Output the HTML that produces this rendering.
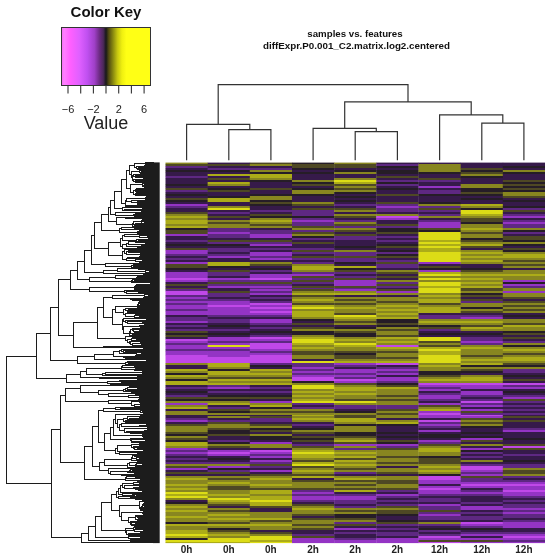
<!DOCTYPE html>
<html><head><meta charset="utf-8"><title>heatmap</title>
<style>html,body{margin:0;padding:0;background:#fff;width:550px;height:558px;overflow:hidden}svg{display:block}</style>
</head><body><svg width="550" height="558" viewBox="0 0 550 558" font-family="Liberation Sans, Arial, sans-serif"><defs><linearGradient id="kg" x1="0" x2="1" y1="0" y2="0"><stop offset="0.0" stop-color="#F070F0"/><stop offset="0.03" stop-color="#FF80FF"/><stop offset="0.1" stop-color="#FF60FF"/><stop offset="0.2" stop-color="#E060FF"/><stop offset="0.29" stop-color="#C050F0"/><stop offset="0.37" stop-color="#A040C8"/><stop offset="0.43" stop-color="#6A2A80"/><stop offset="0.47" stop-color="#4a2858"/><stop offset="0.5" stop-color="#181818"/><stop offset="0.53" stop-color="#504a10"/><stop offset="0.58" stop-color="#8a8a10"/><stop offset="0.63" stop-color="#C8C810"/><stop offset="0.68" stop-color="#F0F010"/><stop offset="0.73" stop-color="#FFFF15"/><stop offset="1.0" stop-color="#FFFF15"/></linearGradient></defs><rect x="61.5" y="27.5" width="89.0" height="58.0" fill="url(#kg)" stroke="#333" stroke-width="1"/><line x1="68.0" y1="85.5" x2="68.0" y2="93.5" stroke="#333" stroke-width="1.1"/><line x1="80.7" y1="85.5" x2="80.7" y2="93.5" stroke="#333" stroke-width="1.1"/><line x1="93.4" y1="85.5" x2="93.4" y2="93.5" stroke="#333" stroke-width="1.1"/><line x1="106.0" y1="85.5" x2="106.0" y2="93.5" stroke="#333" stroke-width="1.1"/><line x1="118.7" y1="85.5" x2="118.7" y2="93.5" stroke="#333" stroke-width="1.1"/><line x1="131.4" y1="85.5" x2="131.4" y2="93.5" stroke="#333" stroke-width="1.1"/><line x1="144.1" y1="85.5" x2="144.1" y2="93.5" stroke="#333" stroke-width="1.1"/><text x="68.0" y="113" text-anchor="middle" font-size="11" fill="#222">−6</text><text x="93.4" y="113" text-anchor="middle" font-size="11" fill="#222">−2</text><text x="118.7" y="113" text-anchor="middle" font-size="11" fill="#222">2</text><text x="144.1" y="113" text-anchor="middle" font-size="11" fill="#222">6</text><text x="106" y="128.5" text-anchor="middle" font-size="18" fill="#222">Value</text><text x="106" y="17.2" text-anchor="middle" font-size="15" font-weight="bold" fill="#111">Color Key</text><text x="355" y="37" text-anchor="middle" font-size="9.7" font-weight="bold" fill="#111">samples vs. features</text><text x="356.5" y="49.3" text-anchor="middle" font-size="9.8" font-weight="bold" fill="#111">diffExpr.P0.001_C2.matrix.log2.centered</text><path d="M186.6 124.3L186.6 159.6M228.8 129.7L228.8 159.6M270.9 129.7L270.9 159.6M228.8 129.7L270.9 129.7M249.8 124.3L249.8 129.7M186.6 124.3L249.8 124.3M218.2 84.6L218.2 124.3M313.1 128.4L313.1 159.6M355.2 131.7L355.2 159.6M397.4 131.7L397.4 159.6M355.2 131.7L397.4 131.7M376.3 128.4L376.3 131.7M313.1 128.4L376.3 128.4M344.7 101.8L344.7 128.4M439.6 114.9L439.6 159.6M481.8 123.1L481.8 159.6M523.9 123.1L523.9 159.6M481.8 123.1L523.9 123.1M502.8 114.9L502.8 123.1M439.6 114.9L502.8 114.9M471.2 101.8L471.2 114.9M344.7 101.8L471.2 101.8M408.0 84.6L408.0 101.8M218.2 84.6L408.0 84.6" stroke="#333" stroke-width="1.2" fill="none" stroke-linecap="square"/><text x="186.6" y="553" text-anchor="middle" font-size="10" font-weight="bold" fill="#222">0h</text><text x="228.8" y="553" text-anchor="middle" font-size="10" font-weight="bold" fill="#222">0h</text><text x="270.9" y="553" text-anchor="middle" font-size="10" font-weight="bold" fill="#222">0h</text><text x="313.1" y="553" text-anchor="middle" font-size="10" font-weight="bold" fill="#222">2h</text><text x="355.2" y="553" text-anchor="middle" font-size="10" font-weight="bold" fill="#222">2h</text><text x="397.4" y="553" text-anchor="middle" font-size="10" font-weight="bold" fill="#222">2h</text><text x="439.6" y="553" text-anchor="middle" font-size="10" font-weight="bold" fill="#222">12h</text><text x="481.8" y="553" text-anchor="middle" font-size="10" font-weight="bold" fill="#222">12h</text><text x="523.9" y="553" text-anchor="middle" font-size="10" font-weight="bold" fill="#222">12h</text><g><rect x="165.50" y="162.60" width="42.47" height="1.70" fill="#888620"/><rect x="165.50" y="164.00" width="42.47" height="2.30" fill="#4E4824"/><rect x="165.50" y="166.00" width="42.47" height="2.30" fill="#5E2882"/><rect x="165.50" y="168.00" width="42.47" height="2.30" fill="#361A4A"/><rect x="165.50" y="170.00" width="42.47" height="2.30" fill="#261D27"/><rect x="165.50" y="172.00" width="42.47" height="4.30" fill="#361A4A"/><rect x="165.50" y="176.00" width="42.47" height="2.30" fill="#5E2882"/><rect x="165.50" y="178.00" width="42.47" height="6.30" fill="#361A4A"/><rect x="165.50" y="184.00" width="42.47" height="2.30" fill="#261D27"/><rect x="165.50" y="186.00" width="42.47" height="2.30" fill="#361A4A"/><rect x="165.50" y="188.00" width="42.47" height="2.30" fill="#4E4824"/><rect x="165.50" y="190.00" width="42.47" height="2.30" fill="#5E2882"/><rect x="165.50" y="192.00" width="42.47" height="2.30" fill="#361A4A"/><rect x="165.50" y="194.00" width="42.47" height="2.30" fill="#261D27"/><rect x="165.50" y="196.00" width="42.47" height="2.30" fill="#361A4A"/><rect x="165.50" y="198.00" width="42.47" height="2.30" fill="#4E4824"/><rect x="165.50" y="200.00" width="42.47" height="2.30" fill="#261D27"/><rect x="165.50" y="202.00" width="42.47" height="2.30" fill="#361A4A"/><rect x="165.50" y="204.00" width="42.47" height="2.30" fill="#9434C4"/><rect x="165.50" y="206.00" width="42.47" height="2.30" fill="#5E2882"/><rect x="165.50" y="208.00" width="42.47" height="4.30" fill="#361A4A"/><rect x="165.50" y="212.00" width="42.47" height="2.30" fill="#4E4824"/><rect x="165.50" y="214.00" width="42.47" height="2.30" fill="#888620"/><rect x="165.50" y="216.00" width="42.47" height="2.30" fill="#ACAC18"/><rect x="165.50" y="218.00" width="42.47" height="2.30" fill="#888620"/><rect x="165.50" y="220.00" width="42.47" height="4.30" fill="#ACAC18"/><rect x="165.50" y="224.00" width="42.47" height="2.30" fill="#888620"/><rect x="165.50" y="226.00" width="42.47" height="2.30" fill="#ACAC18"/><rect x="165.50" y="228.00" width="42.47" height="2.30" fill="#261D27"/><rect x="165.50" y="230.00" width="42.47" height="4.30" fill="#4E4824"/><rect x="165.50" y="234.00" width="42.47" height="2.30" fill="#9434C4"/><rect x="165.50" y="236.00" width="42.47" height="4.30" fill="#361A4A"/><rect x="165.50" y="240.00" width="42.47" height="2.30" fill="#5E2882"/><rect x="165.50" y="242.00" width="42.47" height="2.30" fill="#361A4A"/><rect x="165.50" y="244.00" width="42.47" height="2.30" fill="#261D27"/><rect x="165.50" y="246.00" width="42.47" height="2.30" fill="#361A4A"/><rect x="165.50" y="248.00" width="42.47" height="2.30" fill="#4E4824"/><rect x="165.50" y="250.00" width="42.47" height="4.30" fill="#9434C4"/><rect x="165.50" y="254.00" width="42.47" height="2.30" fill="#5E2882"/><rect x="165.50" y="256.00" width="42.47" height="2.30" fill="#361A4A"/><rect x="165.50" y="258.00" width="42.47" height="2.30" fill="#5E2882"/><rect x="165.50" y="260.00" width="42.47" height="2.30" fill="#361A4A"/><rect x="165.50" y="262.00" width="42.47" height="2.30" fill="#9434C4"/><rect x="165.50" y="264.00" width="42.47" height="4.30" fill="#4E4824"/><rect x="165.50" y="268.00" width="42.47" height="2.30" fill="#261D27"/><rect x="165.50" y="270.00" width="42.47" height="2.30" fill="#361A4A"/><rect x="165.50" y="272.00" width="42.47" height="6.30" fill="#9434C4"/><rect x="165.50" y="278.00" width="42.47" height="2.30" fill="#C048E8"/><rect x="165.50" y="280.00" width="42.47" height="2.30" fill="#9434C4"/><rect x="165.50" y="282.00" width="42.47" height="2.30" fill="#361A4A"/><rect x="165.50" y="284.00" width="42.47" height="2.30" fill="#4E4824"/><rect x="165.50" y="286.00" width="42.47" height="2.30" fill="#361A4A"/><rect x="165.50" y="288.00" width="42.47" height="1.30" fill="#4E4824"/><rect x="165.50" y="289.00" width="42.47" height="2.30" fill="#5E2882"/><rect x="165.50" y="291.00" width="42.47" height="4.30" fill="#C048E8"/><rect x="165.50" y="295.00" width="42.47" height="2.30" fill="#5E2882"/><rect x="165.50" y="297.00" width="42.47" height="2.30" fill="#9434C4"/><rect x="165.50" y="299.00" width="42.47" height="2.30" fill="#5E2882"/><rect x="165.50" y="301.00" width="42.47" height="2.30" fill="#9434C4"/><rect x="165.50" y="303.00" width="42.47" height="2.30" fill="#5E2882"/><rect x="165.50" y="305.00" width="42.47" height="4.30" fill="#9434C4"/><rect x="165.50" y="309.00" width="42.47" height="2.30" fill="#5E2882"/><rect x="165.50" y="311.00" width="42.47" height="4.30" fill="#9434C4"/><rect x="165.50" y="315.00" width="42.47" height="2.30" fill="#361A4A"/><rect x="165.50" y="317.00" width="42.47" height="4.30" fill="#5E2882"/><rect x="165.50" y="321.00" width="42.47" height="2.30" fill="#9434C4"/><rect x="165.50" y="323.00" width="42.47" height="2.30" fill="#361A4A"/><rect x="165.50" y="325.00" width="42.47" height="2.30" fill="#5E2882"/><rect x="165.50" y="327.00" width="42.47" height="2.30" fill="#361A4A"/><rect x="165.50" y="329.00" width="42.47" height="2.30" fill="#5E2882"/><rect x="165.50" y="331.00" width="42.47" height="2.30" fill="#4E4824"/><rect x="165.50" y="333.00" width="42.47" height="2.30" fill="#261D27"/><rect x="165.50" y="335.00" width="42.47" height="2.30" fill="#4E4824"/><rect x="165.50" y="337.00" width="42.47" height="2.30" fill="#361A4A"/><rect x="165.50" y="339.00" width="42.47" height="2.30" fill="#C048E8"/><rect x="165.50" y="341.00" width="42.47" height="2.30" fill="#9434C4"/><rect x="165.50" y="343.00" width="42.47" height="2.30" fill="#5E2882"/><rect x="165.50" y="345.00" width="42.47" height="4.30" fill="#9434C4"/><rect x="165.50" y="349.00" width="42.47" height="2.30" fill="#5E2882"/><rect x="165.50" y="351.00" width="42.47" height="4.30" fill="#9434C4"/><rect x="165.50" y="355.00" width="42.47" height="8.30" fill="#C048E8"/><rect x="165.50" y="363.00" width="42.47" height="2.30" fill="#888620"/><rect x="165.50" y="365.00" width="42.47" height="4.30" fill="#361A4A"/><rect x="165.50" y="369.00" width="42.47" height="2.30" fill="#ACAC18"/><rect x="165.50" y="371.00" width="42.47" height="2.30" fill="#888620"/><rect x="165.50" y="373.00" width="42.47" height="2.30" fill="#261D27"/><rect x="165.50" y="375.00" width="42.47" height="2.30" fill="#ACAC18"/><rect x="165.50" y="377.00" width="42.47" height="2.30" fill="#888620"/><rect x="165.50" y="379.00" width="42.47" height="2.30" fill="#261D27"/><rect x="165.50" y="381.00" width="42.47" height="4.30" fill="#ACAC18"/><rect x="165.50" y="385.00" width="42.47" height="2.30" fill="#361A4A"/><rect x="165.50" y="387.00" width="42.47" height="2.30" fill="#5E2882"/><rect x="165.50" y="389.00" width="42.47" height="2.30" fill="#361A4A"/><rect x="165.50" y="391.00" width="42.47" height="2.30" fill="#261D27"/><rect x="165.50" y="393.00" width="42.47" height="2.30" fill="#361A4A"/><rect x="165.50" y="395.00" width="42.47" height="2.30" fill="#5E2882"/><rect x="165.50" y="397.00" width="42.47" height="2.30" fill="#4E4824"/><rect x="165.50" y="399.00" width="42.47" height="2.30" fill="#261D27"/><rect x="165.50" y="401.00" width="42.47" height="2.30" fill="#888620"/><rect x="165.50" y="403.00" width="42.47" height="2.30" fill="#9434C4"/><rect x="165.50" y="405.00" width="42.47" height="2.30" fill="#888620"/><rect x="165.50" y="407.00" width="42.47" height="2.30" fill="#ACAC18"/><rect x="165.50" y="409.00" width="42.47" height="2.30" fill="#361A4A"/><rect x="165.50" y="411.00" width="42.47" height="4.30" fill="#888620"/><rect x="165.50" y="415.00" width="42.47" height="3.30" fill="#361A4A"/><rect x="165.50" y="418.00" width="42.47" height="2.30" fill="#5E2882"/><rect x="165.50" y="420.00" width="42.47" height="2.30" fill="#9434C4"/><rect x="165.50" y="422.00" width="42.47" height="2.30" fill="#361A4A"/><rect x="165.50" y="424.00" width="42.47" height="2.30" fill="#4E4824"/><rect x="165.50" y="426.00" width="42.47" height="6.30" fill="#888620"/><rect x="165.50" y="432.00" width="42.47" height="2.30" fill="#4E4824"/><rect x="165.50" y="434.00" width="42.47" height="2.30" fill="#261D27"/><rect x="165.50" y="436.00" width="42.47" height="2.30" fill="#888620"/><rect x="165.50" y="438.00" width="42.47" height="2.30" fill="#4E4824"/><rect x="165.50" y="440.00" width="42.47" height="2.30" fill="#261D27"/><rect x="165.50" y="442.00" width="42.47" height="4.30" fill="#ACAC18"/><rect x="165.50" y="446.00" width="42.47" height="2.30" fill="#888620"/><rect x="165.50" y="448.00" width="42.47" height="2.30" fill="#9434C4"/><rect x="165.50" y="450.00" width="42.47" height="2.30" fill="#5E2882"/><rect x="165.50" y="452.00" width="42.47" height="2.30" fill="#9434C4"/><rect x="165.50" y="454.00" width="42.47" height="2.30" fill="#5E2882"/><rect x="165.50" y="456.00" width="42.47" height="2.30" fill="#361A4A"/><rect x="165.50" y="458.00" width="42.47" height="2.30" fill="#5E2882"/><rect x="165.50" y="460.00" width="42.47" height="2.30" fill="#361A4A"/><rect x="165.50" y="462.00" width="42.47" height="2.30" fill="#5E2882"/><rect x="165.50" y="464.00" width="42.47" height="2.30" fill="#888620"/><rect x="165.50" y="466.00" width="42.47" height="2.30" fill="#4E4824"/><rect x="165.50" y="468.00" width="42.47" height="2.30" fill="#9434C4"/><rect x="165.50" y="470.00" width="42.47" height="2.30" fill="#361A4A"/><rect x="165.50" y="472.00" width="42.47" height="2.30" fill="#4E4824"/><rect x="165.50" y="474.00" width="42.47" height="2.30" fill="#361A4A"/><rect x="165.50" y="476.00" width="42.47" height="2.30" fill="#888620"/><rect x="165.50" y="478.00" width="42.47" height="2.30" fill="#ACAC18"/><rect x="165.50" y="480.00" width="42.47" height="4.30" fill="#888620"/><rect x="165.50" y="484.00" width="42.47" height="2.30" fill="#ACAC18"/><rect x="165.50" y="486.00" width="42.47" height="2.30" fill="#888620"/><rect x="165.50" y="488.00" width="42.47" height="2.30" fill="#ACAC18"/><rect x="165.50" y="490.00" width="42.47" height="2.30" fill="#888620"/><rect x="165.50" y="492.00" width="42.47" height="2.30" fill="#DCDC16"/><rect x="165.50" y="494.00" width="42.47" height="2.30" fill="#ACAC18"/><rect x="165.50" y="496.00" width="42.47" height="2.30" fill="#DCDC16"/><rect x="165.50" y="498.00" width="42.47" height="2.30" fill="#888620"/><rect x="165.50" y="500.00" width="42.47" height="2.30" fill="#361A4A"/><rect x="165.50" y="502.00" width="42.47" height="2.30" fill="#261D27"/><rect x="165.50" y="504.00" width="42.47" height="2.30" fill="#888620"/><rect x="165.50" y="506.00" width="42.47" height="2.30" fill="#ACAC18"/><rect x="165.50" y="508.00" width="42.47" height="2.30" fill="#888620"/><rect x="165.50" y="510.00" width="42.47" height="2.30" fill="#ACAC18"/><rect x="165.50" y="512.00" width="42.47" height="4.30" fill="#888620"/><rect x="165.50" y="516.00" width="42.47" height="2.30" fill="#ACAC18"/><rect x="165.50" y="518.00" width="42.47" height="4.30" fill="#888620"/><rect x="165.50" y="522.00" width="42.47" height="2.30" fill="#261D27"/><rect x="165.50" y="524.00" width="42.47" height="2.30" fill="#ACAC18"/><rect x="165.50" y="526.00" width="42.47" height="4.30" fill="#888620"/><rect x="165.50" y="530.00" width="42.47" height="4.30" fill="#ACAC18"/><rect x="165.50" y="534.00" width="42.47" height="2.30" fill="#DCDC16"/><rect x="165.50" y="536.00" width="42.47" height="2.30" fill="#ACAC18"/><rect x="165.50" y="538.00" width="42.47" height="2.30" fill="#261D27"/><rect x="165.50" y="540.00" width="42.47" height="2.30" fill="#DCDC16"/><rect x="165.50" y="542.00" width="42.47" height="1.10" fill="#ACAC18"/><rect x="207.67" y="162.60" width="42.47" height="1.70" fill="#361A4A"/><rect x="207.67" y="164.00" width="42.47" height="2.30" fill="#4E4824"/><rect x="207.67" y="166.00" width="42.47" height="2.30" fill="#361A4A"/><rect x="207.67" y="168.00" width="42.47" height="2.30" fill="#5E2882"/><rect x="207.67" y="170.00" width="42.47" height="2.30" fill="#261D27"/><rect x="207.67" y="172.00" width="42.47" height="2.30" fill="#361A4A"/><rect x="207.67" y="174.00" width="42.47" height="2.30" fill="#ACAC18"/><rect x="207.67" y="176.00" width="42.47" height="2.30" fill="#361A4A"/><rect x="207.67" y="178.00" width="42.47" height="2.30" fill="#4E4824"/><rect x="207.67" y="180.00" width="42.47" height="2.30" fill="#361A4A"/><rect x="207.67" y="182.00" width="42.47" height="2.30" fill="#ACAC18"/><rect x="207.67" y="184.00" width="42.47" height="2.30" fill="#888620"/><rect x="207.67" y="186.00" width="42.47" height="2.30" fill="#361A4A"/><rect x="207.67" y="188.00" width="42.47" height="2.30" fill="#261D27"/><rect x="207.67" y="190.00" width="42.47" height="2.30" fill="#4E4824"/><rect x="207.67" y="192.00" width="42.47" height="4.30" fill="#361A4A"/><rect x="207.67" y="196.00" width="42.47" height="2.30" fill="#261D27"/><rect x="207.67" y="198.00" width="42.47" height="4.30" fill="#ACAC18"/><rect x="207.67" y="202.00" width="42.47" height="4.30" fill="#361A4A"/><rect x="207.67" y="206.00" width="42.47" height="2.30" fill="#888620"/><rect x="207.67" y="208.00" width="42.47" height="2.30" fill="#DCDC16"/><rect x="207.67" y="210.00" width="42.47" height="2.30" fill="#361A4A"/><rect x="207.67" y="212.00" width="42.47" height="2.30" fill="#5E2882"/><rect x="207.67" y="214.00" width="42.47" height="2.30" fill="#361A4A"/><rect x="207.67" y="216.00" width="42.47" height="2.30" fill="#4E4824"/><rect x="207.67" y="218.00" width="42.47" height="2.30" fill="#361A4A"/><rect x="207.67" y="220.00" width="42.47" height="2.30" fill="#888620"/><rect x="207.67" y="222.00" width="42.47" height="2.30" fill="#4E4824"/><rect x="207.67" y="224.00" width="42.47" height="4.30" fill="#888620"/><rect x="207.67" y="228.00" width="42.47" height="4.30" fill="#5E2882"/><rect x="207.67" y="232.00" width="42.47" height="2.30" fill="#9434C4"/><rect x="207.67" y="234.00" width="42.47" height="4.30" fill="#5E2882"/><rect x="207.67" y="238.00" width="42.47" height="2.30" fill="#361A4A"/><rect x="207.67" y="240.00" width="42.47" height="2.30" fill="#4E4824"/><rect x="207.67" y="242.00" width="42.47" height="2.30" fill="#5E2882"/><rect x="207.67" y="244.00" width="42.47" height="2.30" fill="#261D27"/><rect x="207.67" y="246.00" width="42.47" height="2.30" fill="#361A4A"/><rect x="207.67" y="248.00" width="42.47" height="4.30" fill="#5E2882"/><rect x="207.67" y="252.00" width="42.47" height="2.30" fill="#361A4A"/><rect x="207.67" y="254.00" width="42.47" height="2.30" fill="#5E2882"/><rect x="207.67" y="256.00" width="42.47" height="2.30" fill="#9434C4"/><rect x="207.67" y="258.00" width="42.47" height="4.30" fill="#361A4A"/><rect x="207.67" y="262.00" width="42.47" height="4.30" fill="#ACAC18"/><rect x="207.67" y="266.00" width="42.47" height="2.30" fill="#261D27"/><rect x="207.67" y="268.00" width="42.47" height="2.30" fill="#361A4A"/><rect x="207.67" y="270.00" width="42.47" height="2.30" fill="#4E4824"/><rect x="207.67" y="272.00" width="42.47" height="4.30" fill="#5E2882"/><rect x="207.67" y="276.00" width="42.47" height="2.30" fill="#361A4A"/><rect x="207.67" y="278.00" width="42.47" height="2.30" fill="#9434C4"/><rect x="207.67" y="280.00" width="42.47" height="2.30" fill="#5E2882"/><rect x="207.67" y="282.00" width="42.47" height="2.30" fill="#4E4824"/><rect x="207.67" y="284.00" width="42.47" height="2.30" fill="#5E2882"/><rect x="207.67" y="286.00" width="42.47" height="2.30" fill="#9434C4"/><rect x="207.67" y="288.00" width="42.47" height="3.30" fill="#361A4A"/><rect x="207.67" y="291.00" width="42.47" height="2.30" fill="#4E4824"/><rect x="207.67" y="293.00" width="42.47" height="4.30" fill="#5E2882"/><rect x="207.67" y="297.00" width="42.47" height="2.30" fill="#361A4A"/><rect x="207.67" y="299.00" width="42.47" height="2.30" fill="#5E2882"/><rect x="207.67" y="301.00" width="42.47" height="4.30" fill="#9434C4"/><rect x="207.67" y="305.00" width="42.47" height="2.30" fill="#C048E8"/><rect x="207.67" y="307.00" width="42.47" height="8.30" fill="#9434C4"/><rect x="207.67" y="315.00" width="42.47" height="2.30" fill="#5E2882"/><rect x="207.67" y="317.00" width="42.47" height="2.30" fill="#361A4A"/><rect x="207.67" y="319.00" width="42.47" height="4.30" fill="#5E2882"/><rect x="207.67" y="323.00" width="42.47" height="2.30" fill="#361A4A"/><rect x="207.67" y="325.00" width="42.47" height="2.30" fill="#261D27"/><rect x="207.67" y="327.00" width="42.47" height="2.30" fill="#361A4A"/><rect x="207.67" y="329.00" width="42.47" height="2.30" fill="#5E2882"/><rect x="207.67" y="331.00" width="42.47" height="2.30" fill="#361A4A"/><rect x="207.67" y="333.00" width="42.47" height="2.30" fill="#261D27"/><rect x="207.67" y="335.00" width="42.47" height="2.30" fill="#361A4A"/><rect x="207.67" y="337.00" width="42.47" height="4.30" fill="#9434C4"/><rect x="207.67" y="341.00" width="42.47" height="2.30" fill="#5E2882"/><rect x="207.67" y="343.00" width="42.47" height="2.30" fill="#9434C4"/><rect x="207.67" y="345.00" width="42.47" height="2.30" fill="#DCDC16"/><rect x="207.67" y="347.00" width="42.47" height="2.30" fill="#9434C4"/><rect x="207.67" y="349.00" width="42.47" height="2.30" fill="#5E2882"/><rect x="207.67" y="351.00" width="42.47" height="6.30" fill="#9434C4"/><rect x="207.67" y="357.00" width="42.47" height="6.30" fill="#C048E8"/><rect x="207.67" y="363.00" width="42.47" height="4.30" fill="#ACAC18"/><rect x="207.67" y="367.00" width="42.47" height="2.30" fill="#888620"/><rect x="207.67" y="369.00" width="42.47" height="2.30" fill="#261D27"/><rect x="207.67" y="371.00" width="42.47" height="4.30" fill="#ACAC18"/><rect x="207.67" y="375.00" width="42.47" height="2.30" fill="#888620"/><rect x="207.67" y="377.00" width="42.47" height="2.30" fill="#4E4824"/><rect x="207.67" y="379.00" width="42.47" height="2.30" fill="#ACAC18"/><rect x="207.67" y="381.00" width="42.47" height="2.30" fill="#888620"/><rect x="207.67" y="383.00" width="42.47" height="2.30" fill="#ACAC18"/><rect x="207.67" y="385.00" width="42.47" height="2.30" fill="#5E2882"/><rect x="207.67" y="387.00" width="42.47" height="2.30" fill="#9434C4"/><rect x="207.67" y="389.00" width="42.47" height="2.30" fill="#361A4A"/><rect x="207.67" y="391.00" width="42.47" height="2.30" fill="#5E2882"/><rect x="207.67" y="393.00" width="42.47" height="2.30" fill="#361A4A"/><rect x="207.67" y="395.00" width="42.47" height="2.30" fill="#261D27"/><rect x="207.67" y="397.00" width="42.47" height="2.30" fill="#4E4824"/><rect x="207.67" y="399.00" width="42.47" height="2.30" fill="#261D27"/><rect x="207.67" y="401.00" width="42.47" height="2.30" fill="#888620"/><rect x="207.67" y="403.00" width="42.47" height="2.30" fill="#ACAC18"/><rect x="207.67" y="405.00" width="42.47" height="2.30" fill="#361A4A"/><rect x="207.67" y="407.00" width="42.47" height="2.30" fill="#5E2882"/><rect x="207.67" y="409.00" width="42.47" height="2.30" fill="#4E4824"/><rect x="207.67" y="411.00" width="42.47" height="2.30" fill="#261D27"/><rect x="207.67" y="413.00" width="42.47" height="2.30" fill="#888620"/><rect x="207.67" y="415.00" width="42.47" height="1.30" fill="#361A4A"/><rect x="207.67" y="416.00" width="42.47" height="2.30" fill="#888620"/><rect x="207.67" y="418.00" width="42.47" height="2.30" fill="#361A4A"/><rect x="207.67" y="420.00" width="42.47" height="2.30" fill="#5E2882"/><rect x="207.67" y="422.00" width="42.47" height="2.30" fill="#4E4824"/><rect x="207.67" y="424.00" width="42.47" height="4.30" fill="#888620"/><rect x="207.67" y="428.00" width="42.47" height="2.30" fill="#4E4824"/><rect x="207.67" y="430.00" width="42.47" height="4.30" fill="#261D27"/><rect x="207.67" y="434.00" width="42.47" height="2.30" fill="#4E4824"/><rect x="207.67" y="436.00" width="42.47" height="4.30" fill="#361A4A"/><rect x="207.67" y="440.00" width="42.47" height="2.30" fill="#5E2882"/><rect x="207.67" y="442.00" width="42.47" height="2.30" fill="#261D27"/><rect x="207.67" y="444.00" width="42.47" height="2.30" fill="#888620"/><rect x="207.67" y="446.00" width="42.47" height="2.30" fill="#4E4824"/><rect x="207.67" y="448.00" width="42.47" height="2.30" fill="#361A4A"/><rect x="207.67" y="450.00" width="42.47" height="2.30" fill="#9434C4"/><rect x="207.67" y="452.00" width="42.47" height="2.30" fill="#C048E8"/><rect x="207.67" y="454.00" width="42.47" height="2.30" fill="#9434C4"/><rect x="207.67" y="456.00" width="42.47" height="2.30" fill="#361A4A"/><rect x="207.67" y="458.00" width="42.47" height="2.30" fill="#261D27"/><rect x="207.67" y="460.00" width="42.47" height="2.30" fill="#361A4A"/><rect x="207.67" y="462.00" width="42.47" height="2.30" fill="#5E2882"/><rect x="207.67" y="464.00" width="42.47" height="2.30" fill="#888620"/><rect x="207.67" y="466.00" width="42.47" height="2.30" fill="#9434C4"/><rect x="207.67" y="468.00" width="42.47" height="2.30" fill="#261D27"/><rect x="207.67" y="470.00" width="42.47" height="2.30" fill="#5E2882"/><rect x="207.67" y="472.00" width="42.47" height="2.30" fill="#4E4824"/><rect x="207.67" y="474.00" width="42.47" height="2.30" fill="#361A4A"/><rect x="207.67" y="476.00" width="42.47" height="2.30" fill="#888620"/><rect x="207.67" y="478.00" width="42.47" height="2.30" fill="#4E4824"/><rect x="207.67" y="480.00" width="42.47" height="2.30" fill="#888620"/><rect x="207.67" y="482.00" width="42.47" height="2.30" fill="#ACAC18"/><rect x="207.67" y="484.00" width="42.47" height="2.30" fill="#888620"/><rect x="207.67" y="486.00" width="42.47" height="4.30" fill="#4E4824"/><rect x="207.67" y="490.00" width="42.47" height="4.30" fill="#888620"/><rect x="207.67" y="494.00" width="42.47" height="2.30" fill="#ACAC18"/><rect x="207.67" y="496.00" width="42.47" height="2.30" fill="#888620"/><rect x="207.67" y="498.00" width="42.47" height="2.30" fill="#DCDC16"/><rect x="207.67" y="500.00" width="42.47" height="2.30" fill="#ACAC18"/><rect x="207.67" y="502.00" width="42.47" height="2.30" fill="#888620"/><rect x="207.67" y="504.00" width="42.47" height="2.30" fill="#4E4824"/><rect x="207.67" y="506.00" width="42.47" height="2.30" fill="#361A4A"/><rect x="207.67" y="508.00" width="42.47" height="2.30" fill="#888620"/><rect x="207.67" y="510.00" width="42.47" height="2.30" fill="#4E4824"/><rect x="207.67" y="512.00" width="42.47" height="2.30" fill="#888620"/><rect x="207.67" y="514.00" width="42.47" height="2.30" fill="#ACAC18"/><rect x="207.67" y="516.00" width="42.47" height="2.30" fill="#888620"/><rect x="207.67" y="518.00" width="42.47" height="2.30" fill="#ACAC18"/><rect x="207.67" y="520.00" width="42.47" height="2.30" fill="#888620"/><rect x="207.67" y="522.00" width="42.47" height="2.30" fill="#4E4824"/><rect x="207.67" y="524.00" width="42.47" height="2.30" fill="#ACAC18"/><rect x="207.67" y="526.00" width="42.47" height="2.30" fill="#888620"/><rect x="207.67" y="528.00" width="42.47" height="2.30" fill="#261D27"/><rect x="207.67" y="530.00" width="42.47" height="2.30" fill="#4E4824"/><rect x="207.67" y="532.00" width="42.47" height="2.30" fill="#888620"/><rect x="207.67" y="534.00" width="42.47" height="2.30" fill="#ACAC18"/><rect x="207.67" y="536.00" width="42.47" height="2.30" fill="#888620"/><rect x="207.67" y="538.00" width="42.47" height="4.30" fill="#DCDC16"/><rect x="207.67" y="542.00" width="42.47" height="1.10" fill="#ACAC18"/><rect x="249.83" y="162.60" width="42.47" height="1.70" fill="#4E4824"/><rect x="249.83" y="164.00" width="42.47" height="2.30" fill="#888620"/><rect x="249.83" y="166.00" width="42.47" height="2.30" fill="#361A4A"/><rect x="249.83" y="168.00" width="42.47" height="2.30" fill="#5E2882"/><rect x="249.83" y="170.00" width="42.47" height="2.30" fill="#888620"/><rect x="249.83" y="172.00" width="42.47" height="2.30" fill="#261D27"/><rect x="249.83" y="174.00" width="42.47" height="4.30" fill="#ACAC18"/><rect x="249.83" y="178.00" width="42.47" height="2.30" fill="#888620"/><rect x="249.83" y="180.00" width="42.47" height="2.30" fill="#261D27"/><rect x="249.83" y="182.00" width="42.47" height="6.30" fill="#361A4A"/><rect x="249.83" y="188.00" width="42.47" height="2.30" fill="#4E4824"/><rect x="249.83" y="190.00" width="42.47" height="4.30" fill="#361A4A"/><rect x="249.83" y="194.00" width="42.47" height="2.30" fill="#261D27"/><rect x="249.83" y="196.00" width="42.47" height="4.30" fill="#888620"/><rect x="249.83" y="200.00" width="42.47" height="2.30" fill="#261D27"/><rect x="249.83" y="202.00" width="42.47" height="2.30" fill="#4E4824"/><rect x="249.83" y="204.00" width="42.47" height="2.30" fill="#261D27"/><rect x="249.83" y="206.00" width="42.47" height="4.30" fill="#361A4A"/><rect x="249.83" y="210.00" width="42.47" height="2.30" fill="#5E2882"/><rect x="249.83" y="212.00" width="42.47" height="2.30" fill="#361A4A"/><rect x="249.83" y="214.00" width="42.47" height="2.30" fill="#4E4824"/><rect x="249.83" y="216.00" width="42.47" height="2.30" fill="#261D27"/><rect x="249.83" y="218.00" width="42.47" height="2.30" fill="#888620"/><rect x="249.83" y="220.00" width="42.47" height="2.30" fill="#ACAC18"/><rect x="249.83" y="222.00" width="42.47" height="2.30" fill="#888620"/><rect x="249.83" y="224.00" width="42.47" height="2.30" fill="#4E4824"/><rect x="249.83" y="226.00" width="42.47" height="2.30" fill="#888620"/><rect x="249.83" y="228.00" width="42.47" height="2.30" fill="#361A4A"/><rect x="249.83" y="230.00" width="42.47" height="4.30" fill="#5E2882"/><rect x="249.83" y="234.00" width="42.47" height="4.30" fill="#9434C4"/><rect x="249.83" y="238.00" width="42.47" height="2.30" fill="#361A4A"/><rect x="249.83" y="240.00" width="42.47" height="2.30" fill="#4E4824"/><rect x="249.83" y="242.00" width="42.47" height="2.30" fill="#5E2882"/><rect x="249.83" y="244.00" width="42.47" height="2.30" fill="#9434C4"/><rect x="249.83" y="246.00" width="42.47" height="2.30" fill="#361A4A"/><rect x="249.83" y="248.00" width="42.47" height="2.30" fill="#5E2882"/><rect x="249.83" y="250.00" width="42.47" height="2.30" fill="#361A4A"/><rect x="249.83" y="252.00" width="42.47" height="4.30" fill="#9434C4"/><rect x="249.83" y="256.00" width="42.47" height="2.30" fill="#5E2882"/><rect x="249.83" y="258.00" width="42.47" height="2.30" fill="#9434C4"/><rect x="249.83" y="260.00" width="42.47" height="2.30" fill="#361A4A"/><rect x="249.83" y="262.00" width="42.47" height="2.30" fill="#888620"/><rect x="249.83" y="264.00" width="42.47" height="2.30" fill="#4E4824"/><rect x="249.83" y="266.00" width="42.47" height="2.30" fill="#361A4A"/><rect x="249.83" y="268.00" width="42.47" height="2.30" fill="#261D27"/><rect x="249.83" y="270.00" width="42.47" height="2.30" fill="#5E2882"/><rect x="249.83" y="272.00" width="42.47" height="2.30" fill="#361A4A"/><rect x="249.83" y="274.00" width="42.47" height="4.30" fill="#9434C4"/><rect x="249.83" y="278.00" width="42.47" height="2.30" fill="#C048E8"/><rect x="249.83" y="280.00" width="42.47" height="2.30" fill="#5E2882"/><rect x="249.83" y="282.00" width="42.47" height="2.30" fill="#4E4824"/><rect x="249.83" y="284.00" width="42.47" height="2.30" fill="#5E2882"/><rect x="249.83" y="286.00" width="42.47" height="2.30" fill="#9434C4"/><rect x="249.83" y="288.00" width="42.47" height="1.30" fill="#5E2882"/><rect x="249.83" y="289.00" width="42.47" height="2.30" fill="#9434C4"/><rect x="249.83" y="291.00" width="42.47" height="2.30" fill="#5E2882"/><rect x="249.83" y="293.00" width="42.47" height="2.30" fill="#9434C4"/><rect x="249.83" y="295.00" width="42.47" height="2.30" fill="#361A4A"/><rect x="249.83" y="297.00" width="42.47" height="2.30" fill="#5E2882"/><rect x="249.83" y="299.00" width="42.47" height="2.30" fill="#361A4A"/><rect x="249.83" y="301.00" width="42.47" height="2.30" fill="#5E2882"/><rect x="249.83" y="303.00" width="42.47" height="2.30" fill="#C048E8"/><rect x="249.83" y="305.00" width="42.47" height="2.30" fill="#9434C4"/><rect x="249.83" y="307.00" width="42.47" height="2.30" fill="#C048E8"/><rect x="249.83" y="309.00" width="42.47" height="2.30" fill="#9434C4"/><rect x="249.83" y="311.00" width="42.47" height="2.30" fill="#C048E8"/><rect x="249.83" y="313.00" width="42.47" height="2.30" fill="#9434C4"/><rect x="249.83" y="315.00" width="42.47" height="2.30" fill="#5E2882"/><rect x="249.83" y="317.00" width="42.47" height="2.30" fill="#361A4A"/><rect x="249.83" y="319.00" width="42.47" height="4.30" fill="#9434C4"/><rect x="249.83" y="323.00" width="42.47" height="2.30" fill="#5E2882"/><rect x="249.83" y="325.00" width="42.47" height="2.30" fill="#361A4A"/><rect x="249.83" y="327.00" width="42.47" height="2.30" fill="#5E2882"/><rect x="249.83" y="329.00" width="42.47" height="2.30" fill="#361A4A"/><rect x="249.83" y="331.00" width="42.47" height="2.30" fill="#261D27"/><rect x="249.83" y="333.00" width="42.47" height="2.30" fill="#361A4A"/><rect x="249.83" y="335.00" width="42.47" height="2.30" fill="#5E2882"/><rect x="249.83" y="337.00" width="42.47" height="2.30" fill="#C048E8"/><rect x="249.83" y="339.00" width="42.47" height="2.30" fill="#9434C4"/><rect x="249.83" y="341.00" width="42.47" height="2.30" fill="#5E2882"/><rect x="249.83" y="343.00" width="42.47" height="6.30" fill="#C048E8"/><rect x="249.83" y="349.00" width="42.47" height="2.30" fill="#9434C4"/><rect x="249.83" y="351.00" width="42.47" height="2.30" fill="#5E2882"/><rect x="249.83" y="353.00" width="42.47" height="2.30" fill="#9434C4"/><rect x="249.83" y="355.00" width="42.47" height="8.30" fill="#C048E8"/><rect x="249.83" y="363.00" width="42.47" height="2.30" fill="#5E2882"/><rect x="249.83" y="365.00" width="42.47" height="2.30" fill="#261D27"/><rect x="249.83" y="367.00" width="42.47" height="2.30" fill="#361A4A"/><rect x="249.83" y="369.00" width="42.47" height="2.30" fill="#ACAC18"/><rect x="249.83" y="371.00" width="42.47" height="2.30" fill="#888620"/><rect x="249.83" y="373.00" width="42.47" height="2.30" fill="#ACAC18"/><rect x="249.83" y="375.00" width="42.47" height="2.30" fill="#888620"/><rect x="249.83" y="377.00" width="42.47" height="2.30" fill="#4E4824"/><rect x="249.83" y="379.00" width="42.47" height="2.30" fill="#ACAC18"/><rect x="249.83" y="381.00" width="42.47" height="2.30" fill="#888620"/><rect x="249.83" y="383.00" width="42.47" height="2.30" fill="#ACAC18"/><rect x="249.83" y="385.00" width="42.47" height="2.30" fill="#361A4A"/><rect x="249.83" y="387.00" width="42.47" height="2.30" fill="#5E2882"/><rect x="249.83" y="389.00" width="42.47" height="2.30" fill="#361A4A"/><rect x="249.83" y="391.00" width="42.47" height="2.30" fill="#5E2882"/><rect x="249.83" y="393.00" width="42.47" height="2.30" fill="#361A4A"/><rect x="249.83" y="395.00" width="42.47" height="2.30" fill="#261D27"/><rect x="249.83" y="397.00" width="42.47" height="2.30" fill="#4E4824"/><rect x="249.83" y="399.00" width="42.47" height="2.30" fill="#361A4A"/><rect x="249.83" y="401.00" width="42.47" height="2.30" fill="#9434C4"/><rect x="249.83" y="403.00" width="42.47" height="2.30" fill="#888620"/><rect x="249.83" y="405.00" width="42.47" height="2.30" fill="#ACAC18"/><rect x="249.83" y="407.00" width="42.47" height="2.30" fill="#261D27"/><rect x="249.83" y="409.00" width="42.47" height="2.30" fill="#888620"/><rect x="249.83" y="411.00" width="42.47" height="2.30" fill="#4E4824"/><rect x="249.83" y="413.00" width="42.47" height="2.30" fill="#888620"/><rect x="249.83" y="415.00" width="42.47" height="1.30" fill="#361A4A"/><rect x="249.83" y="416.00" width="42.47" height="2.30" fill="#4E4824"/><rect x="249.83" y="418.00" width="42.47" height="4.30" fill="#5E2882"/><rect x="249.83" y="422.00" width="42.47" height="2.30" fill="#361A4A"/><rect x="249.83" y="424.00" width="42.47" height="2.30" fill="#4E4824"/><rect x="249.83" y="426.00" width="42.47" height="2.30" fill="#888620"/><rect x="249.83" y="428.00" width="42.47" height="2.30" fill="#261D27"/><rect x="249.83" y="430.00" width="42.47" height="2.30" fill="#4E4824"/><rect x="249.83" y="432.00" width="42.47" height="2.30" fill="#361A4A"/><rect x="249.83" y="434.00" width="42.47" height="2.30" fill="#888620"/><rect x="249.83" y="436.00" width="42.47" height="4.30" fill="#261D27"/><rect x="249.83" y="440.00" width="42.47" height="2.30" fill="#361A4A"/><rect x="249.83" y="442.00" width="42.47" height="2.30" fill="#9434C4"/><rect x="249.83" y="444.00" width="42.47" height="4.30" fill="#888620"/><rect x="249.83" y="448.00" width="42.47" height="2.30" fill="#361A4A"/><rect x="249.83" y="450.00" width="42.47" height="2.30" fill="#C048E8"/><rect x="249.83" y="452.00" width="42.47" height="2.30" fill="#9434C4"/><rect x="249.83" y="454.00" width="42.47" height="2.30" fill="#5E2882"/><rect x="249.83" y="456.00" width="42.47" height="2.30" fill="#9434C4"/><rect x="249.83" y="458.00" width="42.47" height="2.30" fill="#361A4A"/><rect x="249.83" y="460.00" width="42.47" height="2.30" fill="#9434C4"/><rect x="249.83" y="462.00" width="42.47" height="2.30" fill="#5E2882"/><rect x="249.83" y="464.00" width="42.47" height="2.30" fill="#4E4824"/><rect x="249.83" y="466.00" width="42.47" height="2.30" fill="#5E2882"/><rect x="249.83" y="468.00" width="42.47" height="2.30" fill="#361A4A"/><rect x="249.83" y="470.00" width="42.47" height="2.30" fill="#9434C4"/><rect x="249.83" y="472.00" width="42.47" height="2.30" fill="#361A4A"/><rect x="249.83" y="474.00" width="42.47" height="2.30" fill="#4E4824"/><rect x="249.83" y="476.00" width="42.47" height="2.30" fill="#888620"/><rect x="249.83" y="478.00" width="42.47" height="2.30" fill="#ACAC18"/><rect x="249.83" y="480.00" width="42.47" height="4.30" fill="#888620"/><rect x="249.83" y="484.00" width="42.47" height="2.30" fill="#ACAC18"/><rect x="249.83" y="486.00" width="42.47" height="2.30" fill="#888620"/><rect x="249.83" y="488.00" width="42.47" height="2.30" fill="#4E4824"/><rect x="249.83" y="490.00" width="42.47" height="4.30" fill="#ACAC18"/><rect x="249.83" y="494.00" width="42.47" height="2.30" fill="#888620"/><rect x="249.83" y="496.00" width="42.47" height="4.30" fill="#ACAC18"/><rect x="249.83" y="500.00" width="42.47" height="2.30" fill="#DCDC16"/><rect x="249.83" y="502.00" width="42.47" height="4.30" fill="#ACAC18"/><rect x="249.83" y="506.00" width="42.47" height="2.30" fill="#4E4824"/><rect x="249.83" y="508.00" width="42.47" height="4.30" fill="#361A4A"/><rect x="249.83" y="512.00" width="42.47" height="6.30" fill="#888620"/><rect x="249.83" y="518.00" width="42.47" height="2.30" fill="#ACAC18"/><rect x="249.83" y="520.00" width="42.47" height="2.30" fill="#4E4824"/><rect x="249.83" y="522.00" width="42.47" height="2.30" fill="#888620"/><rect x="249.83" y="524.00" width="42.47" height="2.30" fill="#ACAC18"/><rect x="249.83" y="526.00" width="42.47" height="4.30" fill="#888620"/><rect x="249.83" y="530.00" width="42.47" height="2.30" fill="#361A4A"/><rect x="249.83" y="532.00" width="42.47" height="2.30" fill="#4E4824"/><rect x="249.83" y="534.00" width="42.47" height="2.30" fill="#888620"/><rect x="249.83" y="536.00" width="42.47" height="4.30" fill="#DCDC16"/><rect x="249.83" y="540.00" width="42.47" height="2.30" fill="#ACAC18"/><rect x="249.83" y="542.00" width="42.47" height="1.10" fill="#DCDC16"/><rect x="292.00" y="162.60" width="42.47" height="1.70" fill="#261D27"/><rect x="292.00" y="164.00" width="42.47" height="4.30" fill="#4E4824"/><rect x="292.00" y="168.00" width="42.47" height="2.30" fill="#261D27"/><rect x="292.00" y="170.00" width="42.47" height="2.30" fill="#361A4A"/><rect x="292.00" y="172.00" width="42.47" height="2.30" fill="#261D27"/><rect x="292.00" y="174.00" width="42.47" height="6.30" fill="#361A4A"/><rect x="292.00" y="180.00" width="42.47" height="2.30" fill="#888620"/><rect x="292.00" y="182.00" width="42.47" height="2.30" fill="#261D27"/><rect x="292.00" y="184.00" width="42.47" height="2.30" fill="#4E4824"/><rect x="292.00" y="186.00" width="42.47" height="2.30" fill="#361A4A"/><rect x="292.00" y="188.00" width="42.47" height="2.30" fill="#261D27"/><rect x="292.00" y="190.00" width="42.47" height="4.30" fill="#888620"/><rect x="292.00" y="194.00" width="42.47" height="2.30" fill="#261D27"/><rect x="292.00" y="196.00" width="42.47" height="6.30" fill="#361A4A"/><rect x="292.00" y="202.00" width="42.47" height="2.30" fill="#888620"/><rect x="292.00" y="204.00" width="42.47" height="2.30" fill="#4E4824"/><rect x="292.00" y="206.00" width="42.47" height="2.30" fill="#361A4A"/><rect x="292.00" y="208.00" width="42.47" height="2.30" fill="#4E4824"/><rect x="292.00" y="210.00" width="42.47" height="6.30" fill="#5E2882"/><rect x="292.00" y="216.00" width="42.47" height="2.30" fill="#261D27"/><rect x="292.00" y="218.00" width="42.47" height="2.30" fill="#5E2882"/><rect x="292.00" y="220.00" width="42.47" height="2.30" fill="#9434C4"/><rect x="292.00" y="222.00" width="42.47" height="4.30" fill="#5E2882"/><rect x="292.00" y="226.00" width="42.47" height="2.30" fill="#4E4824"/><rect x="292.00" y="228.00" width="42.47" height="2.30" fill="#888620"/><rect x="292.00" y="230.00" width="42.47" height="2.30" fill="#5E2882"/><rect x="292.00" y="232.00" width="42.47" height="2.30" fill="#4E4824"/><rect x="292.00" y="234.00" width="42.47" height="2.30" fill="#888620"/><rect x="292.00" y="236.00" width="42.47" height="2.30" fill="#261D27"/><rect x="292.00" y="238.00" width="42.47" height="2.30" fill="#5E2882"/><rect x="292.00" y="240.00" width="42.47" height="2.30" fill="#361A4A"/><rect x="292.00" y="242.00" width="42.47" height="2.30" fill="#4E4824"/><rect x="292.00" y="244.00" width="42.47" height="4.30" fill="#361A4A"/><rect x="292.00" y="248.00" width="42.47" height="2.30" fill="#5E2882"/><rect x="292.00" y="250.00" width="42.47" height="2.30" fill="#4E4824"/><rect x="292.00" y="252.00" width="42.47" height="2.30" fill="#5E2882"/><rect x="292.00" y="254.00" width="42.47" height="2.30" fill="#361A4A"/><rect x="292.00" y="256.00" width="42.47" height="2.30" fill="#4E4824"/><rect x="292.00" y="258.00" width="42.47" height="2.30" fill="#5E2882"/><rect x="292.00" y="260.00" width="42.47" height="2.30" fill="#361A4A"/><rect x="292.00" y="262.00" width="42.47" height="2.30" fill="#5E2882"/><rect x="292.00" y="264.00" width="42.47" height="2.30" fill="#888620"/><rect x="292.00" y="266.00" width="42.47" height="4.30" fill="#ACAC18"/><rect x="292.00" y="270.00" width="42.47" height="2.30" fill="#888620"/><rect x="292.00" y="272.00" width="42.47" height="2.30" fill="#5E2882"/><rect x="292.00" y="274.00" width="42.47" height="2.30" fill="#9434C4"/><rect x="292.00" y="276.00" width="42.47" height="2.30" fill="#4E4824"/><rect x="292.00" y="278.00" width="42.47" height="2.30" fill="#5E2882"/><rect x="292.00" y="280.00" width="42.47" height="2.30" fill="#4E4824"/><rect x="292.00" y="282.00" width="42.47" height="2.30" fill="#5E2882"/><rect x="292.00" y="284.00" width="42.47" height="2.30" fill="#361A4A"/><rect x="292.00" y="286.00" width="42.47" height="2.30" fill="#4E4824"/><rect x="292.00" y="288.00" width="42.47" height="1.30" fill="#5E2882"/><rect x="292.00" y="289.00" width="42.47" height="2.30" fill="#4E4824"/><rect x="292.00" y="291.00" width="42.47" height="2.30" fill="#888620"/><rect x="292.00" y="293.00" width="42.47" height="2.30" fill="#ACAC18"/><rect x="292.00" y="295.00" width="42.47" height="2.30" fill="#4E4824"/><rect x="292.00" y="297.00" width="42.47" height="2.30" fill="#888620"/><rect x="292.00" y="299.00" width="42.47" height="2.30" fill="#ACAC18"/><rect x="292.00" y="301.00" width="42.47" height="2.30" fill="#888620"/><rect x="292.00" y="303.00" width="42.47" height="2.30" fill="#4E4824"/><rect x="292.00" y="305.00" width="42.47" height="2.30" fill="#ACAC18"/><rect x="292.00" y="307.00" width="42.47" height="2.30" fill="#DCDC16"/><rect x="292.00" y="309.00" width="42.47" height="2.30" fill="#888620"/><rect x="292.00" y="311.00" width="42.47" height="6.30" fill="#ACAC18"/><rect x="292.00" y="317.00" width="42.47" height="2.30" fill="#888620"/><rect x="292.00" y="319.00" width="42.47" height="2.30" fill="#261D27"/><rect x="292.00" y="321.00" width="42.47" height="2.30" fill="#361A4A"/><rect x="292.00" y="323.00" width="42.47" height="2.30" fill="#4E4824"/><rect x="292.00" y="325.00" width="42.47" height="2.30" fill="#361A4A"/><rect x="292.00" y="327.00" width="42.47" height="2.30" fill="#4E4824"/><rect x="292.00" y="329.00" width="42.47" height="2.30" fill="#888620"/><rect x="292.00" y="331.00" width="42.47" height="4.30" fill="#261D27"/><rect x="292.00" y="335.00" width="42.47" height="2.30" fill="#888620"/><rect x="292.00" y="337.00" width="42.47" height="2.30" fill="#ACAC18"/><rect x="292.00" y="339.00" width="42.47" height="4.30" fill="#DCDC16"/><rect x="292.00" y="343.00" width="42.47" height="2.30" fill="#ACAC18"/><rect x="292.00" y="345.00" width="42.47" height="2.30" fill="#888620"/><rect x="292.00" y="347.00" width="42.47" height="2.30" fill="#ACAC18"/><rect x="292.00" y="349.00" width="42.47" height="2.30" fill="#888620"/><rect x="292.00" y="351.00" width="42.47" height="4.30" fill="#4E4824"/><rect x="292.00" y="355.00" width="42.47" height="4.30" fill="#888620"/><rect x="292.00" y="359.00" width="42.47" height="2.30" fill="#361A4A"/><rect x="292.00" y="361.00" width="42.47" height="2.30" fill="#DCDC16"/><rect x="292.00" y="363.00" width="42.47" height="4.30" fill="#5E2882"/><rect x="292.00" y="367.00" width="42.47" height="2.30" fill="#9434C4"/><rect x="292.00" y="369.00" width="42.47" height="2.30" fill="#5E2882"/><rect x="292.00" y="371.00" width="42.47" height="2.30" fill="#9434C4"/><rect x="292.00" y="373.00" width="42.47" height="2.30" fill="#5E2882"/><rect x="292.00" y="375.00" width="42.47" height="2.30" fill="#9434C4"/><rect x="292.00" y="377.00" width="42.47" height="4.30" fill="#C048E8"/><rect x="292.00" y="381.00" width="42.47" height="2.30" fill="#261D27"/><rect x="292.00" y="383.00" width="42.47" height="2.30" fill="#888620"/><rect x="292.00" y="385.00" width="42.47" height="4.30" fill="#DCDC16"/><rect x="292.00" y="389.00" width="42.47" height="2.30" fill="#888620"/><rect x="292.00" y="391.00" width="42.47" height="2.30" fill="#ACAC18"/><rect x="292.00" y="393.00" width="42.47" height="2.30" fill="#888620"/><rect x="292.00" y="395.00" width="42.47" height="2.30" fill="#ACAC18"/><rect x="292.00" y="397.00" width="42.47" height="2.30" fill="#888620"/><rect x="292.00" y="399.00" width="42.47" height="2.30" fill="#ACAC18"/><rect x="292.00" y="401.00" width="42.47" height="2.30" fill="#DCDC16"/><rect x="292.00" y="403.00" width="42.47" height="2.30" fill="#5E2882"/><rect x="292.00" y="405.00" width="42.47" height="2.30" fill="#361A4A"/><rect x="292.00" y="407.00" width="42.47" height="2.30" fill="#5E2882"/><rect x="292.00" y="409.00" width="42.47" height="2.30" fill="#888620"/><rect x="292.00" y="411.00" width="42.47" height="2.30" fill="#4E4824"/><rect x="292.00" y="413.00" width="42.47" height="2.30" fill="#888620"/><rect x="292.00" y="415.00" width="42.47" height="1.30" fill="#ACAC18"/><rect x="292.00" y="416.00" width="42.47" height="2.30" fill="#888620"/><rect x="292.00" y="418.00" width="42.47" height="2.30" fill="#ACAC18"/><rect x="292.00" y="420.00" width="42.47" height="2.30" fill="#888620"/><rect x="292.00" y="422.00" width="42.47" height="2.30" fill="#361A4A"/><rect x="292.00" y="424.00" width="42.47" height="2.30" fill="#5E2882"/><rect x="292.00" y="426.00" width="42.47" height="2.30" fill="#361A4A"/><rect x="292.00" y="428.00" width="42.47" height="2.30" fill="#261D27"/><rect x="292.00" y="430.00" width="42.47" height="2.30" fill="#888620"/><rect x="292.00" y="432.00" width="42.47" height="2.30" fill="#4E4824"/><rect x="292.00" y="434.00" width="42.47" height="2.30" fill="#361A4A"/><rect x="292.00" y="436.00" width="42.47" height="2.30" fill="#4E4824"/><rect x="292.00" y="438.00" width="42.47" height="2.30" fill="#261D27"/><rect x="292.00" y="440.00" width="42.47" height="2.30" fill="#4E4824"/><rect x="292.00" y="442.00" width="42.47" height="2.30" fill="#361A4A"/><rect x="292.00" y="444.00" width="42.47" height="2.30" fill="#5E2882"/><rect x="292.00" y="446.00" width="42.47" height="2.30" fill="#4E4824"/><rect x="292.00" y="448.00" width="42.47" height="2.30" fill="#888620"/><rect x="292.00" y="450.00" width="42.47" height="2.30" fill="#ACAC18"/><rect x="292.00" y="452.00" width="42.47" height="2.30" fill="#DCDC16"/><rect x="292.00" y="454.00" width="42.47" height="4.30" fill="#ACAC18"/><rect x="292.00" y="458.00" width="42.47" height="2.30" fill="#888620"/><rect x="292.00" y="460.00" width="42.47" height="2.30" fill="#4E4824"/><rect x="292.00" y="462.00" width="42.47" height="2.30" fill="#ACAC18"/><rect x="292.00" y="464.00" width="42.47" height="2.30" fill="#DCDC16"/><rect x="292.00" y="466.00" width="42.47" height="2.30" fill="#4E4824"/><rect x="292.00" y="468.00" width="42.47" height="2.30" fill="#888620"/><rect x="292.00" y="470.00" width="42.47" height="2.30" fill="#ACAC18"/><rect x="292.00" y="472.00" width="42.47" height="2.30" fill="#888620"/><rect x="292.00" y="474.00" width="42.47" height="2.30" fill="#4E4824"/><rect x="292.00" y="476.00" width="42.47" height="2.30" fill="#ACAC18"/><rect x="292.00" y="478.00" width="42.47" height="2.30" fill="#361A4A"/><rect x="292.00" y="480.00" width="42.47" height="2.30" fill="#4E4824"/><rect x="292.00" y="482.00" width="42.47" height="6.30" fill="#888620"/><rect x="292.00" y="488.00" width="42.47" height="2.30" fill="#4E4824"/><rect x="292.00" y="490.00" width="42.47" height="2.30" fill="#5E2882"/><rect x="292.00" y="492.00" width="42.47" height="2.30" fill="#9434C4"/><rect x="292.00" y="494.00" width="42.47" height="2.30" fill="#5E2882"/><rect x="292.00" y="496.00" width="42.47" height="4.30" fill="#9434C4"/><rect x="292.00" y="500.00" width="42.47" height="2.30" fill="#5E2882"/><rect x="292.00" y="502.00" width="42.47" height="2.30" fill="#361A4A"/><rect x="292.00" y="504.00" width="42.47" height="2.30" fill="#4E4824"/><rect x="292.00" y="506.00" width="42.47" height="2.30" fill="#888620"/><rect x="292.00" y="508.00" width="42.47" height="2.30" fill="#ACAC18"/><rect x="292.00" y="510.00" width="42.47" height="4.30" fill="#888620"/><rect x="292.00" y="514.00" width="42.47" height="2.30" fill="#4E4824"/><rect x="292.00" y="516.00" width="42.47" height="2.30" fill="#361A4A"/><rect x="292.00" y="518.00" width="42.47" height="2.30" fill="#4E4824"/><rect x="292.00" y="520.00" width="42.47" height="4.30" fill="#888620"/><rect x="292.00" y="524.00" width="42.47" height="2.30" fill="#4E4824"/><rect x="292.00" y="526.00" width="42.47" height="2.30" fill="#888620"/><rect x="292.00" y="528.00" width="42.47" height="2.30" fill="#4E4824"/><rect x="292.00" y="530.00" width="42.47" height="4.30" fill="#361A4A"/><rect x="292.00" y="534.00" width="42.47" height="2.30" fill="#5E2882"/><rect x="292.00" y="536.00" width="42.47" height="2.30" fill="#4E4824"/><rect x="292.00" y="538.00" width="42.47" height="5.10" fill="#9434C4"/><rect x="334.17" y="162.60" width="42.47" height="1.70" fill="#888620"/><rect x="334.17" y="164.00" width="42.47" height="4.30" fill="#4E4824"/><rect x="334.17" y="168.00" width="42.47" height="2.30" fill="#361A4A"/><rect x="334.17" y="170.00" width="42.47" height="2.30" fill="#261D27"/><rect x="334.17" y="172.00" width="42.47" height="2.30" fill="#888620"/><rect x="334.17" y="174.00" width="42.47" height="4.30" fill="#361A4A"/><rect x="334.17" y="178.00" width="42.47" height="2.30" fill="#888620"/><rect x="334.17" y="180.00" width="42.47" height="2.30" fill="#DCDC16"/><rect x="334.17" y="182.00" width="42.47" height="2.30" fill="#ACAC18"/><rect x="334.17" y="184.00" width="42.47" height="2.30" fill="#4E4824"/><rect x="334.17" y="186.00" width="42.47" height="2.30" fill="#888620"/><rect x="334.17" y="188.00" width="42.47" height="2.30" fill="#4E4824"/><rect x="334.17" y="190.00" width="42.47" height="2.30" fill="#888620"/><rect x="334.17" y="192.00" width="42.47" height="2.30" fill="#261D27"/><rect x="334.17" y="194.00" width="42.47" height="2.30" fill="#361A4A"/><rect x="334.17" y="196.00" width="42.47" height="2.30" fill="#261D27"/><rect x="334.17" y="198.00" width="42.47" height="2.30" fill="#361A4A"/><rect x="334.17" y="200.00" width="42.47" height="2.30" fill="#261D27"/><rect x="334.17" y="202.00" width="42.47" height="2.30" fill="#361A4A"/><rect x="334.17" y="204.00" width="42.47" height="2.30" fill="#5E2882"/><rect x="334.17" y="206.00" width="42.47" height="2.30" fill="#361A4A"/><rect x="334.17" y="208.00" width="42.47" height="2.30" fill="#4E4824"/><rect x="334.17" y="210.00" width="42.47" height="2.30" fill="#888620"/><rect x="334.17" y="212.00" width="42.47" height="2.30" fill="#361A4A"/><rect x="334.17" y="214.00" width="42.47" height="2.30" fill="#888620"/><rect x="334.17" y="216.00" width="42.47" height="2.30" fill="#4E4824"/><rect x="334.17" y="218.00" width="42.47" height="2.30" fill="#361A4A"/><rect x="334.17" y="220.00" width="42.47" height="2.30" fill="#5E2882"/><rect x="334.17" y="222.00" width="42.47" height="2.30" fill="#888620"/><rect x="334.17" y="224.00" width="42.47" height="2.30" fill="#4E4824"/><rect x="334.17" y="226.00" width="42.47" height="2.30" fill="#5E2882"/><rect x="334.17" y="228.00" width="42.47" height="2.30" fill="#888620"/><rect x="334.17" y="230.00" width="42.47" height="2.30" fill="#4E4824"/><rect x="334.17" y="232.00" width="42.47" height="2.30" fill="#361A4A"/><rect x="334.17" y="234.00" width="42.47" height="2.30" fill="#4E4824"/><rect x="334.17" y="236.00" width="42.47" height="4.30" fill="#5E2882"/><rect x="334.17" y="240.00" width="42.47" height="6.30" fill="#361A4A"/><rect x="334.17" y="246.00" width="42.47" height="2.30" fill="#261D27"/><rect x="334.17" y="248.00" width="42.47" height="2.30" fill="#361A4A"/><rect x="334.17" y="250.00" width="42.47" height="2.30" fill="#888620"/><rect x="334.17" y="252.00" width="42.47" height="4.30" fill="#5E2882"/><rect x="334.17" y="256.00" width="42.47" height="2.30" fill="#4E4824"/><rect x="334.17" y="258.00" width="42.47" height="4.30" fill="#5E2882"/><rect x="334.17" y="262.00" width="42.47" height="2.30" fill="#261D27"/><rect x="334.17" y="264.00" width="42.47" height="2.30" fill="#361A4A"/><rect x="334.17" y="266.00" width="42.47" height="2.30" fill="#ACAC18"/><rect x="334.17" y="268.00" width="42.47" height="2.30" fill="#261D27"/><rect x="334.17" y="270.00" width="42.47" height="2.30" fill="#4E4824"/><rect x="334.17" y="272.00" width="42.47" height="2.30" fill="#5E2882"/><rect x="334.17" y="274.00" width="42.47" height="2.30" fill="#361A4A"/><rect x="334.17" y="276.00" width="42.47" height="2.30" fill="#5E2882"/><rect x="334.17" y="278.00" width="42.47" height="2.30" fill="#4E4824"/><rect x="334.17" y="280.00" width="42.47" height="6.30" fill="#9434C4"/><rect x="334.17" y="286.00" width="42.47" height="2.30" fill="#4E4824"/><rect x="334.17" y="288.00" width="42.47" height="1.30" fill="#5E2882"/><rect x="334.17" y="289.00" width="42.47" height="2.30" fill="#9434C4"/><rect x="334.17" y="291.00" width="42.47" height="2.30" fill="#888620"/><rect x="334.17" y="293.00" width="42.47" height="2.30" fill="#ACAC18"/><rect x="334.17" y="295.00" width="42.47" height="2.30" fill="#361A4A"/><rect x="334.17" y="297.00" width="42.47" height="2.30" fill="#888620"/><rect x="334.17" y="299.00" width="42.47" height="2.30" fill="#4E4824"/><rect x="334.17" y="301.00" width="42.47" height="2.30" fill="#888620"/><rect x="334.17" y="303.00" width="42.47" height="2.30" fill="#4E4824"/><rect x="334.17" y="305.00" width="42.47" height="2.30" fill="#888620"/><rect x="334.17" y="307.00" width="42.47" height="2.30" fill="#ACAC18"/><rect x="334.17" y="309.00" width="42.47" height="4.30" fill="#888620"/><rect x="334.17" y="313.00" width="42.47" height="2.30" fill="#4E4824"/><rect x="334.17" y="315.00" width="42.47" height="2.30" fill="#DCDC16"/><rect x="334.17" y="317.00" width="42.47" height="2.30" fill="#ACAC18"/><rect x="334.17" y="319.00" width="42.47" height="2.30" fill="#888620"/><rect x="334.17" y="321.00" width="42.47" height="2.30" fill="#4E4824"/><rect x="334.17" y="323.00" width="42.47" height="2.30" fill="#888620"/><rect x="334.17" y="325.00" width="42.47" height="2.30" fill="#361A4A"/><rect x="334.17" y="327.00" width="42.47" height="2.30" fill="#261D27"/><rect x="334.17" y="329.00" width="42.47" height="2.30" fill="#888620"/><rect x="334.17" y="331.00" width="42.47" height="2.30" fill="#4E4824"/><rect x="334.17" y="333.00" width="42.47" height="4.30" fill="#261D27"/><rect x="334.17" y="337.00" width="42.47" height="2.30" fill="#888620"/><rect x="334.17" y="339.00" width="42.47" height="2.30" fill="#ACAC18"/><rect x="334.17" y="341.00" width="42.47" height="2.30" fill="#888620"/><rect x="334.17" y="343.00" width="42.47" height="2.30" fill="#DCDC16"/><rect x="334.17" y="345.00" width="42.47" height="2.30" fill="#ACAC18"/><rect x="334.17" y="347.00" width="42.47" height="4.30" fill="#888620"/><rect x="334.17" y="351.00" width="42.47" height="2.30" fill="#4E4824"/><rect x="334.17" y="353.00" width="42.47" height="2.30" fill="#261D27"/><rect x="334.17" y="355.00" width="42.47" height="4.30" fill="#4E4824"/><rect x="334.17" y="359.00" width="42.47" height="2.30" fill="#888620"/><rect x="334.17" y="361.00" width="42.47" height="2.30" fill="#ACAC18"/><rect x="334.17" y="363.00" width="42.47" height="2.30" fill="#9434C4"/><rect x="334.17" y="365.00" width="42.47" height="2.30" fill="#5E2882"/><rect x="334.17" y="367.00" width="42.47" height="2.30" fill="#361A4A"/><rect x="334.17" y="369.00" width="42.47" height="4.30" fill="#9434C4"/><rect x="334.17" y="373.00" width="42.47" height="2.30" fill="#5E2882"/><rect x="334.17" y="375.00" width="42.47" height="2.30" fill="#9434C4"/><rect x="334.17" y="377.00" width="42.47" height="2.30" fill="#5E2882"/><rect x="334.17" y="379.00" width="42.47" height="2.30" fill="#C048E8"/><rect x="334.17" y="381.00" width="42.47" height="2.30" fill="#9434C4"/><rect x="334.17" y="383.00" width="42.47" height="2.30" fill="#4E4824"/><rect x="334.17" y="385.00" width="42.47" height="2.30" fill="#888620"/><rect x="334.17" y="387.00" width="42.47" height="4.30" fill="#ACAC18"/><rect x="334.17" y="391.00" width="42.47" height="2.30" fill="#888620"/><rect x="334.17" y="393.00" width="42.47" height="2.30" fill="#ACAC18"/><rect x="334.17" y="395.00" width="42.47" height="4.30" fill="#888620"/><rect x="334.17" y="399.00" width="42.47" height="2.30" fill="#4E4824"/><rect x="334.17" y="401.00" width="42.47" height="2.30" fill="#DCDC16"/><rect x="334.17" y="403.00" width="42.47" height="2.30" fill="#888620"/><rect x="334.17" y="405.00" width="42.47" height="4.30" fill="#5E2882"/><rect x="334.17" y="409.00" width="42.47" height="2.30" fill="#361A4A"/><rect x="334.17" y="411.00" width="42.47" height="2.30" fill="#261D27"/><rect x="334.17" y="413.00" width="42.47" height="2.30" fill="#888620"/><rect x="334.17" y="415.00" width="42.47" height="3.30" fill="#4E4824"/><rect x="334.17" y="418.00" width="42.47" height="4.30" fill="#ACAC18"/><rect x="334.17" y="422.00" width="42.47" height="2.30" fill="#888620"/><rect x="334.17" y="424.00" width="42.47" height="2.30" fill="#261D27"/><rect x="334.17" y="426.00" width="42.47" height="6.30" fill="#888620"/><rect x="334.17" y="432.00" width="42.47" height="4.30" fill="#261D27"/><rect x="334.17" y="436.00" width="42.47" height="2.30" fill="#4E4824"/><rect x="334.17" y="438.00" width="42.47" height="2.30" fill="#888620"/><rect x="334.17" y="440.00" width="42.47" height="2.30" fill="#ACAC18"/><rect x="334.17" y="442.00" width="42.47" height="2.30" fill="#4E4824"/><rect x="334.17" y="444.00" width="42.47" height="2.30" fill="#9434C4"/><rect x="334.17" y="446.00" width="42.47" height="2.30" fill="#888620"/><rect x="334.17" y="448.00" width="42.47" height="2.30" fill="#5E2882"/><rect x="334.17" y="450.00" width="42.47" height="2.30" fill="#888620"/><rect x="334.17" y="452.00" width="42.47" height="2.30" fill="#ACAC18"/><rect x="334.17" y="454.00" width="42.47" height="2.30" fill="#888620"/><rect x="334.17" y="456.00" width="42.47" height="2.30" fill="#ACAC18"/><rect x="334.17" y="458.00" width="42.47" height="2.30" fill="#4E4824"/><rect x="334.17" y="460.00" width="42.47" height="2.30" fill="#ACAC18"/><rect x="334.17" y="462.00" width="42.47" height="2.30" fill="#888620"/><rect x="334.17" y="464.00" width="42.47" height="2.30" fill="#ACAC18"/><rect x="334.17" y="466.00" width="42.47" height="2.30" fill="#888620"/><rect x="334.17" y="468.00" width="42.47" height="2.30" fill="#4E4824"/><rect x="334.17" y="470.00" width="42.47" height="2.30" fill="#888620"/><rect x="334.17" y="472.00" width="42.47" height="2.30" fill="#5E2882"/><rect x="334.17" y="474.00" width="42.47" height="2.30" fill="#361A4A"/><rect x="334.17" y="476.00" width="42.47" height="2.30" fill="#888620"/><rect x="334.17" y="478.00" width="42.47" height="2.30" fill="#ACAC18"/><rect x="334.17" y="480.00" width="42.47" height="2.30" fill="#4E4824"/><rect x="334.17" y="482.00" width="42.47" height="2.30" fill="#888620"/><rect x="334.17" y="484.00" width="42.47" height="2.30" fill="#4E4824"/><rect x="334.17" y="486.00" width="42.47" height="2.30" fill="#888620"/><rect x="334.17" y="488.00" width="42.47" height="2.30" fill="#4E4824"/><rect x="334.17" y="490.00" width="42.47" height="2.30" fill="#ACAC18"/><rect x="334.17" y="492.00" width="42.47" height="2.30" fill="#361A4A"/><rect x="334.17" y="494.00" width="42.47" height="2.30" fill="#5E2882"/><rect x="334.17" y="496.00" width="42.47" height="4.30" fill="#9434C4"/><rect x="334.17" y="500.00" width="42.47" height="4.30" fill="#5E2882"/><rect x="334.17" y="504.00" width="42.47" height="2.30" fill="#361A4A"/><rect x="334.17" y="506.00" width="42.47" height="2.30" fill="#5E2882"/><rect x="334.17" y="508.00" width="42.47" height="2.30" fill="#888620"/><rect x="334.17" y="510.00" width="42.47" height="2.30" fill="#4E4824"/><rect x="334.17" y="512.00" width="42.47" height="2.30" fill="#888620"/><rect x="334.17" y="514.00" width="42.47" height="4.30" fill="#261D27"/><rect x="334.17" y="518.00" width="42.47" height="2.30" fill="#4E4824"/><rect x="334.17" y="520.00" width="42.47" height="2.30" fill="#888620"/><rect x="334.17" y="522.00" width="42.47" height="2.30" fill="#5E2882"/><rect x="334.17" y="524.00" width="42.47" height="2.30" fill="#4E4824"/><rect x="334.17" y="526.00" width="42.47" height="2.30" fill="#361A4A"/><rect x="334.17" y="528.00" width="42.47" height="2.30" fill="#9434C4"/><rect x="334.17" y="530.00" width="42.47" height="2.30" fill="#361A4A"/><rect x="334.17" y="532.00" width="42.47" height="2.30" fill="#5E2882"/><rect x="334.17" y="534.00" width="42.47" height="4.30" fill="#361A4A"/><rect x="334.17" y="538.00" width="42.47" height="2.30" fill="#5E2882"/><rect x="334.17" y="540.00" width="42.47" height="3.10" fill="#9434C4"/><rect x="376.33" y="162.60" width="42.47" height="1.70" fill="#361A4A"/><rect x="376.33" y="164.00" width="42.47" height="2.30" fill="#5E2882"/><rect x="376.33" y="166.00" width="42.47" height="2.30" fill="#261D27"/><rect x="376.33" y="168.00" width="42.47" height="2.30" fill="#361A4A"/><rect x="376.33" y="170.00" width="42.47" height="4.30" fill="#261D27"/><rect x="376.33" y="174.00" width="42.47" height="2.30" fill="#361A4A"/><rect x="376.33" y="176.00" width="42.47" height="2.30" fill="#4E4824"/><rect x="376.33" y="178.00" width="42.47" height="2.30" fill="#361A4A"/><rect x="376.33" y="180.00" width="42.47" height="2.30" fill="#5E2882"/><rect x="376.33" y="182.00" width="42.47" height="2.30" fill="#261D27"/><rect x="376.33" y="184.00" width="42.47" height="2.30" fill="#5E2882"/><rect x="376.33" y="186.00" width="42.47" height="2.30" fill="#361A4A"/><rect x="376.33" y="188.00" width="42.47" height="2.30" fill="#261D27"/><rect x="376.33" y="190.00" width="42.47" height="4.30" fill="#361A4A"/><rect x="376.33" y="194.00" width="42.47" height="2.30" fill="#4E4824"/><rect x="376.33" y="196.00" width="42.47" height="6.30" fill="#361A4A"/><rect x="376.33" y="202.00" width="42.47" height="2.30" fill="#4E4824"/><rect x="376.33" y="204.00" width="42.47" height="2.30" fill="#5E2882"/><rect x="376.33" y="206.00" width="42.47" height="2.30" fill="#9434C4"/><rect x="376.33" y="208.00" width="42.47" height="4.30" fill="#5E2882"/><rect x="376.33" y="212.00" width="42.47" height="2.30" fill="#361A4A"/><rect x="376.33" y="214.00" width="42.47" height="2.30" fill="#888620"/><rect x="376.33" y="216.00" width="42.47" height="2.30" fill="#C048E8"/><rect x="376.33" y="218.00" width="42.47" height="2.30" fill="#9434C4"/><rect x="376.33" y="220.00" width="42.47" height="4.30" fill="#361A4A"/><rect x="376.33" y="224.00" width="42.47" height="2.30" fill="#4E4824"/><rect x="376.33" y="226.00" width="42.47" height="2.30" fill="#5E2882"/><rect x="376.33" y="228.00" width="42.47" height="4.30" fill="#261D27"/><rect x="376.33" y="232.00" width="42.47" height="2.30" fill="#4E4824"/><rect x="376.33" y="234.00" width="42.47" height="2.30" fill="#361A4A"/><rect x="376.33" y="236.00" width="42.47" height="2.30" fill="#5E2882"/><rect x="376.33" y="238.00" width="42.47" height="2.30" fill="#361A4A"/><rect x="376.33" y="240.00" width="42.47" height="2.30" fill="#5E2882"/><rect x="376.33" y="242.00" width="42.47" height="2.30" fill="#361A4A"/><rect x="376.33" y="244.00" width="42.47" height="2.30" fill="#261D27"/><rect x="376.33" y="246.00" width="42.47" height="2.30" fill="#4E4824"/><rect x="376.33" y="248.00" width="42.47" height="2.30" fill="#361A4A"/><rect x="376.33" y="250.00" width="42.47" height="2.30" fill="#261D27"/><rect x="376.33" y="252.00" width="42.47" height="2.30" fill="#5E2882"/><rect x="376.33" y="254.00" width="42.47" height="2.30" fill="#261D27"/><rect x="376.33" y="256.00" width="42.47" height="2.30" fill="#4E4824"/><rect x="376.33" y="258.00" width="42.47" height="2.30" fill="#361A4A"/><rect x="376.33" y="260.00" width="42.47" height="2.30" fill="#5E2882"/><rect x="376.33" y="262.00" width="42.47" height="2.30" fill="#4E4824"/><rect x="376.33" y="264.00" width="42.47" height="4.30" fill="#5E2882"/><rect x="376.33" y="268.00" width="42.47" height="2.30" fill="#361A4A"/><rect x="376.33" y="270.00" width="42.47" height="2.30" fill="#888620"/><rect x="376.33" y="272.00" width="42.47" height="2.30" fill="#4E4824"/><rect x="376.33" y="274.00" width="42.47" height="2.30" fill="#361A4A"/><rect x="376.33" y="276.00" width="42.47" height="2.30" fill="#4E4824"/><rect x="376.33" y="278.00" width="42.47" height="2.30" fill="#361A4A"/><rect x="376.33" y="280.00" width="42.47" height="2.30" fill="#888620"/><rect x="376.33" y="282.00" width="42.47" height="2.30" fill="#5E2882"/><rect x="376.33" y="284.00" width="42.47" height="2.30" fill="#4E4824"/><rect x="376.33" y="286.00" width="42.47" height="2.30" fill="#5E2882"/><rect x="376.33" y="288.00" width="42.47" height="1.30" fill="#361A4A"/><rect x="376.33" y="289.00" width="42.47" height="2.30" fill="#4E4824"/><rect x="376.33" y="291.00" width="42.47" height="2.30" fill="#9434C4"/><rect x="376.33" y="293.00" width="42.47" height="2.30" fill="#888620"/><rect x="376.33" y="295.00" width="42.47" height="2.30" fill="#361A4A"/><rect x="376.33" y="297.00" width="42.47" height="4.30" fill="#888620"/><rect x="376.33" y="301.00" width="42.47" height="2.30" fill="#4E4824"/><rect x="376.33" y="303.00" width="42.47" height="2.30" fill="#888620"/><rect x="376.33" y="305.00" width="42.47" height="2.30" fill="#ACAC18"/><rect x="376.33" y="307.00" width="42.47" height="2.30" fill="#888620"/><rect x="376.33" y="309.00" width="42.47" height="2.30" fill="#ACAC18"/><rect x="376.33" y="311.00" width="42.47" height="2.30" fill="#888620"/><rect x="376.33" y="313.00" width="42.47" height="2.30" fill="#ACAC18"/><rect x="376.33" y="315.00" width="42.47" height="2.30" fill="#888620"/><rect x="376.33" y="317.00" width="42.47" height="2.30" fill="#ACAC18"/><rect x="376.33" y="319.00" width="42.47" height="4.30" fill="#261D27"/><rect x="376.33" y="323.00" width="42.47" height="2.30" fill="#4E4824"/><rect x="376.33" y="325.00" width="42.47" height="2.30" fill="#261D27"/><rect x="376.33" y="327.00" width="42.47" height="2.30" fill="#888620"/><rect x="376.33" y="329.00" width="42.47" height="2.30" fill="#4E4824"/><rect x="376.33" y="331.00" width="42.47" height="4.30" fill="#888620"/><rect x="376.33" y="335.00" width="42.47" height="2.30" fill="#4E4824"/><rect x="376.33" y="337.00" width="42.47" height="2.30" fill="#ACAC18"/><rect x="376.33" y="339.00" width="42.47" height="2.30" fill="#888620"/><rect x="376.33" y="341.00" width="42.47" height="2.30" fill="#ACAC18"/><rect x="376.33" y="343.00" width="42.47" height="2.30" fill="#888620"/><rect x="376.33" y="345.00" width="42.47" height="2.30" fill="#C048E8"/><rect x="376.33" y="347.00" width="42.47" height="2.30" fill="#ACAC18"/><rect x="376.33" y="349.00" width="42.47" height="2.30" fill="#888620"/><rect x="376.33" y="351.00" width="42.47" height="2.30" fill="#4E4824"/><rect x="376.33" y="353.00" width="42.47" height="4.30" fill="#888620"/><rect x="376.33" y="357.00" width="42.47" height="2.30" fill="#4E4824"/><rect x="376.33" y="359.00" width="42.47" height="2.30" fill="#888620"/><rect x="376.33" y="361.00" width="42.47" height="2.30" fill="#ACAC18"/><rect x="376.33" y="363.00" width="42.47" height="2.30" fill="#C048E8"/><rect x="376.33" y="365.00" width="42.47" height="2.30" fill="#361A4A"/><rect x="376.33" y="367.00" width="42.47" height="2.30" fill="#5E2882"/><rect x="376.33" y="369.00" width="42.47" height="2.30" fill="#9434C4"/><rect x="376.33" y="371.00" width="42.47" height="2.30" fill="#5E2882"/><rect x="376.33" y="373.00" width="42.47" height="2.30" fill="#9434C4"/><rect x="376.33" y="375.00" width="42.47" height="2.30" fill="#361A4A"/><rect x="376.33" y="377.00" width="42.47" height="4.30" fill="#9434C4"/><rect x="376.33" y="381.00" width="42.47" height="2.30" fill="#5E2882"/><rect x="376.33" y="383.00" width="42.47" height="2.30" fill="#261D27"/><rect x="376.33" y="385.00" width="42.47" height="2.30" fill="#4E4824"/><rect x="376.33" y="387.00" width="42.47" height="2.30" fill="#ACAC18"/><rect x="376.33" y="389.00" width="42.47" height="6.30" fill="#888620"/><rect x="376.33" y="395.00" width="42.47" height="2.30" fill="#4E4824"/><rect x="376.33" y="397.00" width="42.47" height="2.30" fill="#888620"/><rect x="376.33" y="399.00" width="42.47" height="2.30" fill="#4E4824"/><rect x="376.33" y="401.00" width="42.47" height="4.30" fill="#888620"/><rect x="376.33" y="405.00" width="42.47" height="4.30" fill="#5E2882"/><rect x="376.33" y="409.00" width="42.47" height="2.30" fill="#4E4824"/><rect x="376.33" y="411.00" width="42.47" height="2.30" fill="#888620"/><rect x="376.33" y="413.00" width="42.47" height="2.30" fill="#4E4824"/><rect x="376.33" y="415.00" width="42.47" height="3.30" fill="#888620"/><rect x="376.33" y="418.00" width="42.47" height="2.30" fill="#361A4A"/><rect x="376.33" y="420.00" width="42.47" height="2.30" fill="#888620"/><rect x="376.33" y="422.00" width="42.47" height="2.30" fill="#ACAC18"/><rect x="376.33" y="424.00" width="42.47" height="2.30" fill="#261D27"/><rect x="376.33" y="426.00" width="42.47" height="6.30" fill="#361A4A"/><rect x="376.33" y="432.00" width="42.47" height="2.30" fill="#261D27"/><rect x="376.33" y="434.00" width="42.47" height="2.30" fill="#361A4A"/><rect x="376.33" y="436.00" width="42.47" height="2.30" fill="#261D27"/><rect x="376.33" y="438.00" width="42.47" height="2.30" fill="#361A4A"/><rect x="376.33" y="440.00" width="42.47" height="2.30" fill="#4E4824"/><rect x="376.33" y="442.00" width="42.47" height="2.30" fill="#261D27"/><rect x="376.33" y="444.00" width="42.47" height="2.30" fill="#9434C4"/><rect x="376.33" y="446.00" width="42.47" height="2.30" fill="#5E2882"/><rect x="376.33" y="448.00" width="42.47" height="2.30" fill="#4E4824"/><rect x="376.33" y="450.00" width="42.47" height="6.30" fill="#888620"/><rect x="376.33" y="456.00" width="42.47" height="2.30" fill="#4E4824"/><rect x="376.33" y="458.00" width="42.47" height="4.30" fill="#888620"/><rect x="376.33" y="462.00" width="42.47" height="2.30" fill="#4E4824"/><rect x="376.33" y="464.00" width="42.47" height="2.30" fill="#888620"/><rect x="376.33" y="466.00" width="42.47" height="2.30" fill="#361A4A"/><rect x="376.33" y="468.00" width="42.47" height="4.30" fill="#888620"/><rect x="376.33" y="472.00" width="42.47" height="2.30" fill="#4E4824"/><rect x="376.33" y="474.00" width="42.47" height="2.30" fill="#361A4A"/><rect x="376.33" y="476.00" width="42.47" height="4.30" fill="#888620"/><rect x="376.33" y="480.00" width="42.47" height="4.30" fill="#4E4824"/><rect x="376.33" y="484.00" width="42.47" height="4.30" fill="#888620"/><rect x="376.33" y="488.00" width="42.47" height="2.30" fill="#4E4824"/><rect x="376.33" y="490.00" width="42.47" height="2.30" fill="#5E2882"/><rect x="376.33" y="492.00" width="42.47" height="2.30" fill="#361A4A"/><rect x="376.33" y="494.00" width="42.47" height="2.30" fill="#9434C4"/><rect x="376.33" y="496.00" width="42.47" height="2.30" fill="#5E2882"/><rect x="376.33" y="498.00" width="42.47" height="2.30" fill="#361A4A"/><rect x="376.33" y="500.00" width="42.47" height="2.30" fill="#5E2882"/><rect x="376.33" y="502.00" width="42.47" height="2.30" fill="#361A4A"/><rect x="376.33" y="504.00" width="42.47" height="2.30" fill="#5E2882"/><rect x="376.33" y="506.00" width="42.47" height="2.30" fill="#4E4824"/><rect x="376.33" y="508.00" width="42.47" height="2.30" fill="#888620"/><rect x="376.33" y="510.00" width="42.47" height="4.30" fill="#4E4824"/><rect x="376.33" y="514.00" width="42.47" height="2.30" fill="#261D27"/><rect x="376.33" y="516.00" width="42.47" height="4.30" fill="#361A4A"/><rect x="376.33" y="520.00" width="42.47" height="2.30" fill="#261D27"/><rect x="376.33" y="522.00" width="42.47" height="2.30" fill="#4E4824"/><rect x="376.33" y="524.00" width="42.47" height="2.30" fill="#5E2882"/><rect x="376.33" y="526.00" width="42.47" height="2.30" fill="#361A4A"/><rect x="376.33" y="528.00" width="42.47" height="2.30" fill="#5E2882"/><rect x="376.33" y="530.00" width="42.47" height="2.30" fill="#361A4A"/><rect x="376.33" y="532.00" width="42.47" height="4.30" fill="#5E2882"/><rect x="376.33" y="536.00" width="42.47" height="2.30" fill="#361A4A"/><rect x="376.33" y="538.00" width="42.47" height="5.10" fill="#9434C4"/><rect x="418.50" y="162.60" width="42.47" height="1.70" fill="#361A4A"/><rect x="418.50" y="164.00" width="42.47" height="8.30" fill="#888620"/><rect x="418.50" y="172.00" width="42.47" height="2.30" fill="#261D27"/><rect x="418.50" y="174.00" width="42.47" height="4.30" fill="#361A4A"/><rect x="418.50" y="178.00" width="42.47" height="2.30" fill="#4E4824"/><rect x="418.50" y="180.00" width="42.47" height="2.30" fill="#5E2882"/><rect x="418.50" y="182.00" width="42.47" height="4.30" fill="#361A4A"/><rect x="418.50" y="186.00" width="42.47" height="2.30" fill="#9434C4"/><rect x="418.50" y="188.00" width="42.47" height="2.30" fill="#361A4A"/><rect x="418.50" y="190.00" width="42.47" height="4.30" fill="#5E2882"/><rect x="418.50" y="194.00" width="42.47" height="2.30" fill="#261D27"/><rect x="418.50" y="196.00" width="42.47" height="6.30" fill="#361A4A"/><rect x="418.50" y="202.00" width="42.47" height="2.30" fill="#261D27"/><rect x="418.50" y="204.00" width="42.47" height="2.30" fill="#888620"/><rect x="418.50" y="206.00" width="42.47" height="2.30" fill="#5E2882"/><rect x="418.50" y="208.00" width="42.47" height="2.30" fill="#4E4824"/><rect x="418.50" y="210.00" width="42.47" height="2.30" fill="#5E2882"/><rect x="418.50" y="212.00" width="42.47" height="2.30" fill="#361A4A"/><rect x="418.50" y="214.00" width="42.47" height="2.30" fill="#5E2882"/><rect x="418.50" y="216.00" width="42.47" height="2.30" fill="#888620"/><rect x="418.50" y="218.00" width="42.47" height="2.30" fill="#361A4A"/><rect x="418.50" y="220.00" width="42.47" height="2.30" fill="#5E2882"/><rect x="418.50" y="222.00" width="42.47" height="6.30" fill="#9434C4"/><rect x="418.50" y="228.00" width="42.47" height="2.30" fill="#4E4824"/><rect x="418.50" y="230.00" width="42.47" height="2.30" fill="#261D27"/><rect x="418.50" y="232.00" width="42.47" height="8.30" fill="#DCDC16"/><rect x="418.50" y="240.00" width="42.47" height="2.30" fill="#ACAC18"/><rect x="418.50" y="242.00" width="42.47" height="2.30" fill="#DCDC16"/><rect x="418.50" y="244.00" width="42.47" height="2.30" fill="#ACAC18"/><rect x="418.50" y="246.00" width="42.47" height="2.30" fill="#DCDC16"/><rect x="418.50" y="248.00" width="42.47" height="4.30" fill="#ACAC18"/><rect x="418.50" y="252.00" width="42.47" height="10.30" fill="#DCDC16"/><rect x="418.50" y="262.00" width="42.47" height="2.30" fill="#9434C4"/><rect x="418.50" y="264.00" width="42.47" height="2.30" fill="#361A4A"/><rect x="418.50" y="266.00" width="42.47" height="2.30" fill="#4E4824"/><rect x="418.50" y="268.00" width="42.47" height="2.30" fill="#261D27"/><rect x="418.50" y="270.00" width="42.47" height="2.30" fill="#9434C4"/><rect x="418.50" y="272.00" width="42.47" height="2.30" fill="#ACAC18"/><rect x="418.50" y="274.00" width="42.47" height="2.30" fill="#DCDC16"/><rect x="418.50" y="276.00" width="42.47" height="2.30" fill="#888620"/><rect x="418.50" y="278.00" width="42.47" height="2.30" fill="#DCDC16"/><rect x="418.50" y="280.00" width="42.47" height="2.30" fill="#888620"/><rect x="418.50" y="282.00" width="42.47" height="4.30" fill="#DCDC16"/><rect x="418.50" y="286.00" width="42.47" height="2.30" fill="#ACAC18"/><rect x="418.50" y="288.00" width="42.47" height="5.30" fill="#DCDC16"/><rect x="418.50" y="293.00" width="42.47" height="2.30" fill="#888620"/><rect x="418.50" y="295.00" width="42.47" height="2.30" fill="#ACAC18"/><rect x="418.50" y="297.00" width="42.47" height="2.30" fill="#888620"/><rect x="418.50" y="299.00" width="42.47" height="4.30" fill="#ACAC18"/><rect x="418.50" y="303.00" width="42.47" height="2.30" fill="#4E4824"/><rect x="418.50" y="305.00" width="42.47" height="2.30" fill="#888620"/><rect x="418.50" y="307.00" width="42.47" height="6.30" fill="#ACAC18"/><rect x="418.50" y="313.00" width="42.47" height="2.30" fill="#361A4A"/><rect x="418.50" y="315.00" width="42.47" height="4.30" fill="#5E2882"/><rect x="418.50" y="319.00" width="42.47" height="2.30" fill="#888620"/><rect x="418.50" y="321.00" width="42.47" height="2.30" fill="#ACAC18"/><rect x="418.50" y="323.00" width="42.47" height="2.30" fill="#888620"/><rect x="418.50" y="325.00" width="42.47" height="2.30" fill="#261D27"/><rect x="418.50" y="327.00" width="42.47" height="2.30" fill="#4E4824"/><rect x="418.50" y="329.00" width="42.47" height="2.30" fill="#5E2882"/><rect x="418.50" y="331.00" width="42.47" height="2.30" fill="#361A4A"/><rect x="418.50" y="333.00" width="42.47" height="2.30" fill="#261D27"/><rect x="418.50" y="335.00" width="42.47" height="2.30" fill="#361A4A"/><rect x="418.50" y="337.00" width="42.47" height="4.30" fill="#DCDC16"/><rect x="418.50" y="341.00" width="42.47" height="2.30" fill="#4E4824"/><rect x="418.50" y="343.00" width="42.47" height="2.30" fill="#888620"/><rect x="418.50" y="345.00" width="42.47" height="2.30" fill="#4E4824"/><rect x="418.50" y="347.00" width="42.47" height="2.30" fill="#ACAC18"/><rect x="418.50" y="349.00" width="42.47" height="2.30" fill="#DCDC16"/><rect x="418.50" y="351.00" width="42.47" height="4.30" fill="#ACAC18"/><rect x="418.50" y="355.00" width="42.47" height="8.30" fill="#DCDC16"/><rect x="418.50" y="363.00" width="42.47" height="2.30" fill="#888620"/><rect x="418.50" y="365.00" width="42.47" height="2.30" fill="#ACAC18"/><rect x="418.50" y="367.00" width="42.47" height="4.30" fill="#888620"/><rect x="418.50" y="371.00" width="42.47" height="4.30" fill="#261D27"/><rect x="418.50" y="375.00" width="42.47" height="2.30" fill="#4E4824"/><rect x="418.50" y="377.00" width="42.47" height="2.30" fill="#888620"/><rect x="418.50" y="379.00" width="42.47" height="2.30" fill="#ACAC18"/><rect x="418.50" y="381.00" width="42.47" height="2.30" fill="#888620"/><rect x="418.50" y="383.00" width="42.47" height="2.30" fill="#C048E8"/><rect x="418.50" y="385.00" width="42.47" height="2.30" fill="#9434C4"/><rect x="418.50" y="387.00" width="42.47" height="2.30" fill="#5E2882"/><rect x="418.50" y="389.00" width="42.47" height="2.30" fill="#9434C4"/><rect x="418.50" y="391.00" width="42.47" height="2.30" fill="#361A4A"/><rect x="418.50" y="393.00" width="42.47" height="2.30" fill="#5E2882"/><rect x="418.50" y="395.00" width="42.47" height="4.30" fill="#9434C4"/><rect x="418.50" y="399.00" width="42.47" height="2.30" fill="#5E2882"/><rect x="418.50" y="401.00" width="42.47" height="2.30" fill="#361A4A"/><rect x="418.50" y="403.00" width="42.47" height="2.30" fill="#9434C4"/><rect x="418.50" y="405.00" width="42.47" height="2.30" fill="#4E4824"/><rect x="418.50" y="407.00" width="42.47" height="2.30" fill="#888620"/><rect x="418.50" y="409.00" width="42.47" height="2.30" fill="#ACAC18"/><rect x="418.50" y="411.00" width="42.47" height="2.30" fill="#9434C4"/><rect x="418.50" y="413.00" width="42.47" height="2.30" fill="#C048E8"/><rect x="418.50" y="415.00" width="42.47" height="3.30" fill="#9434C4"/><rect x="418.50" y="418.00" width="42.47" height="2.30" fill="#361A4A"/><rect x="418.50" y="420.00" width="42.47" height="2.30" fill="#C048E8"/><rect x="418.50" y="422.00" width="42.47" height="2.30" fill="#5E2882"/><rect x="418.50" y="424.00" width="42.47" height="2.30" fill="#9434C4"/><rect x="418.50" y="426.00" width="42.47" height="2.30" fill="#5E2882"/><rect x="418.50" y="428.00" width="42.47" height="2.30" fill="#361A4A"/><rect x="418.50" y="430.00" width="42.47" height="2.30" fill="#9434C4"/><rect x="418.50" y="432.00" width="42.47" height="2.30" fill="#361A4A"/><rect x="418.50" y="434.00" width="42.47" height="4.30" fill="#261D27"/><rect x="418.50" y="438.00" width="42.47" height="2.30" fill="#361A4A"/><rect x="418.50" y="440.00" width="42.47" height="2.30" fill="#9434C4"/><rect x="418.50" y="442.00" width="42.47" height="2.30" fill="#5E2882"/><rect x="418.50" y="444.00" width="42.47" height="2.30" fill="#4E4824"/><rect x="418.50" y="446.00" width="42.47" height="2.30" fill="#888620"/><rect x="418.50" y="448.00" width="42.47" height="4.30" fill="#ACAC18"/><rect x="418.50" y="452.00" width="42.47" height="4.30" fill="#888620"/><rect x="418.50" y="456.00" width="42.47" height="2.30" fill="#261D27"/><rect x="418.50" y="458.00" width="42.47" height="6.30" fill="#4E4824"/><rect x="418.50" y="464.00" width="42.47" height="2.30" fill="#888620"/><rect x="418.50" y="466.00" width="42.47" height="2.30" fill="#ACAC18"/><rect x="418.50" y="468.00" width="42.47" height="2.30" fill="#888620"/><rect x="418.50" y="470.00" width="42.47" height="2.30" fill="#ACAC18"/><rect x="418.50" y="472.00" width="42.47" height="2.30" fill="#888620"/><rect x="418.50" y="474.00" width="42.47" height="2.30" fill="#261D27"/><rect x="418.50" y="476.00" width="42.47" height="4.30" fill="#C048E8"/><rect x="418.50" y="480.00" width="42.47" height="4.30" fill="#9434C4"/><rect x="418.50" y="484.00" width="42.47" height="2.30" fill="#361A4A"/><rect x="418.50" y="486.00" width="42.47" height="2.30" fill="#9434C4"/><rect x="418.50" y="488.00" width="42.47" height="2.30" fill="#C048E8"/><rect x="418.50" y="490.00" width="42.47" height="4.30" fill="#9434C4"/><rect x="418.50" y="494.00" width="42.47" height="2.30" fill="#5E2882"/><rect x="418.50" y="496.00" width="42.47" height="2.30" fill="#361A4A"/><rect x="418.50" y="498.00" width="42.47" height="4.30" fill="#5E2882"/><rect x="418.50" y="502.00" width="42.47" height="2.30" fill="#361A4A"/><rect x="418.50" y="504.00" width="42.47" height="2.30" fill="#9434C4"/><rect x="418.50" y="506.00" width="42.47" height="4.30" fill="#5E2882"/><rect x="418.50" y="510.00" width="42.47" height="2.30" fill="#4E4824"/><rect x="418.50" y="512.00" width="42.47" height="2.30" fill="#5E2882"/><rect x="418.50" y="514.00" width="42.47" height="2.30" fill="#9434C4"/><rect x="418.50" y="516.00" width="42.47" height="4.30" fill="#5E2882"/><rect x="418.50" y="520.00" width="42.47" height="2.30" fill="#361A4A"/><rect x="418.50" y="522.00" width="42.47" height="2.30" fill="#888620"/><rect x="418.50" y="524.00" width="42.47" height="2.30" fill="#5E2882"/><rect x="418.50" y="526.00" width="42.47" height="2.30" fill="#361A4A"/><rect x="418.50" y="528.00" width="42.47" height="2.30" fill="#261D27"/><rect x="418.50" y="530.00" width="42.47" height="2.30" fill="#5E2882"/><rect x="418.50" y="532.00" width="42.47" height="2.30" fill="#361A4A"/><rect x="418.50" y="534.00" width="42.47" height="2.30" fill="#5E2882"/><rect x="418.50" y="536.00" width="42.47" height="2.30" fill="#C048E8"/><rect x="418.50" y="538.00" width="42.47" height="2.30" fill="#9434C4"/><rect x="418.50" y="540.00" width="42.47" height="2.30" fill="#4E4824"/><rect x="418.50" y="542.00" width="42.47" height="1.10" fill="#C048E8"/><rect x="460.67" y="162.60" width="42.47" height="5.70" fill="#361A4A"/><rect x="460.67" y="168.00" width="42.47" height="2.30" fill="#4E4824"/><rect x="460.67" y="170.00" width="42.47" height="2.30" fill="#261D27"/><rect x="460.67" y="172.00" width="42.47" height="2.30" fill="#4E4824"/><rect x="460.67" y="174.00" width="42.47" height="2.30" fill="#888620"/><rect x="460.67" y="176.00" width="42.47" height="2.30" fill="#261D27"/><rect x="460.67" y="178.00" width="42.47" height="6.30" fill="#361A4A"/><rect x="460.67" y="184.00" width="42.47" height="4.30" fill="#888620"/><rect x="460.67" y="188.00" width="42.47" height="4.30" fill="#261D27"/><rect x="460.67" y="192.00" width="42.47" height="2.30" fill="#4E4824"/><rect x="460.67" y="194.00" width="42.47" height="2.30" fill="#261D27"/><rect x="460.67" y="196.00" width="42.47" height="2.30" fill="#361A4A"/><rect x="460.67" y="198.00" width="42.47" height="2.30" fill="#261D27"/><rect x="460.67" y="200.00" width="42.47" height="4.30" fill="#361A4A"/><rect x="460.67" y="204.00" width="42.47" height="2.30" fill="#ACAC18"/><rect x="460.67" y="206.00" width="42.47" height="2.30" fill="#888620"/><rect x="460.67" y="208.00" width="42.47" height="2.30" fill="#261D27"/><rect x="460.67" y="210.00" width="42.47" height="4.30" fill="#DCDC16"/><rect x="460.67" y="214.00" width="42.47" height="2.30" fill="#ACAC18"/><rect x="460.67" y="216.00" width="42.47" height="2.30" fill="#888620"/><rect x="460.67" y="218.00" width="42.47" height="4.30" fill="#4E4824"/><rect x="460.67" y="222.00" width="42.47" height="2.30" fill="#261D27"/><rect x="460.67" y="224.00" width="42.47" height="4.30" fill="#888620"/><rect x="460.67" y="228.00" width="42.47" height="2.30" fill="#ACAC18"/><rect x="460.67" y="230.00" width="42.47" height="2.30" fill="#888620"/><rect x="460.67" y="232.00" width="42.47" height="2.30" fill="#4E4824"/><rect x="460.67" y="234.00" width="42.47" height="4.30" fill="#888620"/><rect x="460.67" y="238.00" width="42.47" height="2.30" fill="#261D27"/><rect x="460.67" y="240.00" width="42.47" height="2.30" fill="#4E4824"/><rect x="460.67" y="242.00" width="42.47" height="2.30" fill="#888620"/><rect x="460.67" y="244.00" width="42.47" height="2.30" fill="#ACAC18"/><rect x="460.67" y="246.00" width="42.47" height="2.30" fill="#4E4824"/><rect x="460.67" y="248.00" width="42.47" height="2.30" fill="#361A4A"/><rect x="460.67" y="250.00" width="42.47" height="2.30" fill="#888620"/><rect x="460.67" y="252.00" width="42.47" height="2.30" fill="#ACAC18"/><rect x="460.67" y="254.00" width="42.47" height="2.30" fill="#888620"/><rect x="460.67" y="256.00" width="42.47" height="2.30" fill="#ACAC18"/><rect x="460.67" y="258.00" width="42.47" height="2.30" fill="#888620"/><rect x="460.67" y="260.00" width="42.47" height="2.30" fill="#ACAC18"/><rect x="460.67" y="262.00" width="42.47" height="2.30" fill="#888620"/><rect x="460.67" y="264.00" width="42.47" height="4.30" fill="#361A4A"/><rect x="460.67" y="268.00" width="42.47" height="2.30" fill="#261D27"/><rect x="460.67" y="270.00" width="42.47" height="2.30" fill="#4E4824"/><rect x="460.67" y="272.00" width="42.47" height="2.30" fill="#888620"/><rect x="460.67" y="274.00" width="42.47" height="2.30" fill="#ACAC18"/><rect x="460.67" y="276.00" width="42.47" height="2.30" fill="#888620"/><rect x="460.67" y="278.00" width="42.47" height="2.30" fill="#ACAC18"/><rect x="460.67" y="280.00" width="42.47" height="2.30" fill="#888620"/><rect x="460.67" y="282.00" width="42.47" height="2.30" fill="#ACAC18"/><rect x="460.67" y="284.00" width="42.47" height="2.30" fill="#888620"/><rect x="460.67" y="286.00" width="42.47" height="2.30" fill="#ACAC18"/><rect x="460.67" y="288.00" width="42.47" height="3.30" fill="#4E4824"/><rect x="460.67" y="291.00" width="42.47" height="2.30" fill="#888620"/><rect x="460.67" y="293.00" width="42.47" height="2.30" fill="#261D27"/><rect x="460.67" y="295.00" width="42.47" height="2.30" fill="#4E4824"/><rect x="460.67" y="297.00" width="42.47" height="2.30" fill="#361A4A"/><rect x="460.67" y="299.00" width="42.47" height="2.30" fill="#4E4824"/><rect x="460.67" y="301.00" width="42.47" height="2.30" fill="#5E2882"/><rect x="460.67" y="303.00" width="42.47" height="4.30" fill="#888620"/><rect x="460.67" y="307.00" width="42.47" height="2.30" fill="#261D27"/><rect x="460.67" y="309.00" width="42.47" height="2.30" fill="#888620"/><rect x="460.67" y="311.00" width="42.47" height="2.30" fill="#4E4824"/><rect x="460.67" y="313.00" width="42.47" height="2.30" fill="#361A4A"/><rect x="460.67" y="315.00" width="42.47" height="2.30" fill="#5E2882"/><rect x="460.67" y="317.00" width="42.47" height="2.30" fill="#9434C4"/><rect x="460.67" y="319.00" width="42.47" height="2.30" fill="#888620"/><rect x="460.67" y="321.00" width="42.47" height="2.30" fill="#ACAC18"/><rect x="460.67" y="323.00" width="42.47" height="2.30" fill="#888620"/><rect x="460.67" y="325.00" width="42.47" height="2.30" fill="#4E4824"/><rect x="460.67" y="327.00" width="42.47" height="2.30" fill="#ACAC18"/><rect x="460.67" y="329.00" width="42.47" height="2.30" fill="#888620"/><rect x="460.67" y="331.00" width="42.47" height="2.30" fill="#361A4A"/><rect x="460.67" y="333.00" width="42.47" height="2.30" fill="#261D27"/><rect x="460.67" y="335.00" width="42.47" height="2.30" fill="#361A4A"/><rect x="460.67" y="337.00" width="42.47" height="4.30" fill="#5E2882"/><rect x="460.67" y="341.00" width="42.47" height="2.30" fill="#9434C4"/><rect x="460.67" y="343.00" width="42.47" height="2.30" fill="#5E2882"/><rect x="460.67" y="345.00" width="42.47" height="2.30" fill="#888620"/><rect x="460.67" y="347.00" width="42.47" height="2.30" fill="#ACAC18"/><rect x="460.67" y="349.00" width="42.47" height="6.30" fill="#888620"/><rect x="460.67" y="355.00" width="42.47" height="2.30" fill="#4E4824"/><rect x="460.67" y="357.00" width="42.47" height="2.30" fill="#888620"/><rect x="460.67" y="359.00" width="42.47" height="2.30" fill="#ACAC18"/><rect x="460.67" y="361.00" width="42.47" height="2.30" fill="#888620"/><rect x="460.67" y="363.00" width="42.47" height="2.30" fill="#ACAC18"/><rect x="460.67" y="365.00" width="42.47" height="2.30" fill="#261D27"/><rect x="460.67" y="367.00" width="42.47" height="2.30" fill="#888620"/><rect x="460.67" y="369.00" width="42.47" height="2.30" fill="#4E4824"/><rect x="460.67" y="371.00" width="42.47" height="2.30" fill="#261D27"/><rect x="460.67" y="373.00" width="42.47" height="2.30" fill="#361A4A"/><rect x="460.67" y="375.00" width="42.47" height="2.30" fill="#888620"/><rect x="460.67" y="377.00" width="42.47" height="4.30" fill="#ACAC18"/><rect x="460.67" y="381.00" width="42.47" height="2.30" fill="#888620"/><rect x="460.67" y="383.00" width="42.47" height="2.30" fill="#C048E8"/><rect x="460.67" y="385.00" width="42.47" height="4.30" fill="#9434C4"/><rect x="460.67" y="389.00" width="42.47" height="2.30" fill="#361A4A"/><rect x="460.67" y="391.00" width="42.47" height="4.30" fill="#9434C4"/><rect x="460.67" y="395.00" width="42.47" height="2.30" fill="#5E2882"/><rect x="460.67" y="397.00" width="42.47" height="2.30" fill="#361A4A"/><rect x="460.67" y="399.00" width="42.47" height="2.30" fill="#5E2882"/><rect x="460.67" y="401.00" width="42.47" height="2.30" fill="#C048E8"/><rect x="460.67" y="403.00" width="42.47" height="2.30" fill="#5E2882"/><rect x="460.67" y="405.00" width="42.47" height="2.30" fill="#9434C4"/><rect x="460.67" y="407.00" width="42.47" height="2.30" fill="#361A4A"/><rect x="460.67" y="409.00" width="42.47" height="2.30" fill="#9434C4"/><rect x="460.67" y="411.00" width="42.47" height="2.30" fill="#4E4824"/><rect x="460.67" y="413.00" width="42.47" height="2.30" fill="#5E2882"/><rect x="460.67" y="415.00" width="42.47" height="1.30" fill="#C048E8"/><rect x="460.67" y="416.00" width="42.47" height="2.30" fill="#9434C4"/><rect x="460.67" y="418.00" width="42.47" height="2.30" fill="#4E4824"/><rect x="460.67" y="420.00" width="42.47" height="2.30" fill="#888620"/><rect x="460.67" y="422.00" width="42.47" height="2.30" fill="#4E4824"/><rect x="460.67" y="424.00" width="42.47" height="2.30" fill="#888620"/><rect x="460.67" y="426.00" width="42.47" height="2.30" fill="#261D27"/><rect x="460.67" y="428.00" width="42.47" height="4.30" fill="#361A4A"/><rect x="460.67" y="432.00" width="42.47" height="2.30" fill="#261D27"/><rect x="460.67" y="434.00" width="42.47" height="2.30" fill="#361A4A"/><rect x="460.67" y="436.00" width="42.47" height="2.30" fill="#261D27"/><rect x="460.67" y="438.00" width="42.47" height="2.30" fill="#9434C4"/><rect x="460.67" y="440.00" width="42.47" height="2.30" fill="#4E4824"/><rect x="460.67" y="442.00" width="42.47" height="2.30" fill="#361A4A"/><rect x="460.67" y="444.00" width="42.47" height="2.30" fill="#888620"/><rect x="460.67" y="446.00" width="42.47" height="2.30" fill="#361A4A"/><rect x="460.67" y="448.00" width="42.47" height="2.30" fill="#9434C4"/><rect x="460.67" y="450.00" width="42.47" height="2.30" fill="#261D27"/><rect x="460.67" y="452.00" width="42.47" height="2.30" fill="#5E2882"/><rect x="460.67" y="454.00" width="42.47" height="2.30" fill="#361A4A"/><rect x="460.67" y="456.00" width="42.47" height="2.30" fill="#5E2882"/><rect x="460.67" y="458.00" width="42.47" height="2.30" fill="#361A4A"/><rect x="460.67" y="460.00" width="42.47" height="2.30" fill="#888620"/><rect x="460.67" y="462.00" width="42.47" height="2.30" fill="#361A4A"/><rect x="460.67" y="464.00" width="42.47" height="2.30" fill="#5E2882"/><rect x="460.67" y="466.00" width="42.47" height="4.30" fill="#C048E8"/><rect x="460.67" y="470.00" width="42.47" height="2.30" fill="#9434C4"/><rect x="460.67" y="472.00" width="42.47" height="2.30" fill="#5E2882"/><rect x="460.67" y="474.00" width="42.47" height="2.30" fill="#9434C4"/><rect x="460.67" y="476.00" width="42.47" height="2.30" fill="#4E4824"/><rect x="460.67" y="478.00" width="42.47" height="4.30" fill="#5E2882"/><rect x="460.67" y="482.00" width="42.47" height="2.30" fill="#9434C4"/><rect x="460.67" y="484.00" width="42.47" height="2.30" fill="#C048E8"/><rect x="460.67" y="486.00" width="42.47" height="2.30" fill="#9434C4"/><rect x="460.67" y="488.00" width="42.47" height="2.30" fill="#361A4A"/><rect x="460.67" y="490.00" width="42.47" height="2.30" fill="#5E2882"/><rect x="460.67" y="492.00" width="42.47" height="2.30" fill="#9434C4"/><rect x="460.67" y="494.00" width="42.47" height="2.30" fill="#5E2882"/><rect x="460.67" y="496.00" width="42.47" height="6.30" fill="#361A4A"/><rect x="460.67" y="502.00" width="42.47" height="2.30" fill="#5E2882"/><rect x="460.67" y="504.00" width="42.47" height="2.30" fill="#361A4A"/><rect x="460.67" y="506.00" width="42.47" height="4.30" fill="#9434C4"/><rect x="460.67" y="510.00" width="42.47" height="2.30" fill="#361A4A"/><rect x="460.67" y="512.00" width="42.47" height="2.30" fill="#5E2882"/><rect x="460.67" y="514.00" width="42.47" height="2.30" fill="#361A4A"/><rect x="460.67" y="516.00" width="42.47" height="4.30" fill="#5E2882"/><rect x="460.67" y="520.00" width="42.47" height="2.30" fill="#361A4A"/><rect x="460.67" y="522.00" width="42.47" height="2.30" fill="#C048E8"/><rect x="460.67" y="524.00" width="42.47" height="2.30" fill="#9434C4"/><rect x="460.67" y="526.00" width="42.47" height="2.30" fill="#5E2882"/><rect x="460.67" y="528.00" width="42.47" height="2.30" fill="#261D27"/><rect x="460.67" y="530.00" width="42.47" height="2.30" fill="#361A4A"/><rect x="460.67" y="532.00" width="42.47" height="2.30" fill="#5E2882"/><rect x="460.67" y="534.00" width="42.47" height="2.30" fill="#9434C4"/><rect x="460.67" y="536.00" width="42.47" height="2.30" fill="#361A4A"/><rect x="460.67" y="538.00" width="42.47" height="2.30" fill="#9434C4"/><rect x="460.67" y="540.00" width="42.47" height="2.30" fill="#4E4824"/><rect x="460.67" y="542.00" width="42.47" height="1.10" fill="#9434C4"/><rect x="502.83" y="162.60" width="42.17" height="3.70" fill="#361A4A"/><rect x="502.83" y="166.00" width="42.17" height="2.30" fill="#261D27"/><rect x="502.83" y="168.00" width="42.17" height="2.30" fill="#361A4A"/><rect x="502.83" y="170.00" width="42.17" height="2.30" fill="#888620"/><rect x="502.83" y="172.00" width="42.17" height="2.30" fill="#261D27"/><rect x="502.83" y="174.00" width="42.17" height="6.30" fill="#361A4A"/><rect x="502.83" y="180.00" width="42.17" height="2.30" fill="#4E4824"/><rect x="502.83" y="182.00" width="42.17" height="2.30" fill="#261D27"/><rect x="502.83" y="184.00" width="42.17" height="2.30" fill="#4E4824"/><rect x="502.83" y="186.00" width="42.17" height="2.30" fill="#261D27"/><rect x="502.83" y="188.00" width="42.17" height="2.30" fill="#4E4824"/><rect x="502.83" y="190.00" width="42.17" height="2.30" fill="#261D27"/><rect x="502.83" y="192.00" width="42.17" height="4.30" fill="#888620"/><rect x="502.83" y="196.00" width="42.17" height="2.30" fill="#4E4824"/><rect x="502.83" y="198.00" width="42.17" height="2.30" fill="#361A4A"/><rect x="502.83" y="200.00" width="42.17" height="2.30" fill="#261D27"/><rect x="502.83" y="202.00" width="42.17" height="4.30" fill="#361A4A"/><rect x="502.83" y="206.00" width="42.17" height="2.30" fill="#261D27"/><rect x="502.83" y="208.00" width="42.17" height="2.30" fill="#5E2882"/><rect x="502.83" y="210.00" width="42.17" height="2.30" fill="#4E4824"/><rect x="502.83" y="212.00" width="42.17" height="2.30" fill="#361A4A"/><rect x="502.83" y="214.00" width="42.17" height="2.30" fill="#5E2882"/><rect x="502.83" y="216.00" width="42.17" height="2.30" fill="#9434C4"/><rect x="502.83" y="218.00" width="42.17" height="2.30" fill="#361A4A"/><rect x="502.83" y="220.00" width="42.17" height="2.30" fill="#5E2882"/><rect x="502.83" y="222.00" width="42.17" height="2.30" fill="#9434C4"/><rect x="502.83" y="224.00" width="42.17" height="4.30" fill="#5E2882"/><rect x="502.83" y="228.00" width="42.17" height="2.30" fill="#888620"/><rect x="502.83" y="230.00" width="42.17" height="2.30" fill="#261D27"/><rect x="502.83" y="232.00" width="42.17" height="2.30" fill="#5E2882"/><rect x="502.83" y="234.00" width="42.17" height="2.30" fill="#361A4A"/><rect x="502.83" y="236.00" width="42.17" height="4.30" fill="#4E4824"/><rect x="502.83" y="240.00" width="42.17" height="2.30" fill="#261D27"/><rect x="502.83" y="242.00" width="42.17" height="2.30" fill="#888620"/><rect x="502.83" y="244.00" width="42.17" height="2.30" fill="#261D27"/><rect x="502.83" y="246.00" width="42.17" height="2.30" fill="#361A4A"/><rect x="502.83" y="248.00" width="42.17" height="2.30" fill="#4E4824"/><rect x="502.83" y="250.00" width="42.17" height="2.30" fill="#261D27"/><rect x="502.83" y="252.00" width="42.17" height="2.30" fill="#888620"/><rect x="502.83" y="254.00" width="42.17" height="4.30" fill="#ACAC18"/><rect x="502.83" y="258.00" width="42.17" height="2.30" fill="#888620"/><rect x="502.83" y="260.00" width="42.17" height="2.30" fill="#4E4824"/><rect x="502.83" y="262.00" width="42.17" height="2.30" fill="#888620"/><rect x="502.83" y="264.00" width="42.17" height="2.30" fill="#4E4824"/><rect x="502.83" y="266.00" width="42.17" height="2.30" fill="#888620"/><rect x="502.83" y="268.00" width="42.17" height="2.30" fill="#361A4A"/><rect x="502.83" y="270.00" width="42.17" height="4.30" fill="#888620"/><rect x="502.83" y="274.00" width="42.17" height="2.30" fill="#ACAC18"/><rect x="502.83" y="276.00" width="42.17" height="4.30" fill="#888620"/><rect x="502.83" y="280.00" width="42.17" height="2.30" fill="#9434C4"/><rect x="502.83" y="282.00" width="42.17" height="2.30" fill="#261D27"/><rect x="502.83" y="284.00" width="42.17" height="2.30" fill="#9434C4"/><rect x="502.83" y="286.00" width="42.17" height="2.30" fill="#5E2882"/><rect x="502.83" y="288.00" width="42.17" height="3.30" fill="#888620"/><rect x="502.83" y="291.00" width="42.17" height="2.30" fill="#9434C4"/><rect x="502.83" y="293.00" width="42.17" height="4.30" fill="#888620"/><rect x="502.83" y="297.00" width="42.17" height="2.30" fill="#4E4824"/><rect x="502.83" y="299.00" width="42.17" height="2.30" fill="#361A4A"/><rect x="502.83" y="301.00" width="42.17" height="2.30" fill="#4E4824"/><rect x="502.83" y="303.00" width="42.17" height="2.30" fill="#888620"/><rect x="502.83" y="305.00" width="42.17" height="2.30" fill="#4E4824"/><rect x="502.83" y="307.00" width="42.17" height="2.30" fill="#888620"/><rect x="502.83" y="309.00" width="42.17" height="2.30" fill="#4E4824"/><rect x="502.83" y="311.00" width="42.17" height="2.30" fill="#888620"/><rect x="502.83" y="313.00" width="42.17" height="2.30" fill="#361A4A"/><rect x="502.83" y="315.00" width="42.17" height="2.30" fill="#261D27"/><rect x="502.83" y="317.00" width="42.17" height="2.30" fill="#361A4A"/><rect x="502.83" y="319.00" width="42.17" height="4.30" fill="#888620"/><rect x="502.83" y="323.00" width="42.17" height="2.30" fill="#4E4824"/><rect x="502.83" y="325.00" width="42.17" height="2.30" fill="#ACAC18"/><rect x="502.83" y="327.00" width="42.17" height="4.30" fill="#888620"/><rect x="502.83" y="331.00" width="42.17" height="2.30" fill="#261D27"/><rect x="502.83" y="333.00" width="42.17" height="2.30" fill="#4E4824"/><rect x="502.83" y="335.00" width="42.17" height="2.30" fill="#361A4A"/><rect x="502.83" y="337.00" width="42.17" height="2.30" fill="#4E4824"/><rect x="502.83" y="339.00" width="42.17" height="2.30" fill="#361A4A"/><rect x="502.83" y="341.00" width="42.17" height="2.30" fill="#5E2882"/><rect x="502.83" y="343.00" width="42.17" height="2.30" fill="#888620"/><rect x="502.83" y="345.00" width="42.17" height="2.30" fill="#261D27"/><rect x="502.83" y="347.00" width="42.17" height="2.30" fill="#888620"/><rect x="502.83" y="349.00" width="42.17" height="2.30" fill="#ACAC18"/><rect x="502.83" y="351.00" width="42.17" height="2.30" fill="#888620"/><rect x="502.83" y="353.00" width="42.17" height="2.30" fill="#4E4824"/><rect x="502.83" y="355.00" width="42.17" height="2.30" fill="#888620"/><rect x="502.83" y="357.00" width="42.17" height="4.30" fill="#ACAC18"/><rect x="502.83" y="361.00" width="42.17" height="2.30" fill="#888620"/><rect x="502.83" y="363.00" width="42.17" height="2.30" fill="#4E4824"/><rect x="502.83" y="365.00" width="42.17" height="2.30" fill="#261D27"/><rect x="502.83" y="367.00" width="42.17" height="2.30" fill="#888620"/><rect x="502.83" y="369.00" width="42.17" height="4.30" fill="#5E2882"/><rect x="502.83" y="373.00" width="42.17" height="2.30" fill="#361A4A"/><rect x="502.83" y="375.00" width="42.17" height="2.30" fill="#261D27"/><rect x="502.83" y="377.00" width="42.17" height="2.30" fill="#361A4A"/><rect x="502.83" y="379.00" width="42.17" height="2.30" fill="#4E4824"/><rect x="502.83" y="381.00" width="42.17" height="2.30" fill="#361A4A"/><rect x="502.83" y="383.00" width="42.17" height="2.30" fill="#C048E8"/><rect x="502.83" y="385.00" width="42.17" height="2.30" fill="#5E2882"/><rect x="502.83" y="387.00" width="42.17" height="2.30" fill="#9434C4"/><rect x="502.83" y="389.00" width="42.17" height="2.30" fill="#361A4A"/><rect x="502.83" y="391.00" width="42.17" height="2.30" fill="#261D27"/><rect x="502.83" y="393.00" width="42.17" height="2.30" fill="#361A4A"/><rect x="502.83" y="395.00" width="42.17" height="2.30" fill="#5E2882"/><rect x="502.83" y="397.00" width="42.17" height="2.30" fill="#9434C4"/><rect x="502.83" y="399.00" width="42.17" height="2.30" fill="#4E4824"/><rect x="502.83" y="401.00" width="42.17" height="2.30" fill="#5E2882"/><rect x="502.83" y="403.00" width="42.17" height="2.30" fill="#361A4A"/><rect x="502.83" y="405.00" width="42.17" height="2.30" fill="#5E2882"/><rect x="502.83" y="407.00" width="42.17" height="2.30" fill="#361A4A"/><rect x="502.83" y="409.00" width="42.17" height="2.30" fill="#5E2882"/><rect x="502.83" y="411.00" width="42.17" height="2.30" fill="#361A4A"/><rect x="502.83" y="413.00" width="42.17" height="2.30" fill="#5E2882"/><rect x="502.83" y="415.00" width="42.17" height="1.30" fill="#361A4A"/><rect x="502.83" y="416.00" width="42.17" height="2.30" fill="#4E4824"/><rect x="502.83" y="418.00" width="42.17" height="2.30" fill="#361A4A"/><rect x="502.83" y="420.00" width="42.17" height="2.30" fill="#4E4824"/><rect x="502.83" y="422.00" width="42.17" height="6.30" fill="#361A4A"/><rect x="502.83" y="428.00" width="42.17" height="2.30" fill="#5E2882"/><rect x="502.83" y="430.00" width="42.17" height="2.30" fill="#9434C4"/><rect x="502.83" y="432.00" width="42.17" height="6.30" fill="#361A4A"/><rect x="502.83" y="438.00" width="42.17" height="2.30" fill="#261D27"/><rect x="502.83" y="440.00" width="42.17" height="4.30" fill="#361A4A"/><rect x="502.83" y="444.00" width="42.17" height="2.30" fill="#4E4824"/><rect x="502.83" y="446.00" width="42.17" height="2.30" fill="#C048E8"/><rect x="502.83" y="448.00" width="42.17" height="2.30" fill="#4E4824"/><rect x="502.83" y="450.00" width="42.17" height="4.30" fill="#361A4A"/><rect x="502.83" y="454.00" width="42.17" height="2.30" fill="#5E2882"/><rect x="502.83" y="456.00" width="42.17" height="4.30" fill="#361A4A"/><rect x="502.83" y="460.00" width="42.17" height="2.30" fill="#261D27"/><rect x="502.83" y="462.00" width="42.17" height="2.30" fill="#361A4A"/><rect x="502.83" y="464.00" width="42.17" height="4.30" fill="#5E2882"/><rect x="502.83" y="468.00" width="42.17" height="2.30" fill="#888620"/><rect x="502.83" y="470.00" width="42.17" height="4.30" fill="#4E4824"/><rect x="502.83" y="474.00" width="42.17" height="2.30" fill="#888620"/><rect x="502.83" y="476.00" width="42.17" height="2.30" fill="#5E2882"/><rect x="502.83" y="478.00" width="42.17" height="2.30" fill="#361A4A"/><rect x="502.83" y="480.00" width="42.17" height="2.30" fill="#5E2882"/><rect x="502.83" y="482.00" width="42.17" height="2.30" fill="#9434C4"/><rect x="502.83" y="484.00" width="42.17" height="2.30" fill="#C048E8"/><rect x="502.83" y="486.00" width="42.17" height="4.30" fill="#9434C4"/><rect x="502.83" y="490.00" width="42.17" height="2.30" fill="#C048E8"/><rect x="502.83" y="492.00" width="42.17" height="4.30" fill="#9434C4"/><rect x="502.83" y="496.00" width="42.17" height="2.30" fill="#5E2882"/><rect x="502.83" y="498.00" width="42.17" height="2.30" fill="#361A4A"/><rect x="502.83" y="500.00" width="42.17" height="2.30" fill="#5E2882"/><rect x="502.83" y="502.00" width="42.17" height="2.30" fill="#361A4A"/><rect x="502.83" y="504.00" width="42.17" height="4.30" fill="#5E2882"/><rect x="502.83" y="508.00" width="42.17" height="2.30" fill="#9434C4"/><rect x="502.83" y="510.00" width="42.17" height="2.30" fill="#5E2882"/><rect x="502.83" y="512.00" width="42.17" height="2.30" fill="#9434C4"/><rect x="502.83" y="514.00" width="42.17" height="4.30" fill="#5E2882"/><rect x="502.83" y="518.00" width="42.17" height="2.30" fill="#361A4A"/><rect x="502.83" y="520.00" width="42.17" height="2.30" fill="#5E2882"/><rect x="502.83" y="522.00" width="42.17" height="6.30" fill="#9434C4"/><rect x="502.83" y="528.00" width="42.17" height="4.30" fill="#361A4A"/><rect x="502.83" y="532.00" width="42.17" height="2.30" fill="#5E2882"/><rect x="502.83" y="534.00" width="42.17" height="2.30" fill="#9434C4"/><rect x="502.83" y="536.00" width="42.17" height="2.30" fill="#C048E8"/><rect x="502.83" y="538.00" width="42.17" height="2.30" fill="#9434C4"/><rect x="502.83" y="540.00" width="42.17" height="2.30" fill="#5E2882"/><rect x="502.83" y="542.00" width="42.17" height="1.10" fill="#9434C4"/></g><rect x="153.0" y="162.4" width="6.7" height="380.7" fill="#1c1c1c"/><path d="M150.5 162V163M150 162.5H154M149.5 163V164M149 163.5H154M148.5 163V164M148 163.5H150M148 163.5H154M148 163.5H149M147.5 163V164M147 163.5H149M147 163.5H154M146.5 162V164M146 162.5H154M146 163.5H148M146 162.5H151M146 163.5H147M148.5 164V165M148 164.5H154M147.5 164V165M147 164.5H154M147 164.5H149M147.5 164V166M147 165.5H154M146.5 164V165M146 164.5H148M150.5 165V166M150 165.5H154M146.5 165V166M146 165.5H151M146 165.5H154M146.5 164V166M146 164.5H147M146 165.5H147M145.5 162V166M145 162.5H147M145 165.5H147M145.5 166V167M145 166.5H154M144.5 165V167M144 165.5H154M144 166.5H146M140.5 166V167M140 166.5H145M140 166.5H154M138.5 166V168M138 166.5H141M138 167.5H154M147.5 167V168M147 167.5H154M146.5 167V168M146 167.5H154M146 167.5H148M147.5 168V169M147 168.5H154M148.5 168V169M148 168.5H154M147 168.5H149M147 168.5H148M146.5 168V170M146 168.5H148M146 169.5H154M145.5 167V169M145 167.5H147M145 168.5H147M145.5 169V170M145 169.5H154M145 169.5H146M141.5 169V170M141 169.5H154M141 169.5H146M138.5 169V170M138 169.5H142M138 169.5H154M137.5 168V170M137 168.5H146M137 169.5H139M136.5 166V169M136 166.5H139M136 168.5H138M134.5 163V168M134 163.5H146M134 167.5H137M143.5 170V171M143 170.5H154M142.5 170V171M142 170.5H154M142 170.5H144M141.5 170V171M141 170.5H143M141 170.5H154M145.5 171V172M145 171.5H154M144.5 171V172M144 171.5H154M144 171.5H146M144 171.5H145M143.5 171V173M143 171.5H145M143 172.5H154M147.5 172V173M147 172.5H154M142.5 171V173M142 171.5H144M142 172.5H148M144.5 172V173M144 172.5H154M141.5 171V173M141 171.5H143M141 172.5H145M140.5 172V174M140 172.5H142M140 173.5H154M139.5 170V173M139 170.5H142M139 172.5H141M150.5 173V175M150 173.5H154M150 174.5H154M150 174.5H151M149.5 173V175M149 173.5H151M149 174.5H154M149 173.5H154M149 174.5H150M150.5 175V176M150 175.5H154M150.5 174V176M150 175.5H151M149.5 174V176M149 174.5H151M149 175.5H154M149 175.5H150M148.5 173V175M148 173.5H150M148 174.5H150M140.5 175V176M140 175.5H154M140.5 176V177M140 176.5H154M139.5 176V177M139 176.5H154M139 176.5H141M137.5 176V177M137 176.5H154M137 176.5H140M147.5 177V178M147 177.5H154M146.5 177V178M146 177.5H154M146 177.5H148M145.5 177V178M145 177.5H154M145 177.5H147M144.5 177V178M144 177.5H154M144 177.5H146M147.5 178V179M147 178.5H154M147 178.5H148M143.5 177V179M143 177.5H145M143 178.5H148M136.5 176V178M136 176.5H138M136 177.5H144M135.5 175V178M135 175.5H141M135 177.5H137M133.5 174V177M133 174.5H149M133 176.5H136M150.5 178V180M150 178.5H154M150 179.5H154M148.5 178V180M148 178.5H151M148 179.5H154M148.5 179V180M148 179.5H149M136.5 179V181M136 179.5H154M136 180.5H154M151.5 180V181M151 180.5H154M144.5 180V181M144 180.5H152M144 180.5H154M142.5 180V181M142 180.5H145M142 180.5H154M141.5 180V182M141 180.5H143M141 181.5H154M140.5 180V182M140 180.5H142M140 181.5H154M148.5 181V182M148 181.5H154M151.5 182V183M151 182.5H154M150.5 181V183M150 181.5H154M150 182.5H152M144.5 181V183M144 181.5H149M144 182.5H151M137.5 181V182M137 181.5H141M137 181.5H145M144.5 182V183M144 182.5H154M136.5 181V183M136 181.5H138M136 182.5H145M135.5 179V183M135 179.5H137M135 182.5H137M133.5 179V182M133 179.5H149M133 181.5H136M132.5 175V181M132 175.5H134M132 180.5H134M131.5 171V178M131 171.5H140M131 177.5H133M129.5 165V175M129 165.5H135M129 174.5H132M152.5 183V184M152 183.5H154M152 183.5H153M144.5 183V184M144 183.5H153M144 183.5H154M146.5 184V185M146 184.5H154M146.5 184V186M146 185.5H154M146 184.5H147M145.5 184V186M145 184.5H147M145 185.5H147M146.5 185V186M145.5 185V186M145 185.5H154M144.5 184V186M144 184.5H146M144 185.5H146M146.5 186V187M146 186.5H154M145.5 186V187M145 186.5H147M145 186.5H154M147.5 187V188M147 187.5H154M152.5 187V188M152 187.5H154M146.5 187V188M146 187.5H148M146 187.5H153M146.5 186V188M146 187.5H147M145.5 187V189M145 187.5H147M145 188.5H154M144.5 186V188M144 186.5H146M144 187.5H146M143.5 185V187M143 185.5H145M143 186.5H145M142.5 183V187M142 183.5H145M142 186.5H144M148.5 189V190M148 189.5H154M145.5 189V190M145 189.5H154M145 189.5H149M144.5 188V190M144 188.5H154M144 189.5H146M137.5 188V190M137 188.5H154M137 189.5H145M149.5 189V191M149 189.5H154M149 190.5H154M148.5 189V191M148 190.5H150M148 189.5H149M148 190.5H154M143.5 190V191M143 190.5H149M143 190.5H154M136.5 188V191M136 188.5H138M136 190.5H144M149.5 191V192M149 191.5H154M149.5 190V192M149 191.5H150M149.5 192V193M149 192.5H154M148.5 192V193M148 192.5H150M148 192.5H154M148.5 191V193M148 191.5H154M148 192.5H149M147.5 191V193M147 191.5H154M147 192.5H149M146.5 191V192M146 191.5H154M146 191.5H148M146 191.5H150M146 191.5H147M145.5 190V192M145 190.5H154M145 191.5H147M135.5 189V192M135 189.5H137M135 191.5H146M150.5 192V194M150 192.5H154M150 193.5H154M150 193.5H151M146.5 192V193M146 192.5H154M146 192.5H151M145.5 193V194M145 193.5H154M145 193.5H146M148.5 194V195M148 194.5H154M147.5 194V195M147 194.5H154M147 194.5H149M147 194.5H148M146.5 194V196M146 194.5H148M146 195.5H154M137.5 193V195M137 193.5H146M137 194.5H147M136.5 192V195M136 192.5H147M136 194.5H138M144.5 195V196M144 195.5H154M143.5 195V196M143 195.5H145M143 195.5H154M135.5 193V196M135 193.5H137M135 195.5H144M133.5 190V195M133 190.5H136M133 194.5H136M130.5 184V193M130 184.5H143M130 192.5H134M126.5 170V189M126 170.5H130M126 188.5H131M148.5 196V197M148 196.5H154M151.5 197V198M151 197.5H154M149.5 196V198M149 196.5H154M149 197.5H152M148 196.5H150M148 196.5H149M147.5 196V198M147 196.5H149M147 197.5H154M146.5 196V198M146 196.5H148M146 197.5H154M148.5 198V199M148 198.5H154M148 198.5H149M147.5 198V199M147 198.5H149M147 198.5H154M146.5 197V199M146 198.5H148M146 197.5H147M146 198.5H147M147.5 198V200M147 199.5H154M152.5 199V200M152 199.5H154M146.5 199V200M146 199.5H148M146 199.5H153M146 199.5H154M146 199.5H147M145.5 197V200M145 197.5H147M145 199.5H147M147.5 200V201M147 200.5H154M142.5 200V201M142 200.5H148M142 200.5H154M148.5 201V202M148 201.5H154M137.5 200V202M137 200.5H143M137 201.5H149M152.5 201V203M152 201.5H154M152 202.5H154M147.5 202V203M147 202.5H154M139.5 202V203M139 202.5H153M139 202.5H148M138.5 201V203M138 201.5H154M138 202.5H140M147.5 202V204M147 203.5H154M150.5 203V204M150 203.5H154M147.5 203V204M147 203.5H148M147 203.5H151M149.5 204V205M149 204.5H154M147.5 203V205M147 204.5H150M147.5 204V205M147 204.5H148M147 204.5H154M146.5 203V205M146 203.5H148M146 204.5H148M137.5 201V204M137 201.5H139M137 203.5H147M131.5 200V203M131 200.5H138M131 202.5H138M126.5 198V202M126 198.5H146M126 201.5H132M138.5 204V206M138 204.5H154M138 205.5H154M148.5 205V206M148 205.5H154M148 205.5H149M149.5 206V207M149 206.5H154M148.5 206V207M148 206.5H154M148 206.5H150M148.5 205V207M148 206.5H149M147.5 205V207M147 205.5H149M147 206.5H149M137.5 204V206M137 204.5H139M137 205.5H148M146.5 206V207M146 206.5H154M126.5 205V207M126 205.5H138M126 206.5H147M125.5 200V207M125 200.5H127M125 206.5H127M121.5 179V204M121 179.5H127M121 203.5H126M145.5 207V208M145 207.5H154M145 207.5H146M149.5 208V209M149 208.5H154M143.5 208V209M143 208.5H154M143 208.5H150M142.5 207V209M142 207.5H146M142 208.5H144M142 207.5H154M142 208.5H143M149.5 209V210M149 209.5H154M140.5 209V210M140 209.5H154M136.5 209V210M136 209.5H150M136 209.5H141M152.5 210V211M152 210.5H154M151.5 209V211M151 209.5H154M151 210.5H153M147.5 210V211M147 210.5H154M146.5 210V211M146 210.5H148M146 210.5H154M145.5 210V212M145 210.5H147M145 211.5H154M144.5 209V211M144 209.5H152M144 210.5H146M149.5 211V212M149 211.5H154M143.5 211V212M143 211.5H150M143 211.5H154M142.5 211V212M142 211.5H154M142 211.5H144M141.5 210V212M141 210.5H145M141 211.5H143M124.5 209V211M124 209.5H137M124 210.5H142M122.5 207V211M122 207.5H143M122 210.5H125M114.5 191V209M114 191.5H122M114 208.5H123M148.5 212V213M148 212.5H154M148 212.5H149M150.5 212V214M150 212.5H154M150 213.5H154M149.5 212V214M149 212.5H154M149 213.5H151M149.5 212V213M149 212.5H150M149.5 213V214M149 213.5H154M149 213.5H150M148.5 212V214M148 212.5H150M148 213.5H150M135.5 212V214M135 212.5H149M135 213.5H149M151.5 214V215M151 214.5H154M145.5 214V215M145 214.5H152M145 214.5H154M140.5 214V215M140 214.5H154M140 214.5H146M138.5 214V215M138 214.5H141M138 214.5H154M145.5 214V216M145 215.5H154M144.5 215V216M144 215.5H146M144 215.5H154M138.5 215V216M138 215.5H154M137.5 215V216M137 215.5H145M137 215.5H139M147.5 216V217M147 216.5H154M146.5 215V217M146 215.5H154M146 216.5H148M145.5 216V217M145 216.5H147M145 216.5H154M134.5 215V217M134 215.5H138M134 216.5H146M133.5 214V216M133 214.5H139M133 215.5H135M115.5 212V216M115 212.5H136M115 215.5H134M110.5 200V215M110 200.5H115M110 214.5H116M149.5 217V218M149 217.5H154M148.5 217V218M148 217.5H150M148 217.5H154M134.5 217V218M134 217.5H154M134 217.5H149M149.5 217V219M149 218.5H154M125.5 217V219M125 217.5H135M125 218.5H150M149.5 218V219M147.5 218V219M147 218.5H154M147 218.5H150M147.5 219V220M147 219.5H154M144.5 218V220M144 218.5H154M144 219.5H148M149.5 219V220M149 219.5H154M149.5 219V221M149 219.5H150M149 220.5H154M147.5 219V221M147 219.5H150M147 220.5H154M146.5 220V221M146 220.5H148M146 220.5H154M146.5 220V222M146 221.5H154M145.5 220V221M145 220.5H154M145 220.5H147M144.5 220V221M144 220.5H147M144 220.5H146M143.5 219V221M143 219.5H145M143 220.5H145M143.5 218V220M143 218.5H148M143 219.5H144M145.5 222V223M145 222.5H154M144.5 221V223M144 221.5H154M144 222.5H146M143.5 221V222M143 221.5H154M143 221.5H145M143 221.5H144M142.5 219V222M142 219.5H144M142 221.5H144M149.5 222V223M149 222.5H154M149 222.5H150M149.5 222V224M149 223.5H154M148.5 222V224M148 222.5H150M148 223.5H150M148 222.5H149M148 223.5H154M141.5 220V224M141 220.5H143M141 223.5H149M145.5 224V225M145 224.5H154M144.5 224V225M144 224.5H146M144 224.5H154M143.5 224V225M143 224.5H145M143 224.5H146M135.5 223V225M135 223.5H154M135 224.5H144M134.5 224V226M134 224.5H136M134 225.5H154M133.5 221V225M133 221.5H142M133 224.5H135M149.5 225V226M149 225.5H154M148.5 225V226M148 225.5H150M148 225.5H154M147.5 225V227M147 225.5H149M147 226.5H154M149.5 226V227M149 226.5H154M148.5 226V227M148 226.5H154M148 226.5H150M147.5 226V227M147 226.5H149M147 225.5H148M147 226.5H148M132.5 223V227M132 223.5H134M132 226.5H148M116.5 217V225M116 217.5H126M116 224.5H133M108.5 207V222M108 207.5H111M108 221.5H117M141.5 227V228M141 227.5H154M125.5 227V228M125 227.5H154M125 227.5H142M152.5 227V228M152 227.5H154M145.5 228V229M145 228.5H154M144.5 228V229M144 228.5H154M144 228.5H146M148.5 228V230M148 228.5H154M148 229.5H154M141.5 228V229M141 228.5H145M141 228.5H149M147.5 229V230M147 229.5H154M140.5 228V230M140 228.5H142M140 229.5H148M139.5 227V229M139 227.5H153M139 228.5H141M134.5 228V230M134 228.5H140M134 229.5H154M121.5 227V230M121 227.5H126M121 229.5H135M148.5 230V231M148 230.5H154M148 230.5H149M147.5 230V231M147 230.5H149M147 230.5H154M148.5 230V232M148 231.5H154M147.5 230V232M147 231.5H154M146.5 230V232M146 230.5H148M146 231.5H148M148.5 231V232M141.5 231V232M141 231.5H149M141 231.5H154M149.5 232V233M149 232.5H154M140.5 231V233M140 231.5H142M140 232.5H150M139.5 230V232M139 230.5H147M139 231.5H141M147.5 233V234M147 233.5H154M147.5 232V234M147 232.5H154M147 233.5H148M146.5 233V234M146 233.5H148M145.5 232V234M145 232.5H154M145 233.5H147M139.5 232V234M139 232.5H154M139 233.5H146M138.5 232V234M138 232.5H140M138 233.5H154M137.5 231V234M137 231.5H140M137 233.5H139M119.5 228V233M119 228.5H122M119 232.5H138M101.5 214V231M101 214.5H109M101 230.5H120M141.5 234V235M141 234.5H154M140.5 234V235M140 234.5H154M140 234.5H142M136.5 234V235M136 234.5H141M136 234.5H154M151.5 235V236M151 235.5H154M151 235.5H152M150.5 235V236M150 235.5H152M150 235.5H154M149.5 235V237M149 235.5H154M149 236.5H154M149.5 236V237M148.5 236V237M148 236.5H150M147.5 235V237M147 235.5H154M147 236.5H149M147.5 235V236M147 235.5H151M147 235.5H148M149.5 237V238M149 237.5H154M149.5 236V238M149 237.5H150M150.5 237V238M150 237.5H154M152.5 237V239M152 237.5H154M152 238.5H154M150.5 238V239M150 238.5H153M150 238.5H154M149.5 237V239M149 237.5H151M149 238.5H151M149.5 238V239M149 238.5H154M149 238.5H150M148.5 236V239M148 238.5H150M139.5 235V238M139 235.5H148M139 237.5H149M124.5 234V237M124 234.5H137M124 236.5H140M147.5 239V240M147 239.5H154M139.5 239V240M139 239.5H154M139 239.5H148M146.5 239V241M146 239.5H154M146 240.5H154M147.5 240V241M147 240.5H154M146.5 240V241M146 240.5H148M145.5 239V241M145 239.5H147M145 240.5H147M138.5 239V241M138 239.5H140M138 240.5H146M147.5 240V242M147 241.5H154M138.5 240V242M138 240.5H148M138 241.5H154M136.5 239V242M136 239.5H139M136 241.5H139M122.5 235V241M122 235.5H125M122 240.5H137M150.5 241V242M150 241.5H154M147.5 241V242M151.5 242V243M151 242.5H154M150.5 242V243M150 242.5H152M150 242.5H154M150.5 242V244M150 243.5H154M150 242.5H151M150 243.5H151M150.5 243V244M146.5 243V244M146 243.5H154M146 243.5H151M146.5 242V244M146 242.5H151M146 243.5H147M145.5 241V244M145 241.5H148M145 243.5H147M135.5 241V243M135 241.5H151M135 242.5H146M149.5 244V245M149 244.5H154M128.5 241V245M128 241.5H136M128 244.5H150M148.5 244V245M148 244.5H154M148 244.5H149M151.5 245V246M151 245.5H154M150.5 245V246M150 245.5H152M150 245.5H154M148.5 245V246M148 245.5H151M148 245.5H154M147.5 244V246M147 244.5H149M147 245.5H149M142.5 245V246M142 245.5H148M142 245.5H154M145.5 246V247M145 246.5H154M144.5 246V247M144 246.5H146M144 246.5H154M145.5 247V248M145 247.5H154M144.5 246V248M144 247.5H146M142.5 246V247M142 246.5H145M141.5 245V247M141 245.5H143M141 246.5H143M126.5 243V247M126 243.5H129M126 246.5H142M140.5 247V248M140 247.5H154M148.5 248V249M148 248.5H154M143.5 248V249M143 248.5H154M143 248.5H149M141.5 248V249M141 248.5H144M141 248.5H154M138.5 248V249M138 248.5H154M138 248.5H142M137.5 247V249M137 247.5H141M137 248.5H139M122.5 244V249M122 244.5H127M122 248.5H138M120.5 238V247M120 238.5H123M120 246.5H123M146.5 249V250M146 249.5H154M148.5 249V251M148 249.5H154M148 250.5H154M148.5 250V251M148 250.5H149M147.5 249V251M147 249.5H154M147 250.5H149M135.5 249V250M135 249.5H147M135 249.5H148M147.5 251V252M147 251.5H154M129.5 250V252M129 250.5H154M129 251.5H148M149.5 251V252M149 251.5H154M145.5 251V253M145 251.5H150M145 252.5H154M146.5 252V253M146 252.5H154M150.5 252V254M150 252.5H154M150 253.5H154M147.5 253V254M147 253.5H154M146.5 253V254M146 253.5H151M146 253.5H148M146.5 252V254M146 253.5H147M145.5 252V253M145 252.5H147M144.5 251V253M144 251.5H146M144 252.5H146M128.5 250V253M128 250.5H130M128 252.5H145M142.5 254V255M142 254.5H154M141.5 253V255M141 253.5H154M141 254.5H143M147.5 254V255M147 254.5H154M146.5 254V255M146 254.5H148M146 254.5H154M145.5 255V256M145 255.5H154M145 255.5H146M144.5 254V256M144 254.5H154M144 255.5H146M143.5 255V256M143 255.5H145M143 255.5H154M142.5 254V256M142 254.5H147M142 255.5H144M141.5 255V257M141 255.5H143M141 256.5H154M140.5 253V256M140 253.5H142M140 255.5H142M126.5 251V255M126 251.5H129M126 254.5H141M124.5 249V254M124 249.5H136M124 253.5H127M141.5 256V257M140.5 256V258M140 256.5H142M140 257.5H154M145.5 257V259M145 257.5H154M145 258.5H154M144.5 257V258M144 257.5H154M144 257.5H146M141.5 257V259M141 257.5H145M141 258.5H154M140.5 257V259M140 258.5H142M139.5 256V258M139 256.5H141M139 257.5H141M130.5 258V259M130 258.5H154M127.5 257V259M127 257.5H140M127 258.5H131M149.5 259V260M149 259.5H154M145.5 259V260M145 259.5H154M146.5 260V261M146 260.5H154M144.5 259V261M144 259.5H146M144 260.5H147M143.5 259V261M143 259.5H145M143 260.5H147M142.5 259V261M142 259.5H150M142 260.5H144M147.5 261V262M147 261.5H154M140.5 261V262M140 261.5H148M140 261.5H154M136.5 261V262M136 261.5H141M136 261.5H154M135.5 259V262M135 259.5H143M135 261.5H137M126.5 258V261M126 258.5H128M126 260.5H136M122.5 251V260M122 251.5H125M122 259.5H127M108.5 242V256M108 242.5H121M108 255.5H123M94.5 222V249M94 222.5H102M94 248.5H109M148.5 262V263M148 262.5H154M147.5 262V263M147 262.5H154M147 262.5H149M147 262.5H148M144.5 263V264M144 263.5H154M143.5 262V264M143 262.5H154M143 263.5H145M142.5 263V264M142 263.5H144M142 263.5H154M147.5 263V265M147 263.5H154M147 264.5H154M147.5 264V265M147 264.5H148M140.5 263V265M140 263.5H143M140 264.5H148M139.5 262V264M139 262.5H148M139 263.5H141M143.5 264V265M143 264.5H154M142.5 264V265M142 264.5H154M142 264.5H144M150.5 265V266M150 265.5H154M149.5 265V266M149 265.5H151M149 265.5H154M150.5 266V267M150 266.5H154M148.5 266V267M148 266.5H154M148 266.5H151M142.5 265V267M142 265.5H154M142 266.5H149M134.5 265V266M134 265.5H150M134 265.5H143M133.5 264V266M133 264.5H143M133 265.5H135M148.5 267V268M148 267.5H154M147.5 267V268M147 267.5H154M147 267.5H149M147.5 266V268M147 266.5H154M147 267.5H148M134.5 266V267M134 266.5H154M134 266.5H148M133.5 266V268M133 266.5H135M133 267.5H149M131.5 265V268M131 265.5H134M131 267.5H134M105.5 263V267M105 263.5H140M105 266.5H132M91.5 235V265M91 235.5H95M91 264.5H106M147.5 268V269M147 268.5H154M146.5 268V269M146 268.5H154M146 268.5H148M138.5 268V270M138 268.5H154M138 269.5H154M137.5 268V269M137 268.5H147M137 268.5H139M150.5 269V270M150 269.5H154M151.5 269V271M151 269.5H154M151 270.5H154M151.5 270V271M151 270.5H152M150.5 270V271M150 270.5H152M150 270.5H151M150 270.5H154M149.5 269V271M149 269.5H151M149 270.5H151M151.5 271V272M151 271.5H154M150.5 271V272M150 271.5H152M150 271.5H154M150 271.5H151M149.5 271V272M149 271.5H151M149.5 269V272M149 269.5H150M149 271.5H150M151.5 272V273M151 272.5H154M151 272.5H152M146.5 272V273M146 272.5H154M146 272.5H152M145.5 272V273M145 272.5H147M145 272.5H154M145.5 270V273M145 270.5H150M145 272.5H146M117.5 268V272M117 268.5H138M117 271.5H146M149.5 273V274M149 273.5H154M146.5 273V274M146 273.5H150M146 273.5H154M147.5 274V275M147 274.5H154M146.5 274V275M146 274.5H154M146 274.5H148M146.5 273V275M146 273.5H147M146 274.5H147M145.5 274V275M145 274.5H147M145 274.5H154M144.5 274V275M144 274.5H146M144 274.5H154M143.5 273V275M143 273.5H154M143 274.5H145M103.5 270V274M103 270.5H118M103 273.5H144M84.5 250V273M84 250.5H92M84 272.5H104M146.5 275V276M146 275.5H154M138.5 275V276M138 275.5H147M138 275.5H154M148.5 275V277M148 275.5H154M148 276.5H154M150.5 276V277M150 276.5H154M148.5 276V277M148 276.5H151M145.5 275V277M145 275.5H149M145 276.5H149M140.5 276V277M140 276.5H146M140 276.5H154M137.5 275V277M137 275.5H139M137 276.5H141M150.5 277V278M150 277.5H154M150 277.5H151M152.5 277V278M152 277.5H154M148.5 278V279M148 278.5H154M147.5 277V279M147 277.5H153M147 278.5H149M138.5 277V279M138 277.5H151M138 278.5H148M136.5 277V279M136 277.5H139M136 278.5H154M115.5 275V279M115 275.5H138M115 278.5H137M149.5 278V280M149 278.5H154M149 279.5H154M148 278.5H150M150.5 279V280M150 279.5H154M143.5 279V280M143 279.5H154M143 279.5H151M136.5 278V280M136 278.5H149M136 279.5H144M141.5 280V281M141 280.5H154M140.5 280V281M140 280.5H142M140 280.5H154M139.5 280V281M139 280.5H154M139 280.5H141M134.5 279V281M134 279.5H137M134 280.5H140M152.5 281V282M152 281.5H154M151.5 281V282M151 281.5H154M151 281.5H153M148.5 281V282M148 281.5H152M148 281.5H154M148.5 280V282M148 280.5H154M148 281.5H149M143.5 281V283M143 281.5H149M143 282.5H154M132.5 279V282M132 279.5H135M132 281.5H144M152.5 283V284M152 283.5H154M151.5 283V284M151 283.5H153M151 283.5H154M151 283.5H152M150.5 282V284M150 282.5H154M150 283.5H152M150 283.5H151M143.5 282V283M143 282.5H151M131.5 280V283M131 280.5H133M131 282.5H144M89.5 277V282M89 277.5H116M89 281.5H132M77.5 261V280M77 261.5H85M77 279.5H90M143.5 284V285M143 284.5H154M142.5 284V285M142 284.5H154M142 284.5H144M141.5 284V285M141 284.5H143M141 284.5H154M146.5 285V286M146 285.5H154M146 285.5H153M150.5 286V287M150 286.5H154M142.5 286V287M142 286.5H154M142 286.5H151M141.5 286V287M141 286.5H143M141 286.5H154M140.5 286V287M140 286.5H154M140 286.5H142M139.5 285V287M139 285.5H154M139 286.5H141M145.5 287V288M145 287.5H154M145 287.5H146M139.5 287V288M139 287.5H146M139 287.5H154M138.5 286V288M138 286.5H140M138 287.5H140M137.5 285V287M137 285.5H147M137 286.5H139M136.5 284V287M136 284.5H142M136 286.5H138M143.5 287V289M143 287.5H154M143 288.5H154M136.5 287V289M136 287.5H144M136 288.5H154M135.5 285V289M135 285.5H137M135 288.5H137M149.5 288V289M149 288.5H154M143.5 288V290M143 288.5H150M143 289.5H154M144.5 289V290M144 289.5H154M142.5 288V290M142 288.5H144M142 289.5H145M134.5 286V290M134 286.5H136M134 289.5H143M145.5 289V291M145 289.5H154M145 290.5H154M144.5 289V291M144 290.5H146M144.5 290V291M144 290.5H154M143.5 289V291M143 289.5H145M143 290.5H145M145.5 291V292M145 291.5H154M150.5 291V292M150 291.5H154M142.5 291V292M142 291.5H154M142 291.5H151M141.5 291V293M141 291.5H143M141 292.5H154M142.5 292V293M142 292.5H154M141.5 292V293M141 292.5H143M140.5 291V293M140 291.5H142M140 292.5H142M150.5 292V294M150 292.5H154M150 293.5H154M143.5 292V294M143 292.5H154M143 293.5H151M139.5 292V293M139 292.5H141M139 292.5H144M147.5 293V294M147 293.5H154M139.5 293V294M139 293.5H148M139 293.5H154M138.5 292V294M138 292.5H140M138 293.5H140M126.5 291V294M126 291.5H146M126 293.5H139M124.5 290V293M124 290.5H144M124 292.5H127M89.5 287V292M89 287.5H135M89 291.5H125M70.5 270V290M70 270.5H78M70 289.5H90M149.5 294V295M149 294.5H154M151.5 294V296M151 294.5H154M151 295.5H154M150.5 295V296M150 295.5H154M150 295.5H151M149.5 295V297M149 295.5H151M149 296.5H154M149.5 294V296M149 294.5H152M149 295.5H150M148.5 294V296M148 294.5H150M148 295.5H150M152.5 296V297M152 296.5H154M145.5 296V297M145 296.5H153M145 296.5H154M149.5 297V298M149 297.5H154M148.5 297V298M148 297.5H154M148 297.5H150M145.5 297V298M145 297.5H154M145 297.5H149M145.5 296V298M145 296.5H146M145 297.5H146M144.5 294V297M144 294.5H149M144 296.5H146M151.5 297V298M151 297.5H154M147.5 298V299M147 298.5H154M143.5 297V299M143 297.5H152M143 298.5H148M139.5 298V299M139 298.5H144M139 298.5H154M148.5 298V300M148 298.5H154M148 299.5H154M135.5 298V300M135 298.5H149M135 299.5H154M142.5 300V301M142 300.5H154M141.5 300V301M141 300.5H143M141 300.5H154M140.5 299V301M140 299.5H154M140 300.5H142M140.5 300V301M140 300.5H141M140 300.5H154M135.5 299V301M135 300.5H141M132.5 299V301M132 299.5H136M132 300.5H136M130.5 298V300M130 298.5H140M130 299.5H133M112.5 295V299M112 295.5H145M112 298.5H131M144.5 301V302M144 301.5H154M147.5 301V303M147 301.5H154M147 302.5H154M146.5 301V302M146 301.5H154M146 301.5H148M148.5 302V303M148 302.5H154M143.5 302V303M143 302.5H154M143 302.5H149M143 302.5H144M141.5 301V303M141 301.5H147M141 302.5H144M140.5 301V303M140 301.5H145M140 302.5H142M152.5 303V304M152 303.5H154M151.5 303V304M151 303.5H154M151 303.5H153M144.5 304V305M144 304.5H154M149.5 304V305M149 304.5H154M144.5 304V306M144 304.5H150M144 305.5H154M143.5 304V306M143 304.5H145M143 305.5H154M142.5 304V306M142 304.5H145M142 305.5H144M141.5 303V305M141 303.5H154M141 304.5H143M140.5 303V305M140 303.5H152M140 304.5H142M139.5 301V304M139 301.5H141M139 303.5H141M143.5 305V306M142.5 305V306M142 305.5H154M140.5 305V307M140 305.5H143M140 306.5H154M146.5 306V307M146 306.5H154M147.5 307V308M147 307.5H154M145.5 306V308M145 306.5H147M145 307.5H148M144.5 306V307M144 306.5H154M144 306.5H146M139.5 305V307M139 305.5H141M139 306.5H145M138.5 302V307M138 302.5H140M138 306.5H140M145.5 307V308M145 307.5H154M145.5 307V309M145 307.5H146M145 308.5H154M139.5 307V308M139 307.5H154M139 307.5H146M138.5 307V309M138 307.5H140M138 308.5H154M137.5 304V308M137 304.5H139M137 307.5H139M150.5 308V309M150 308.5H154M150 308.5H151M149.5 308V309M149 308.5H154M149 308.5H151M149.5 308V310M149 308.5H150M149 309.5H154M142.5 309V311M142 309.5H154M142 310.5H154M141.5 309V310M141 309.5H154M141 309.5H143M138.5 310V311M138 310.5H154M143.5 310V311M143 310.5H154M142.5 310V311M142 310.5H144M130.5 310V311M130 310.5H139M130 310.5H143M128.5 309V311M128 309.5H142M128 310.5H131M140.5 311V312M140 311.5H154M127.5 310V312M127 310.5H129M127 311.5H141M125.5 308V311M125 308.5H150M125 310.5H128M142.5 311V312M142 311.5H154M148.5 312V313M148 312.5H154M148 312.5H149M143.5 312V313M143 312.5H149M143 312.5H154M138.5 311V313M138 311.5H143M138 312.5H144M149.5 313V314M149 313.5H154M148.5 313V314M148 313.5H150M148 313.5H154M141.5 312V314M141 312.5H154M141 313.5H149M140.5 312V314M140 312.5H154M140 313.5H142M136.5 312V313M136 312.5H139M136 312.5H141M152.5 314V315M152 314.5H154M148.5 313V315M148 314.5H153M141.5 313V315M141 313.5H154M141 314.5H149M127.5 312V314M127 312.5H137M127 313.5H142M144.5 314V315M144 314.5H154M149.5 315V316M149 315.5H154M140.5 315V316M140 315.5H154M140 315.5H150M145.5 315V317M145 315.5H154M145 316.5H154M147.5 316V317M147 316.5H154M140.5 315V317M140 315.5H146M140 316.5H148M139.5 315V317M139 315.5H141M139 316.5H141M135.5 314V316M135 314.5H145M135 315.5H140M147.5 317V318M147 317.5H154M151.5 317V318M151 317.5H154M151 317.5H152M143.5 317V318M143 317.5H152M143 317.5H154M143 317.5H148M143 317.5H144M142.5 316V318M142 316.5H154M142 317.5H144M134.5 315V318M134 315.5H136M134 317.5H143M125.5 313V317M125 313.5H128M125 316.5H135M123.5 309V315M123 309.5H126M123 314.5H126M115.5 306V313M115 306.5H138M115 312.5H124M150.5 318V319M150 318.5H154M147.5 318V319M147 318.5H154M147 318.5H151M148.5 318V320M148 318.5H154M148 319.5H154M147 318.5H149M147 318.5H148M149.5 319V320M149 319.5H154M147.5 319V320M147 319.5H154M147 319.5H150M147.5 319V321M147 319.5H148M147 320.5H154M146.5 319V321M146 319.5H148M146 320.5H154M145.5 320V321M145 320.5H147M145 320.5H154M148.5 320V322M148 320.5H154M148 321.5H154M142.5 320V322M142 320.5H154M142 321.5H149M144.5 321V322M144 321.5H154M143.5 321V322M143 321.5H154M143 321.5H145M142.5 321V323M142 321.5H144M142 322.5H154M128.5 320V322M128 320.5H143M128 321.5H143M146.5 322V323M146 322.5H154M145.5 322V323M145 322.5H154M145 322.5H147M151.5 323V324M151 323.5H154M151 323.5H152M150.5 323V324M150 323.5H152M150 323.5H154M148.5 323V325M148 323.5H154M148 324.5H154M146.5 323V324M146 323.5H151M146 323.5H149M147.5 324V325M147 324.5H154M146.5 324V325M146 324.5H148M146 324.5H154M145.5 323V325M145 323.5H147M145 324.5H147M144.5 322V325M144 322.5H146M144 324.5H146M127.5 321V324M127 321.5H129M127 323.5H145M125.5 320V323M125 320.5H146M125 322.5H128M123.5 318V322M123 318.5H148M123 321.5H126M145.5 325V326M145 325.5H154M144.5 325V326M144 325.5H154M144 325.5H146M145.5 326V327M145 326.5H154M141.5 325V327M141 325.5H145M141 326.5H146M143.5 327V328M143 327.5H154M142.5 327V328M142 327.5H154M142 327.5H144M141.5 326V328M141 326.5H154M141 327.5H143M140.5 326V328M140 326.5H154M140 327.5H142M139.5 325V327M139 325.5H142M139 326.5H141M149.5 327V329M149 327.5H154M149 328.5H154M148.5 327V329M148 327.5H150M148 328.5H154M149.5 328V329M149 328.5H150M148.5 328V330M148 328.5H150M148 329.5H154M148.5 328V329M148 328.5H149M151.5 329V330M151 329.5H154M145.5 329V330M145 329.5H154M149.5 330V331M149 330.5H154M146.5 330V331M146 330.5H150M146 330.5H154M146 330.5H147M145.5 330V331M145 330.5H147M145 330.5H154M144.5 329V331M144 329.5H146M144 330.5H146M139.5 329V331M139 329.5H152M139 330.5H145M143.5 331V332M143 331.5H154M142.5 331V332M142 331.5H154M142 331.5H144M137.5 331V332M137 331.5H143M137 331.5H154M134.5 331V333M134 331.5H138M134 332.5H154M133.5 329V332M133 329.5H140M133 331.5H135M132.5 328V331M132 328.5H149M132 330.5H134M143.5 332V333M143 332.5H154M149.5 333V334M149 333.5H154M142.5 332V334M142 332.5H144M142 333.5H150M141.5 332V333M141 332.5H154M141 332.5H143M140.5 332V334M140 332.5H142M140 333.5H154M130.5 329V334M130 329.5H133M130 333.5H141M150.5 334V335M150 334.5H154M145.5 334V335M145 334.5H151M145 334.5H154M136.5 333V335M136 333.5H154M136 334.5H146M142.5 335V336M142 335.5H154M141.5 334V336M141 334.5H154M141 335.5H143M140.5 334V336M140 334.5H154M140 335.5H142M135.5 334V335M135 334.5H137M135 334.5H141M145.5 335V336M145 335.5H154M144.5 335V336M144 335.5H154M144 335.5H146M132.5 334V336M132 334.5H136M132 335.5H145M129.5 331V336M129 331.5H131M129 335.5H133M123.5 326V334M123 326.5H140M123 333.5H130M122.5 319V330M122 319.5H124M122 329.5H124M112.5 309V325M112 309.5H116M112 324.5H123M103.5 297V318M103 297.5H113M103 317.5H113M147.5 336V337M147 336.5H154M146.5 336V337M146 336.5H154M146 336.5H148M145.5 336V337M145 336.5H154M145 336.5H147M144.5 337V338M144 337.5H154M143.5 336V338M143 336.5H154M143 337.5H145M132.5 336V338M132 336.5H146M132 337.5H144M148.5 338V339M148 338.5H154M147.5 338V340M147 338.5H149M147 339.5H154M145.5 338V339M145 338.5H154M145 338.5H148M148.5 339V340M148 339.5H154M148 339.5H149M147.5 339V340M147 339.5H149M146.5 339V341M146 339.5H148M146 340.5H154M136.5 339V341M136 339.5H147M136 340.5H154M131.5 338V341M131 338.5H146M131 340.5H137M146.5 340V342M146 341.5H154M145.5 340V342M145 340.5H154M145 341.5H147M138.5 340V341M138 340.5H154M138 340.5H146M137.5 340V342M137 340.5H139M137 341.5H154M151.5 341V342M151 341.5H154M151.5 341V343M151 341.5H152M151 342.5H154M149.5 343V344M149 343.5H154M143.5 343V344M143 343.5H154M143 343.5H150M143.5 343V345M143 344.5H154M142.5 343V344M142 343.5H144M142.5 342V344M142 342.5H154M142 343.5H143M150.5 344V345M150 344.5H154M142.5 344V345M142 344.5H154M142 344.5H151M141.5 343V345M141 343.5H143M141 344.5H143M140.5 342V344M140 342.5H154M140 343.5H142M144.5 345V346M144 345.5H154M143.5 345V346M143 345.5H154M143 345.5H145M138.5 345V346M138 345.5H144M138 345.5H154M132.5 343V346M132 343.5H141M132 345.5H139M130.5 341V345M130 341.5H152M130 344.5H133M129.5 341V344M129 341.5H138M129 343.5H131M127.5 339V343M127 339.5H132M127 342.5H130M125.5 336V341M125 336.5H133M125 340.5H128M97.5 307V339M97 307.5H104M97 338.5H126M143.5 346V347M143 346.5H154M143 346.5H144M141.5 346V347M141 346.5H144M141 346.5H154M148.5 347V348M148 347.5H154M145.5 347V348M145 347.5H154M145 347.5H146M144.5 347V348M144 347.5H149M144 347.5H146M152.5 348V349M152 348.5H154M151.5 348V349M151 348.5H154M151 348.5H153M145.5 348V349M145 348.5H152M145 348.5H154M144.5 347V349M144 347.5H154M144 348.5H146M143.5 347V349M143 347.5H145M143 348.5H145M103.5 346V348M103 346.5H142M103 347.5H144M73.5 322V348M73 322.5H98M73 347.5H104M58.5 279V336M58 279.5H71M58 335.5H74M150.5 349V350M150 349.5H154M150 349.5H151M149.5 349V350M149 349.5H154M149 349.5H151M150.5 350V351M150 350.5H154M148.5 350V351M148 350.5H154M148 350.5H151M147.5 350V351M147 350.5H154M147 350.5H149M143.5 351V352M143 351.5H154M125.5 350V352M125 350.5H148M125 351.5H144M147.5 351V352M147 351.5H154M147.5 352V353M147 352.5H154M146.5 351V353M146 351.5H148M146 352.5H148M123.5 350V353M123 350.5H126M123 352.5H147M121.5 349V352M121 349.5H150M121 351.5H124M148.5 353V354M148 353.5H154M148.5 353V355M148 354.5H154M148 353.5H149M144.5 353V354M144 353.5H154M144 353.5H149M151.5 354V355M151 354.5H154M151 354.5H152M150.5 354V355M150 354.5H152M150 354.5H154M141.5 353V355M141 353.5H145M141 354.5H151M136.5 352V355M136 352.5H154M136 354.5H142M119.5 350V354M119 350.5H122M119 353.5H137M146.5 355V356M146 355.5H154M144.5 355V356M144 355.5H147M144 355.5H154M143.5 355V357M143 355.5H145M143 356.5H154M142.5 355V356M142 355.5H154M142 355.5H144M135.5 355V357M135 355.5H143M135 356.5H154M146.5 357V358M146 357.5H154M140.5 356V358M140 356.5H154M140 357.5H147M147.5 357V358M147 357.5H154M146 357.5H148M124.5 357V358M124 357.5H141M124 357.5H147M123.5 356V358M123 356.5H136M123 357.5H125M113.5 351V357M113 351.5H120M113 356.5H124M152.5 358V359M152 358.5H154M151.5 358V359M151 358.5H153M151 358.5H154M136.5 358V359M136 358.5H152M136 358.5H154M151.5 359V360M151 359.5H154M148.5 359V360M148 359.5H154M148 359.5H152M147.5 359V360M147 359.5H154M147 359.5H149M148.5 359V361M148 360.5H154M148 359.5H149M148.5 360V361M148 360.5H149M147.5 360V361M147 360.5H149M146.5 359V361M146 359.5H148M146 360.5H148M125.5 358V360M125 358.5H137M125 359.5H147M94.5 354V360M94 354.5H114M94 359.5H126M147.5 361V362M147 361.5H154M146.5 361V362M146 361.5H154M145.5 361V363M145 361.5H147M145 362.5H154M131.5 361V362M131 361.5H148M131 361.5H146M141.5 362V363M141 362.5H154M139.5 362V363M139 362.5H142M139 362.5H154M140.5 363V364M140 363.5H154M139.5 363V364M139 363.5H154M139 363.5H141M136.5 362V364M136 362.5H140M136 363.5H140M127.5 361V363M127 361.5H132M127 362.5H137M142.5 363V364M142 363.5H154M140.5 364V365M140 364.5H154M139.5 364V365M139 364.5H141M139 364.5H154M128.5 363V365M128 363.5H143M128 364.5H140M148.5 364V365M148 364.5H154M126.5 364V365M126 364.5H129M126 364.5H149M125.5 362V365M125 362.5H128M125 364.5H127M77.5 356V364M77 356.5H95M77 363.5H126M50.5 307V361M50 307.5H59M50 360.5H78M149.5 365V366M149 365.5H154M146.5 365V366M146 365.5H150M146 365.5H154M139.5 365V366M139 365.5H147M139 365.5H154M147.5 366V367M147 366.5H154M146.5 365V367M146 366.5H148M146 366.5H147M148.5 366V367M148 366.5H154M142.5 365V367M142 365.5H147M142 366.5H149M134.5 365V367M134 365.5H140M134 366.5H143M148.5 367V368M148 367.5H154M144.5 367V368M144 367.5H154M144 367.5H149M128.5 367V368M128 367.5H145M128 367.5H154M122.5 365V368M122 365.5H135M122 367.5H129M147.5 368V369M147 368.5H154M146.5 368V369M146 368.5H148M146 368.5H154M137.5 368V369M137 368.5H147M150.5 369V370M150 369.5H154M149.5 369V370M149 369.5H154M149 369.5H151M148.5 368V370M148 368.5H154M148 369.5H150M148.5 369V370M148 369.5H149M148 369.5H154M149.5 369V371M149 370.5H154M147.5 369V371M147 369.5H149M147 370.5H150M135.5 368V370M135 368.5H138M135 369.5H148M136.5 370V371M136 370.5H154M134.5 369V371M134 369.5H136M134 370.5H137M121.5 366V370M121 366.5H123M121 369.5H135M146.5 372V373M146 372.5H154M145.5 371V373M145 371.5H154M145 372.5H147M145.5 371V372M145 371.5H146M145.5 372V373M145 372.5H154M145 372.5H146M144.5 371V373M144 371.5H146M144 372.5H146M143.5 371V373M143 371.5H154M143 372.5H145M142.5 371V374M142 371.5H144M142 373.5H154M138.5 374V375M138 374.5H154M105.5 372V375M105 372.5H143M105 374.5H139M144.5 374V376M144 374.5H154M144 375.5H154M143.5 374V376M143 374.5H145M143 375.5H154M142.5 375V376M142 375.5H144M142 375.5H154M141.5 374V376M141 374.5H154M141 375.5H143M152.5 375V376M152 375.5H154M138.5 374V376M138 374.5H142M138 375.5H153M145.5 376V377M145 376.5H154M144.5 376V377M144 376.5H146M137.5 375V377M137 375.5H139M137 376.5H145M102.5 373V376M102 373.5H106M102 375.5H138M86.5 368V375M86 368.5H122M86 374.5H103M145.5 377V378M145 377.5H154M135.5 377V378M135 377.5H154M135 377.5H146M141.5 378V379M141 378.5H154M141.5 377V379M141 377.5H154M141 378.5H142M144.5 378V380M144 378.5H154M144 379.5H154M144 378.5H145M143.5 378V380M143 378.5H154M143 379.5H145M151.5 379V380M151 379.5H154M150.5 379V380M150 379.5H154M150 379.5H152M142.5 378V380M142 378.5H144M142 379.5H151M137.5 378V380M137 378.5H142M137 379.5H143M99.5 377V379M99 377.5H136M99 378.5H138M80.5 371V378M80 371.5H87M80 377.5H100M139.5 380V381M139 380.5H154M141.5 381V382M141 381.5H154M140.5 380V382M140 380.5H154M140 381.5H142M146.5 381V382M146 381.5H154M145.5 381V382M145 381.5H147M145 381.5H154M134.5 380V382M134 380.5H141M134 381.5H146M131.5 381V383M131 381.5H135M131 382.5H154M129.5 380V382M129 380.5H154M129 381.5H132M150.5 382V383M150 382.5H154M150 382.5H151M151.5 382V383M151 382.5H154M133.5 382V383M133 382.5H151M133 382.5H152M121.5 381V383M121 381.5H130M121 382.5H134M119.5 380V382M119 380.5H140M119 381.5H122M146.5 383V384M146 383.5H154M146 383.5H147M142.5 383V384M142 383.5H154M142 383.5H147M107.5 381V384M107 381.5H120M107 383.5H143M66.5 374V383M66 374.5H81M66 382.5H108M36.5 333V379M36 333.5H51M36 378.5H67M141.5 384V385M141 384.5H154M138.5 384V385M138 384.5H154M138 384.5H142M132.5 384V386M132 384.5H154M132 385.5H154M131.5 384V385M131 384.5H139M131 384.5H133M143.5 385V386M143 385.5H154M148.5 386V387M148 386.5H154M143.5 385V387M143 386.5H149M143 385.5H144M143 386.5H144M110.5 384V386M110 384.5H132M110 385.5H144M147.5 386V387M147 386.5H154M138.5 386V387M138 386.5H154M138 386.5H148M145.5 387V388M145 387.5H154M130.5 386V388M130 386.5H139M130 387.5H146M151.5 387V388M151 387.5H154M145.5 387V389M145 387.5H152M145 388.5H154M129.5 386V388M129 386.5H131M129 387.5H146M146.5 388V389M146 388.5H154M146 388.5H147M144.5 388V389M144 388.5H147M144 388.5H154M138.5 388V389M138 388.5H145M138 388.5H154M147.5 389V390M147 389.5H154M147 389.5H148M146.5 389V390M146 389.5H148M146 389.5H154M139.5 389V390M139 389.5H154M139 389.5H147M139.5 390V391M139 390.5H154M138.5 389V391M138 389.5H140M138 390.5H140M137.5 388V390M137 388.5H139M137 389.5H139M127.5 387V390M127 387.5H130M127 389.5H138M150.5 390V392M150 390.5H154M150 391.5H154M147.5 390V392M147 390.5H151M147 391.5H154M147 390.5H154M147 391.5H148M125.5 388V391M125 388.5H128M125 390.5H148M150.5 391V392M142.5 391V392M142 391.5H151M142 391.5H154M138.5 391V392M138 391.5H154M138 391.5H143M131.5 391V393M131 391.5H139M131 392.5H154M123.5 389V392M123 389.5H126M123 391.5H132M150.5 392V393M150 392.5H154M141.5 392V393M141 392.5H151M141 392.5H154M140.5 392V393M140 392.5H154M140 392.5H142M147.5 393V395M147 393.5H154M147 394.5H154M144.5 393V395M144 393.5H154M144 394.5H148M145.5 394V395M145 394.5H154M144.5 394V395M144 394.5H146M144 394.5H154M144 393.5H145M144 394.5H145M139.5 393V395M139 393.5H154M139 394.5H145M136.5 392V394M136 392.5H141M136 393.5H140M135.5 394V396M135 394.5H154M135 395.5H154M147.5 395V396M147 395.5H154M145.5 395V396M145 395.5H154M145 395.5H148M141.5 395V397M141 395.5H146M141 396.5H154M150.5 396V397M150 396.5H154M146.5 397V398M146 397.5H154M142.5 396V398M142 396.5H151M142 397.5H147M141.5 396V397M141 396.5H143M140.5 395V397M140 395.5H142M140 396.5H142M151.5 397V398M151 397.5H154M139.5 396V398M139 396.5H141M139 397.5H152M128.5 395V398M128 395.5H136M128 397.5H140M108.5 393V397M108 393.5H137M108 396.5H129M98.5 390V395M98 390.5H124M98 394.5H109M80.5 385V393M80 385.5H111M80 392.5H99M150.5 398V399M150 398.5H154M144.5 398V399M144 398.5H151M144 398.5H154M143.5 398V399M143 398.5H154M141.5 398V399M141 398.5H145M141 398.5H144M146.5 398V400M146 398.5H154M146 399.5H154M145.5 399V400M145 399.5H147M145 399.5H154M147.5 399V401M147 399.5H154M147 400.5H154M147.5 399V400M147 399.5H148M141.5 399V400M141 399.5H146M141 399.5H148M146.5 400V401M146 400.5H154M145.5 400V401M145 400.5H154M145 400.5H147M149.5 400V401M149 400.5H154M141.5 400V401M141 400.5H146M141 400.5H150M140.5 399V401M140 399.5H142M140 400.5H142M139.5 398V401M139 398.5H142M139 400.5H141M139.5 401V402M139 401.5H154M138.5 399V402M138 399.5H140M138 401.5H140M152.5 402V403M152 402.5H154M149.5 402V403M149 402.5H153M149 402.5H154M148.5 401V403M148 401.5H154M148 402.5H150M139.5 401V403M139 402.5H149M144.5 403V404M144 403.5H154M144.5 402V404M144 402.5H154M144 403.5H145M143.5 402V404M143 402.5H145M143 403.5H145M142.5 402V404M142 402.5H154M142 403.5H144M144.5 404V405M144 404.5H154M143.5 403V405M143 403.5H154M143 404.5H145M141.5 402V405M141 402.5H143M141 404.5H144M145.5 404V405M145 404.5H154M144.5 404V406M144 404.5H146M144 405.5H154M143.5 404V406M143 405.5H154M140.5 403V406M140 403.5H142M140 405.5H144M148.5 405V406M148 405.5H154M147.5 405V407M147 405.5H149M147 406.5H154M149.5 406V407M149 406.5H154M149 406.5H150M148.5 406V407M148 406.5H154M148 406.5H150M146.5 405V407M146 405.5H148M146 406.5H149M134.5 404V407M134 404.5H141M134 406.5H147M131.5 401V406M131 401.5H140M131 405.5H135M108.5 400V404M108 400.5H139M108 403.5H132M65.5 388V402M65 388.5H81M65 401.5H109M147.5 407V408M147 407.5H154M146.5 407V408M146 407.5H154M146 407.5H148M144.5 407V408M144 407.5H147M144 407.5H154M142.5 407V408M142 407.5H145M142 407.5H154M141.5 407V408M141 407.5H154M141 407.5H143M145.5 408V409M145 408.5H154M143.5 408V410M143 408.5H154M143 409.5H153M139.5 408V409M139 408.5H154M139 408.5H144M135.5 408V409M135 408.5H146M135 408.5H140M120.5 407V409M120 407.5H142M120 408.5H136M150.5 409V410M150 409.5H154M115.5 407V410M115 407.5H121M115 409.5H151M150.5 409V411M150 410.5H154M144.5 410V411M144 410.5H154M144 410.5H145M144.5 411V412M144 411.5H154M146.5 411V412M146 411.5H154M144.5 411V413M144 411.5H147M144 412.5H154M144 411.5H145M144 412.5H145M143.5 410V412M143 410.5H145M143 411.5H145M142.5 410V412M142 410.5H151M142 411.5H144M146.5 412V413M146 412.5H154M141.5 412V413M141 412.5H154M141 412.5H147M140.5 410V413M140 410.5H143M140 412.5H142M103.5 408V412M103 408.5H116M103 411.5H141M147.5 413V414M147 413.5H154M147 413.5H148M146.5 413V414M146 413.5H154M146 413.5H148M145.5 413V415M145 413.5H147M145 414.5H154M144.5 413V414M144 413.5H154M144 413.5H146M144.5 413V415M144 413.5H145M144 414.5H154M143.5 413V415M143 413.5H145M143 414.5H154M147.5 415V416M147 415.5H154M147 415.5H148M146.5 414V416M146 414.5H154M146 415.5H148M152.5 415V416M152 415.5H154M145.5 415V416M145 415.5H147M145 415.5H153M142.5 414V416M142 414.5H144M142 415.5H146M142.5 416V417M142 416.5H154M144.5 416V417M144 416.5H154M141.5 416V417M141 416.5H143M141 416.5H145M140.5 415V417M140 415.5H154M140 416.5H142M149.5 417V418M149 417.5H154M146.5 417V419M146 417.5H154M146 418.5H154M146 418.5H147M145.5 417V418M145 417.5H154M145 417.5H147M140.5 417V418M140 417.5H150M140 417.5H146M139.5 416V418M139 416.5H141M139 417.5H141M148.5 419V420M148 419.5H154M147.5 419V420M147 419.5H149M147 419.5H154M147.5 418V420M147 418.5H154M147 419.5H148M146.5 418V420M146 418.5H148M146 419.5H154M130.5 418V420M130 418.5H154M130 419.5H147M141.5 420V421M141 420.5H154M140.5 419V421M140 419.5H154M140 420.5H142M139.5 420V421M139 420.5H141M139 420.5H154M129.5 418V421M129 418.5H131M129 420.5H140M127.5 416V420M127 416.5H140M127 419.5H130M148.5 420V422M148 420.5H154M148 421.5H154M132.5 420V422M132 420.5H154M132 421.5H149M151.5 421V422M151 421.5H154M151 421.5H152M151.5 421V423M151 422.5H154M150.5 421V422M150 421.5H154M150 421.5H152M150 421.5H151M144.5 422V423M144 422.5H154M137.5 421V423M137 421.5H151M137 422.5H145M125.5 420V422M125 420.5H133M125 421.5H138M123.5 418V422M123 418.5H128M123 421.5H126M148.5 422V423M148 422.5H154M147.5 422V423M147 422.5H149M147 422.5H154M147.5 423V424M147 423.5H154M147 423.5H148M148.5 423V425M148 423.5H154M148 424.5H154M147 423.5H149M150.5 424V425M150 424.5H154M149.5 424V425M149 424.5H154M149 424.5H151M148.5 424V425M148 424.5H150M148.5 424V426M148 425.5H154M147.5 424V426M147 424.5H149M147 425.5H149M147.5 423V425M147 424.5H148M146.5 423V425M146 423.5H148M146 424.5H148M125.5 422V424M125 422.5H148M125 423.5H147M141.5 425V426M141 425.5H154M142.5 426V427M142 426.5H154M141.5 425V427M141 426.5H143M140.5 425V427M140 425.5H142M140 426.5H142M139.5 425V427M139 425.5H141M139 426.5H154M121.5 423V427M121 423.5H126M121 426.5H140M149.5 427V428M149 427.5H154M148.5 426V428M148 426.5H154M148 427.5H150M148.5 427V428M148 427.5H149M148 427.5H154M147.5 426V428M147 426.5H154M147 427.5H149M148.5 427V429M148 428.5H154M149.5 428V429M149 428.5H154M149 428.5H150M149.5 429V430M149 429.5H154M149 429.5H150M148.5 428V430M148 428.5H150M148 429.5H150M148.5 428V429M148 428.5H149M149.5 429V431M149 430.5H154M148.5 429V431M148 430.5H154M148.5 430V431M148 430.5H149M147.5 428V431M147 428.5H149M147 430.5H149M147.5 427V430M147 427.5H148M147 429.5H148M144.5 430V432M144 430.5H154M144 431.5H154M143.5 431V432M143 431.5H145M143 431.5H154M143 431.5H144M148.5 432V433M148 432.5H154M141.5 431V433M141 431.5H154M141 432.5H149M145.5 432V434M145 432.5H154M145 433.5H154M144.5 432V434M144 432.5H154M144 433.5H146M141.5 432V433M141 432.5H154M141 432.5H145M140.5 432V433M140 432.5H142M130.5 432V434M130 432.5H141M130 433.5H154M126.5 431V433M126 431.5H144M126 432.5H131M124.5 428V433M124 428.5H148M124 432.5H127M119.5 424V431M119 424.5H122M119 430.5H125M117.5 419V428M117 419.5H124M117 427.5H120M115.5 414V424M115 414.5H143M115 423.5H118M145.5 434V435M145 434.5H154M144.5 433V435M144 433.5H154M144 434.5H146M151.5 434V435M151 434.5H154M145.5 434V436M145 435.5H154M145 434.5H152M145 435.5H146M145.5 435V436M144.5 434V436M144 435.5H146M143.5 433V436M143 433.5H145M143 435.5H145M144.5 435V437M144 435.5H154M144 436.5H154M149.5 436V437M149 436.5H154M148.5 436V437M148 436.5H150M148 436.5H154M146.5 436V438M146 436.5H154M146 437.5H154M145.5 437V438M145 437.5H147M145 437.5H154M145.5 436V438M145 436.5H149M145 437.5H146M144.5 436V438M144 436.5H146M144 437.5H146M143.5 436V438M143 436.5H145M143 437.5H145M142.5 434V437M142 434.5H144M142 436.5H144M113.5 419V436M113 419.5H116M113 435.5H143M147.5 438V439M147 438.5H154M144.5 438V439M144 438.5H148M144 438.5H154M136.5 438V439M136 438.5H145M136 438.5H154M135.5 438V440M135 438.5H137M135 439.5H154M150.5 439V440M150 439.5H154M150.5 439V441M150 439.5H151M150 440.5H154M149.5 439V441M149 439.5H154M149 440.5H151M148.5 441V442M148 441.5H154M147.5 440V442M147 440.5H154M147 441.5H149M147.5 440V441M147 440.5H148M146.5 440V441M146 440.5H154M146 440.5H148M151.5 441V442M151 441.5H154M146.5 441V442M146 441.5H152M146 441.5H154M145.5 440V442M145 440.5H147M145 441.5H147M134.5 441V443M134 441.5H146M134 442.5H154M150.5 442V443M150 442.5H154M150 442.5H151M132.5 441V443M132 441.5H135M132 442.5H151M131.5 439V443M131 439.5H150M131 442.5H133M130.5 438V441M130 438.5H136M130 440.5H132M110.5 427V440M110 427.5H114M110 439.5H131M148.5 443V444M148 443.5H154M141.5 443V444M141 443.5H149M141 443.5H154M144.5 443V445M144 443.5H154M144 444.5H154M148.5 444V445M148 444.5H154M148 444.5H149M147.5 444V445M147 444.5H149M147 444.5H154M144.5 444V446M144 444.5H148M144 445.5H154M143.5 443V445M143 443.5H145M143 444.5H145M146.5 445V446M146 445.5H154M142.5 445V446M142 445.5H147M142 445.5H154M140.5 444V446M140 444.5H144M140 445.5H143M139.5 443V446M139 443.5H142M139 445.5H141M148.5 446V447M148 446.5H154M148 446.5H149M147.5 446V448M147 446.5H154M147 447.5H154M146.5 446V448M146 446.5H154M146 447.5H148M145.5 446V447M145 446.5H149M145 446.5H147M145 446.5H154M145 446.5H146M145.5 447V448M145 447.5H154M145 447.5H146M149.5 448V449M149 448.5H154M137.5 447V449M137 447.5H146M137 448.5H150M151.5 448V450M151 448.5H154M151 449.5H154M151.5 449V450M151 449.5H152M150.5 449V450M150 449.5H152M150 449.5H154M150.5 449V451M150 450.5H154M150 449.5H151M149.5 448V450M149 449.5H151M134.5 447V450M134 447.5H138M134 449.5H150M133.5 446V449M133 446.5H146M133 448.5H135M131.5 444V448M131 444.5H140M131 447.5H134M145.5 450V451M145 450.5H154M144.5 450V452M144 450.5H154M144 451.5H154M143.5 450V451M143 450.5H146M143 450.5H145M144.5 451V452M143.5 450V452M143 450.5H144M143 451.5H145M117.5 445V452M117 445.5H132M117 451.5H144M147.5 451V453M147 451.5H154M147 452.5H154M144.5 451V453M144 452.5H148M140.5 451V452M140 451.5H154M140 451.5H145M138.5 451V453M138 451.5H141M138 452.5H154M149.5 452V453M149 452.5H154M150.5 453V454M150 453.5H154M149.5 453V454M149 453.5H151M149 453.5H154M138.5 452V454M138 452.5H150M138 453.5H150M137.5 452V454M137 452.5H139M137 453.5H139M149.5 454V455M149 454.5H154M147.5 453V455M147 453.5H154M147 454.5H150M146.5 453V455M146 453.5H154M146 454.5H148M145.5 453V454M145 453.5H154M145 453.5H147M146.5 454V455M146 454.5H154M145.5 454V455M145 454.5H147M145 454.5H154M145.5 453V455M145 453.5H146M145 454.5H146M119.5 452V455M119 452.5H138M119 454.5H146M115.5 448V454M115 448.5H118M115 453.5H120M104.5 433V451M104 433.5H111M104 450.5H116M98.5 410V443M98 410.5H104M98 442.5H105M150.5 455V456M150 455.5H154M150 455.5H151M150.5 456V457M150 456.5H154M135.5 455V457M135 455.5H154M135 456.5H151M134.5 455V457M134 455.5H151M134 456.5H136M145.5 456V458M145 456.5H154M145 457.5H153M143.5 457V458M143 457.5H154M142.5 457V458M142 457.5H144M142 457.5H154M150.5 457V459M150 457.5H154M150 458.5H154M141.5 457V459M141 457.5H143M141 458.5H151M140.5 456V458M140 456.5H146M140 457.5H142M150.5 458V459M149.5 458V459M149 458.5H154M149 458.5H151M140.5 458V460M140 458.5H150M140 459.5H154M147.5 459V460M147 459.5H154M139.5 458V460M139 458.5H141M139 459.5H148M147.5 459V461M147 460.5H154M147 460.5H148M146.5 459V461M146 459.5H148M146 460.5H154M138.5 459V461M138 459.5H140M138 460.5H147M136.5 457V460M136 457.5H141M136 459.5H139M132.5 455V459M132 455.5H135M132 458.5H137M144.5 460V461M144 460.5H154M144 460.5H145M137.5 460V462M137 460.5H145M137 461.5H154M131.5 457V461M131 457.5H133M131 460.5H138M149.5 461V462M149 461.5H154M149 461.5H150M148.5 461V463M148 461.5H150M148 462.5H154M144.5 462V463M144 462.5H154M150.5 463V464M150 463.5H154M148.5 463V464M148 463.5H154M148 463.5H151M145.5 463V465M145 463.5H154M145 464.5H154M144.5 463V464M144 463.5H149M144 463.5H146M143.5 462V464M143 462.5H145M143 463.5H145M142.5 463V465M142 463.5H144M142 464.5H154M149.5 464V466M149 464.5H154M149 465.5H154M149 465.5H150M142.5 464V466M142 464.5H150M142 465.5H154M136.5 463V466M136 463.5H143M136 465.5H143M145.5 465V467M145 465.5H154M145 466.5H154M143.5 465V467M143 465.5H154M143 466.5H146M141.5 465V467M141 465.5H144M141 466.5H154M146.5 466V467M146 466.5H154M141.5 466V468M141 466.5H147M141 467.5H154M140.5 466V467M140 466.5H142M135.5 464V467M135 464.5H137M135 466.5H141M129.5 462V466M129 462.5H149M129 465.5H136M147.5 467V468M147 467.5H154M146.5 467V468M146 467.5H154M146 467.5H148M129.5 467V468M129 467.5H147M129 467.5H154M127.5 463V468M127 463.5H130M127 467.5H130M104.5 459V466M104 459.5H132M104 465.5H128M148.5 468V469M148 468.5H154M147.5 468V469M147 468.5H154M147 468.5H149M147 468.5H148M146.5 468V470M146 468.5H148M146 469.5H154M145.5 468V469M145 468.5H154M145 468.5H147M149.5 469V470M149 469.5H154M149.5 470V471M149 470.5H154M149.5 469V471M149 470.5H150M148.5 469V470M148 469.5H154M148 469.5H150M148.5 469V471M148 469.5H149M148 470.5H154M145.5 470V471M145 470.5H149M145 470.5H154M144.5 469V471M144 469.5H150M144 470.5H146M149.5 471V472M149 471.5H154M148.5 471V472M148 471.5H150M148 471.5H154M132.5 470V472M132 470.5H154M132 471.5H149M130.5 469V472M130 469.5H145M130 471.5H133M142.5 471V472M142 471.5H154M131.5 471V473M131 471.5H143M131 472.5H154M129.5 470V472M129 470.5H131M129 471.5H132M140.5 472V473M140 472.5H154M151.5 472V474M151 472.5H154M151 473.5H154M150.5 472V473M150 472.5H154M150 472.5H152M142.5 473V474M142 473.5H154M141.5 473V474M141 473.5H154M141 473.5H143M135.5 472V474M135 472.5H151M135 473.5H142M134.5 472V474M134 472.5H141M134 473.5H136M127.5 471V473M127 471.5H130M127 472.5H135M149.5 473V475M149 473.5H154M149 474.5H154M147.5 474V476M147 474.5H154M147 475.5H154M144.5 474V476M144 474.5H154M144 475.5H148M143.5 474V475M143 474.5H154M143 474.5H145M138.5 474V475M138 474.5H154M138 474.5H144M147.5 475V476M140.5 475V476M140 475.5H148M140 475.5H154M127.5 474V476M127 474.5H139M127 475.5H141M121.5 474V476M121 474.5H150M121 475.5H128M110.5 471V475M110 471.5H128M110 474.5H122M108.5 468V474M108 468.5H146M108 473.5H111M99.5 462V471M99 462.5H105M99 470.5H109M92.5 426V467M92 426.5H99M92 466.5H100M147.5 476V477M147 476.5H154M147 476.5H148M135.5 476V477M135 476.5H154M135 476.5H148M134.5 476V477M134 476.5H154M134 476.5H136M150.5 477V478M150 477.5H154M145.5 477V478M145 477.5H151M145 477.5H154M145 477.5H146M147.5 478V479M147 478.5H154M140.5 478V480M140 478.5H154M140 479.5H154M139.5 478V479M139 478.5H148M139 478.5H141M135.5 477V479M135 477.5H146M135 478.5H140M126.5 476V479M126 476.5H135M126 478.5H136M148.5 479V480M148 479.5H154M149.5 479V481M149 479.5H154M149 480.5H154M148.5 479V481M148 480.5H150M148 479.5H149M147.5 479V481M147 479.5H149M147 480.5H154M149.5 480V482M149 481.5H154M149 480.5H150M142.5 481V482M142 481.5H150M142 481.5H154M141.5 481V482M141 481.5H143M141 481.5H154M137.5 480V482M137 480.5H148M137 481.5H142M125.5 477V481M125 477.5H127M125 480.5H138M84.5 446V480M84 446.5H93M84 479.5H126M60.5 395V463M60 395.5H66M60 462.5H85M148.5 482V483M148 482.5H154M148 482.5H153M150.5 483V484M150 483.5H154M150 483.5H151M147.5 483V484M147 483.5H154M146.5 483V484M146 483.5H151M146 483.5H148M148.5 483V485M148 483.5H154M148 484.5H154M145.5 484V485M145 484.5H154M142.5 484V485M142 484.5H149M142 484.5H146M141.5 483V485M141 483.5H147M141 484.5H143M140.5 482V484M140 482.5H149M140 483.5H142M139.5 482V484M139 482.5H154M139 483.5H141M135.5 484V486M135 484.5H154M135 485.5H154M133.5 482V485M133 482.5H140M133 484.5H136M146.5 485V487M146 485.5H154M146 486.5H154M145.5 485V487M145 485.5H154M145 486.5H147M151.5 486V487M151 486.5H154M151 486.5H152M145.5 486V487M145 486.5H154M145 486.5H152M144.5 485V487M144 485.5H146M144 486.5H146M140.5 486V487M140 486.5H145M140 486.5H154M139.5 485V487M139 485.5H154M139 486.5H141M146.5 487V488M146 487.5H154M146 487.5H147M151.5 487V488M151 487.5H154M151.5 487V489M151 487.5H152M151 488.5H154M150.5 487V489M150 487.5H154M150 488.5H152M151.5 488V489M137.5 487V489M137 487.5H151M137 488.5H152M146.5 489V490M146 489.5H154M148.5 490V491M148 490.5H154M142.5 490V492M142 490.5H149M142 491.5H154M141.5 490V491M141 490.5H154M141 490.5H143M140.5 490V491M140 490.5H154M140 490.5H142M139.5 489V491M139 489.5H147M139 490.5H141M138.5 489V491M138 489.5H154M138 490.5H140M135.5 488V490M135 488.5H138M135 489.5H139M133.5 487V489M133 487.5H147M133 488.5H136M124.5 485V489M124 485.5H140M124 488.5H134M122.5 483V488M122 483.5H134M122 487.5H125M152.5 491V492M152 491.5H153M148.5 492V493M148 492.5H154M144.5 491V493M144 491.5H153M144 492.5H149M120.5 485V493M120 485.5H123M120 492.5H145M144.5 492V494M144 492.5H154M144 493.5H154M139.5 493V494M139 493.5H154M145.5 493V494M145 493.5H154M138.5 493V494M138 493.5H140M138 493.5H146M137.5 493V495M137 493.5H139M137 494.5H154M136.5 493V494M136 493.5H145M136 493.5H138M132.5 493V495M132 493.5H137M132 494.5H154M151.5 495V496M151 495.5H154M150.5 495V496M150 495.5H152M150 495.5H154M147.5 494V496M147 494.5H154M147 495.5H151M146.5 494V496M146 494.5H154M146 495.5H148M146.5 495V496M146 495.5H154M136.5 495V497M136 495.5H147M136 496.5H154M134.5 494V497M134 494.5H147M134 496.5H137M122.5 493V496M122 493.5H133M122 495.5H135M118.5 488V495M118 488.5H121M118 494.5H123M152.5 496V497M152 496.5H154M146.5 496V497M146 496.5H153M146 496.5H154M145.5 496V497M145 496.5H154M145 496.5H147M144.5 496V498M144 496.5H146M144 497.5H154M143.5 496V497M143 496.5H154M143 496.5H145M150.5 497V498M150 497.5H154M149.5 497V498M149 497.5H154M149 497.5H151M144.5 497V499M144 497.5H150M144 498.5H154M144.5 498V499M140.5 498V499M140 498.5H154M140 498.5H145M136.5 498V499M136 498.5H145M136 498.5H141M144.5 499V500M144 499.5H154M143.5 499V500M143 499.5H145M143 499.5H154M137.5 499V500M137 499.5H154M137 499.5H144M135.5 498V500M135 498.5H137M135 499.5H138M130.5 497V499M130 497.5H150M130 498.5H136M118.5 496V499M118 496.5H144M118 498.5H131M116.5 491V498M116 491.5H119M116 497.5H119M148.5 500V501M148 500.5H154M145.5 500V501M145 500.5H149M145 500.5H154M144.5 500V501M144 500.5H146M144 500.5H154M144 500.5H145M152.5 501V502M152 501.5H153M152 501.5H154M152.5 502V503M152 502.5H154M149.5 501V503M149 501.5H154M149 502.5H153M149 501.5H153M149 502.5H150M142.5 500V502M142 500.5H145M142 501.5H150M146.5 503V504M146 503.5H154M145.5 502V504M145 502.5H154M145 503.5H147M144.5 502V504M144 502.5H154M144 503.5H146M144.5 503V505M144 503.5H154M144 504.5H154M144 502.5H145M144 503.5H145M147.5 504V505M147 504.5H154M147 504.5H148M147.5 505V506M147 505.5H154M146.5 504V506M146 504.5H148M146 505.5H148M145.5 504V505M145 504.5H154M145 504.5H147M146.5 505V506M146 505.5H154M145.5 505V506M145 505.5H147M145 505.5H154M144.5 504V506M144 504.5H146M144 505.5H146M144.5 505V507M144 505.5H145M144 506.5H154M143.5 503V506M143 503.5H145M143 505.5H145M147.5 506V507M147 506.5H154M151.5 506V507M151 506.5H154M145.5 506V508M145 506.5H152M145 507.5H154M144.5 506V507M144 506.5H148M144 506.5H146M151.5 507V508M151 507.5H154M144.5 506V508M144 506.5H145M144 507.5H152M147.5 508V509M147 508.5H154M147.5 507V509M147 507.5H154M147 508.5H148M144.5 507V508M144 507.5H154M144 507.5H148M144.5 507V509M144 507.5H145M144 508.5H154M143.5 507V509M143 507.5H145M143 508.5H145M142.5 504V508M142 504.5H144M142 507.5H144M146.5 508V509M146 508.5H154M148.5 509V510M148 509.5H154M150.5 509V510M150 509.5H154M148 509.5H149M148 509.5H151M147.5 508V510M147 509.5H149M146.5 509V510M146 509.5H148M146 509.5H154M142.5 508V510M142 508.5H147M142 509.5H147M141.5 506V510M141 506.5H143M141 509.5H143M145.5 510V511M145 510.5H154M144.5 509V511M144 509.5H154M144 510.5H146M145.5 510V512M145 511.5H154M144.5 510V511M144 510.5H154M143.5 510V511M143 510.5H145M140.5 507V511M140 507.5H142M140 510.5H144M139.5 501V509M139 501.5H143M139 508.5H141M147.5 511V512M147 511.5H154M144.5 511V512M144 511.5H148M144 511.5H154M150.5 511V513M150 511.5H154M150 512.5H154M143.5 511V512M143 511.5H145M143 511.5H151M149.5 512V513M149 512.5H154M143.5 511V513M143 511.5H144M143 512.5H150M145.5 512V514M145 512.5H154M145 513.5H154M144.5 512V513M144 512.5H154M144 512.5H146M146.5 513V514M146 513.5H154M143.5 512V514M143 512.5H145M143 513.5H147M148.5 513V514M148 513.5H154M152.5 514V515M152 514.5H154M151.5 514V515M151 514.5H153M151 514.5H154M144.5 513V515M144 513.5H149M144 514.5H152M143.5 514V515M143 514.5H145M143 514.5H154M143.5 513V515M143 513.5H144M143 514.5H144M142.5 512V514M142 512.5H144M142 513.5H144M149.5 514V516M149 514.5H154M149 515.5H154M148.5 515V516M148 515.5H150M148 515.5H154M143.5 514V516M143 515.5H149M148.5 516V517M148 516.5H154M147.5 516V517M147 516.5H149M146.5 515V517M146 515.5H154M146 516.5H148M143.5 516V518M143 516.5H154M143 517.5H154M144.5 517V518M144 517.5H154M144.5 517V519M144 518.5H154M144 518.5H145M143.5 517V518M143 517.5H145M142.5 518V519M142 518.5H154M141.5 518V519M141 518.5H154M141 518.5H143M140.5 518V520M140 518.5H142M140 519.5H154M139.5 517V519M139 517.5H144M139 518.5H141M138.5 517V519M138 517.5H144M138 518.5H140M137.5 516V518M137 516.5H147M137 517.5H139M136.5 515V517M136 515.5H144M136 516.5H138M143.5 519V520M143 519.5H154M141.5 519V520M141 519.5H154M141 519.5H144M135.5 515V520M135 515.5H137M135 519.5H142M145.5 520V521M145 520.5H153M145 520.5H154M145.5 521V522M145 521.5H154M144.5 520V522M144 520.5H146M144 521.5H146M142.5 520V522M142 520.5H154M142 521.5H145M138.5 520V521M138 520.5H146M138 520.5H143M137.5 520V522M137 520.5H139M137 521.5H154M148.5 522V523M148 522.5H154M148 522.5H149M142.5 521V523M142 521.5H154M142 522.5H149M145.5 522V524M145 522.5H154M145 523.5H154M141.5 522V523M141 522.5H143M141 522.5H146M146.5 523V524M146 523.5H154M140.5 522V524M140 522.5H142M140 523.5H147M138.5 523V525M138 523.5H154M138 524.5H154M135.5 523V525M135 523.5H139M135 524.5H154M151.5 524V525M151 524.5H154M136.5 524V525M136 524.5H152M136 524.5H154M134.5 524V525M134 524.5H136M134 524.5H137M148.5 525V526M148 525.5H154M148 525.5H149M151.5 525V527M151 525.5H154M151 526.5H154M146.5 526V527M146 526.5H152M146 526.5H154M145.5 526V527M145 526.5H147M145 526.5H154M144.5 526V527M144 526.5H154M143.5 526V527M143 526.5H146M143 526.5H145M134.5 525V527M134 525.5H149M134 526.5H144M132.5 524V526M132 524.5H135M132 525.5H135M131.5 522V526M131 522.5H141M131 525.5H133M130.5 521V525M130 521.5H138M130 524.5H132M128.5 517V523M128 517.5H136M128 522.5H131M121.5 512V521M121 512.5H143M121 520.5H129M119.5 505V517M119 505.5H140M119 516.5H122M111.5 494V511M111 494.5H117M111 510.5H120M142.5 527V528M142 527.5H154M138.5 527V528M138 527.5H143M138 527.5H154M144.5 528V529M144 528.5H154M143.5 527V529M143 527.5H154M143 528.5H145M136.5 528V529M136 528.5H144M136 528.5H154M135.5 527V529M135 527.5H139M135 528.5H137M147.5 529V530M147 529.5H154M144.5 529V530M144 529.5H154M144 529.5H148M133.5 527V530M133 527.5H136M133 529.5H145M150.5 529V531M150 529.5H154M150 530.5H154M145.5 530V531M145 530.5H154M144.5 530V531M144 530.5H146M144 530.5H154M145.5 530V532M145 531.5H154M151.5 531V532M151 531.5H154M150.5 531V532M150 531.5H152M150 531.5H154M145.5 531V532M145 531.5H146M145 531.5H151M145.5 531V533M145 532.5H154M144.5 531V533M144 531.5H146M144 532.5H146M143.5 530V532M143 530.5H145M143 531.5H145M134.5 529V532M134 529.5H151M134 531.5H144M141.5 532V533M141 532.5H154M140.5 532V534M140 532.5H142M140 533.5H154M151.5 533V534M151 533.5H154M143.5 533V535M143 533.5H154M143 534.5H154M140.5 533V535M140 533.5H152M140 534.5H144M131.5 533V535M131 533.5H141M131 534.5H154M129.5 533V535M129 533.5H141M129 534.5H132M150.5 534V535M150 534.5H154M149.5 534V535M149 534.5H151M149 534.5H154M150.5 535V536M150 535.5H154M150 535.5H151M149.5 535V536M149 535.5H154M149 535.5H151M149 535.5H150M134.5 534V536M134 534.5H150M134 535.5H150M128.5 533V536M128 533.5H130M128 535.5H135M126.5 530V535M126 530.5H135M126 534.5H129M125.5 528V533M125 528.5H134M125 532.5H127M101.5 502V531M101 502.5H112M101 530.5H126M143.5 536V537M143 536.5H154M149.5 536V537M149 536.5H154M148.5 536V537M148 536.5H154M148 536.5H150M148.5 536V538M148 536.5H149M148 537.5H154M147.5 536V537M147 536.5H154M147 536.5H149M140.5 536V538M140 536.5H148M140 537.5H154M129.5 536V537M129 536.5H144M129 536.5H141M147.5 538V539M147 538.5H154M146.5 537V539M146 537.5H154M146 538.5H148M145.5 537V538M145 537.5H154M145 537.5H147M149.5 538V539M149 538.5H154M148.5 538V539M148 538.5H154M148 538.5H150M144.5 537V539M144 537.5H146M144 538.5H149M128.5 536V539M128 536.5H130M128 538.5H145M95.5 516V538M95 516.5H102M95 537.5H129M147.5 539V540M147 539.5H154M147 539.5H148M141.5 539V540M141 539.5H154M141 539.5H148M140.5 539V540M140 539.5H142M140 539.5H154M144.5 540V541M144 540.5H154M144 540.5H145M143.5 540V541M143 540.5H145M143 540.5H154M141.5 540V541M141 540.5H144M141 540.5H154M130.5 539V541M130 539.5H141M130 540.5H142M88.5 526V541M88 526.5H96M88 540.5H131M151.5 541V543M151 541.5H154M151 542.5H154M142.5 541V542M142 541.5H154M142 541.5H152M146.5 542V543M146 542.5H154M141.5 541V543M141 541.5H143M141 542.5H147M131.5 541V543M131 541.5H154M131 542.5H142M148.5 542V543M148 542.5H154M130.5 541V543M130 541.5H132M130 542.5H149M81.5 533V543M81 533.5H89M81 542.5H131M51.5 429V538M51 429.5H61M51 537.5H82M6.5 356V484M6 356.5H37M6 483.5H52" stroke="#1c1c1c" stroke-width="1" fill="none"/></svg></body></html>
